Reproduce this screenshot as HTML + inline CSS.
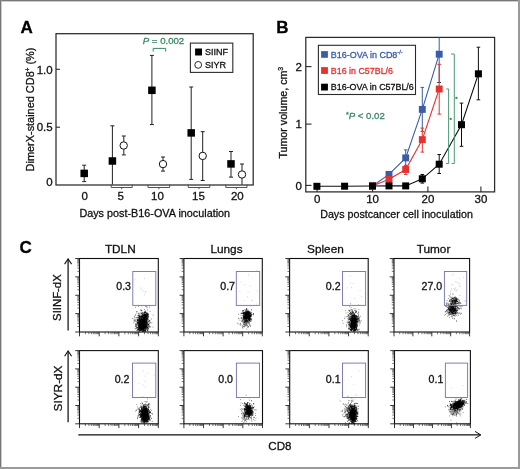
<!DOCTYPE html>
<html><head><meta charset="utf-8"><style>
html,body{margin:0;padding:0;background:#fff;}
svg{display:block;}
</style></head><body>
<svg width="520" height="469" viewBox="0 0 520 469" font-family='"Liberation Sans", sans-serif'>
<rect x="0" y="0" width="520" height="469" fill="#fff"/>
<defs><filter id="soft" x="0" y="0" width="520" height="469" filterUnits="userSpaceOnUse"><feGaussianBlur stdDeviation="0.25"/></filter></defs>
<g filter="url(#soft)">
<rect x="0" y="0" width="520" height="469" fill="#fff"/>
<text x="20.4" y="32.9" font-size="17" text-anchor="start" fill="#000" font-weight="bold"  stroke="#000" stroke-width="0.3">A</text>
<rect x="56" y="33.7" width="197.2" height="151.3" fill="none" stroke="#2a2a2a" stroke-width="1.25"/>
<line x1="56.00" y1="69.30" x2="60.00" y2="69.30" stroke="#2a2a2a" stroke-width="1.1" />
<line x1="56.00" y1="127.20" x2="60.00" y2="127.20" stroke="#2a2a2a" stroke-width="1.1" />
<text x="52.7" y="73.8" font-size="11.5" text-anchor="end" fill="#111" font-weight="normal"  stroke="#111" stroke-width="0.3">1.0</text>
<text x="52.7" y="130.9" font-size="11.5" text-anchor="end" fill="#111" font-weight="normal"  stroke="#111" stroke-width="0.3">0.5</text>
<text x="52.6" y="186.0" font-size="11.5" text-anchor="end" fill="#111" font-weight="normal"  stroke="#111" stroke-width="0.3">0</text>
<path d="M111.2 184.7 V187.5 H132.2 V184.7" fill="none" stroke="#444" stroke-width="0.9"/>
<line x1="121.70" y1="187.50" x2="121.70" y2="189.20" stroke="#444" stroke-width="0.9" />
<path d="M148.0 184.7 V187.5 H169.7 V184.7" fill="none" stroke="#444" stroke-width="0.9"/>
<line x1="158.85" y1="187.50" x2="158.85" y2="189.20" stroke="#444" stroke-width="0.9" />
<path d="M188.2 184.7 V187.5 H209.8 V184.7" fill="none" stroke="#444" stroke-width="0.9"/>
<line x1="199.00" y1="187.50" x2="199.00" y2="189.20" stroke="#444" stroke-width="0.9" />
<path d="M225.8 184.7 V187.5 H247.0 V184.7" fill="none" stroke="#444" stroke-width="0.9"/>
<line x1="236.40" y1="187.50" x2="236.40" y2="189.20" stroke="#444" stroke-width="0.9" />
<text x="84.8" y="199.6" font-size="11.5" text-anchor="middle" fill="#111" font-weight="normal"  stroke="#111" stroke-width="0.3">0</text>
<text x="120.7" y="199.6" font-size="11.5" text-anchor="middle" fill="#111" font-weight="normal"  stroke="#111" stroke-width="0.3">5</text>
<text x="157.5" y="199.6" font-size="11.5" text-anchor="middle" fill="#111" font-weight="normal"  stroke="#111" stroke-width="0.3">10</text>
<text x="198.5" y="199.6" font-size="11.5" text-anchor="middle" fill="#111" font-weight="normal"  stroke="#111" stroke-width="0.3">15</text>
<text x="237.3" y="199.6" font-size="11.5" text-anchor="middle" fill="#111" font-weight="normal"  stroke="#111" stroke-width="0.3">20</text>
<text x="79.4" y="217.3" font-size="11.5" text-anchor="start" fill="#111" font-weight="normal" textLength="150.7" lengthAdjust="spacingAndGlyphs" stroke="#111" stroke-width="0.3">Days post-B16-OVA inoculation</text>
<text transform="translate(33.9,171.4) rotate(-90)" font-size="11.5" fill="#111" textLength="123.8" lengthAdjust="spacingAndGlyphs" stroke="#111" stroke-width="0.3">DimerX-stained CD8<tspan font-size="6.6" dy="-4.3">+</tspan><tspan dy="4.3"> (%)</tspan></text>
<text x="142.8" y="44.3" font-size="9.6" fill="#3a8763" stroke="#3a8763" stroke-width="0.3"><tspan font-style="italic">P</tspan> = 0.002</text>
<path d="M153.2 51.6 V48.4 H165.7 V51.6" fill="none" stroke="#3a8763" stroke-width="1"/>
<rect x="190.4" y="43.1" width="42.4" height="29.3" fill="#fff" stroke="#2a2a2a" stroke-width="1.1"/>
<rect x="195.1" y="48.5" width="6.9" height="7" fill="#000"/>
<text x="204.9" y="54.9" font-size="9.0" text-anchor="start" fill="#111" font-weight="normal"  stroke="#111" stroke-width="0.3">SIINF</text>
<circle cx="198.2" cy="64.9" r="3.4" fill="#fff" stroke="#111" stroke-width="0.9"/>
<text x="205.1" y="68.2" font-size="9.0" text-anchor="start" fill="#111" font-weight="normal"  stroke="#111" stroke-width="0.3">SIYR</text>
<line x1="84.20" y1="165.20" x2="84.20" y2="181.60" stroke="#222" stroke-width="1.0" />
<line x1="82.20" y1="165.20" x2="86.20" y2="165.20" stroke="#222" stroke-width="1.0" />
<line x1="82.20" y1="181.60" x2="86.20" y2="181.60" stroke="#222" stroke-width="1.0" />
<rect x="80.45" y="169.65" width="7.5" height="7.5" fill="#000"/>
<line x1="112.40" y1="125.80" x2="112.40" y2="184.50" stroke="#222" stroke-width="1.0" />
<line x1="110.40" y1="125.80" x2="114.40" y2="125.80" stroke="#222" stroke-width="1.0" />
<rect x="108.65" y="157.25" width="7.5" height="7.5" fill="#000"/>
<line x1="123.80" y1="136.00" x2="123.80" y2="154.90" stroke="#222" stroke-width="1.0" />
<line x1="121.80" y1="136.00" x2="125.80" y2="136.00" stroke="#222" stroke-width="1.0" />
<line x1="121.80" y1="154.90" x2="125.80" y2="154.90" stroke="#222" stroke-width="1.0" />
<circle cx="123.7" cy="145.5" r="3.7" fill="#fff" stroke="#111" stroke-width="1"/>
<line x1="151.90" y1="55.40" x2="151.90" y2="124.60" stroke="#222" stroke-width="1.0" />
<line x1="149.90" y1="55.40" x2="153.90" y2="55.40" stroke="#222" stroke-width="1.0" />
<line x1="149.90" y1="124.60" x2="153.90" y2="124.60" stroke="#222" stroke-width="1.0" />
<rect x="148.15" y="86.55" width="7.5" height="7.5" fill="#000"/>
<line x1="163.00" y1="157.00" x2="163.00" y2="171.10" stroke="#222" stroke-width="1.0" />
<line x1="161.00" y1="157.00" x2="165.00" y2="157.00" stroke="#222" stroke-width="1.0" />
<line x1="161.00" y1="171.10" x2="165.00" y2="171.10" stroke="#222" stroke-width="1.0" />
<circle cx="163.0" cy="164.1" r="3.7" fill="#fff" stroke="#111" stroke-width="1"/>
<line x1="191.20" y1="87.00" x2="191.20" y2="179.40" stroke="#222" stroke-width="1.0" />
<line x1="189.20" y1="87.00" x2="193.20" y2="87.00" stroke="#222" stroke-width="1.0" />
<line x1="189.20" y1="179.40" x2="193.20" y2="179.40" stroke="#222" stroke-width="1.0" />
<rect x="187.45" y="129.15" width="7.5" height="7.5" fill="#000"/>
<line x1="202.70" y1="131.70" x2="202.70" y2="180.50" stroke="#222" stroke-width="1.0" />
<line x1="200.70" y1="131.70" x2="204.70" y2="131.70" stroke="#222" stroke-width="1.0" />
<line x1="200.70" y1="180.50" x2="204.70" y2="180.50" stroke="#222" stroke-width="1.0" />
<circle cx="202.7" cy="155.9" r="3.7" fill="#fff" stroke="#111" stroke-width="1"/>
<line x1="231.00" y1="151.50" x2="231.00" y2="177.10" stroke="#222" stroke-width="1.0" />
<line x1="229.00" y1="151.50" x2="233.00" y2="151.50" stroke="#222" stroke-width="1.0" />
<line x1="229.00" y1="177.10" x2="233.00" y2="177.10" stroke="#222" stroke-width="1.0" />
<rect x="227.25" y="160.15" width="7.5" height="7.5" fill="#000"/>
<line x1="242.00" y1="164.00" x2="242.00" y2="184.50" stroke="#222" stroke-width="1.0" />
<line x1="240.00" y1="164.00" x2="244.00" y2="164.00" stroke="#222" stroke-width="1.0" />
<circle cx="242.0" cy="174.5" r="3.7" fill="#fff" stroke="#111" stroke-width="1"/>
<text x="276.3" y="32.7" font-size="17" text-anchor="start" fill="#000" font-weight="bold"  stroke="#000" stroke-width="0.3">B</text>
<rect x="305.8" y="37.4" width="188.8" height="154.5" fill="none" stroke="#2a2a2a" stroke-width="1.25"/>
<line x1="305.80" y1="66.60" x2="311.50" y2="66.60" stroke="#2a2a2a" stroke-width="1.1" />
<line x1="305.80" y1="124.10" x2="311.50" y2="124.10" stroke="#2a2a2a" stroke-width="1.1" />
<line x1="305.80" y1="185.40" x2="311.50" y2="185.40" stroke="#2a2a2a" stroke-width="1.1" />
<text x="301.9" y="70.9" font-size="11.5" text-anchor="end" fill="#111" font-weight="normal"  stroke="#111" stroke-width="0.3">2</text>
<text x="301.9" y="128.0" font-size="11.5" text-anchor="end" fill="#111" font-weight="normal"  stroke="#111" stroke-width="0.3">1</text>
<text x="301.9" y="189.6" font-size="11.5" text-anchor="end" fill="#111" font-weight="normal"  stroke="#111" stroke-width="0.3">0</text>
<line x1="317.10" y1="191.90" x2="317.10" y2="186.60" stroke="#2a2a2a" stroke-width="1.1" />
<text x="317.1" y="202.6" font-size="11.5" text-anchor="middle" fill="#111" font-weight="normal"  stroke="#111" stroke-width="0.3">0</text>
<line x1="372.60" y1="191.90" x2="372.60" y2="186.60" stroke="#2a2a2a" stroke-width="1.1" />
<text x="372.6" y="202.6" font-size="11.5" text-anchor="middle" fill="#111" font-weight="normal"  stroke="#111" stroke-width="0.3">10</text>
<line x1="427.90" y1="191.90" x2="427.90" y2="186.60" stroke="#2a2a2a" stroke-width="1.1" />
<text x="427.9" y="202.6" font-size="11.5" text-anchor="middle" fill="#111" font-weight="normal"  stroke="#111" stroke-width="0.3">20</text>
<line x1="480.90" y1="191.90" x2="480.90" y2="186.60" stroke="#2a2a2a" stroke-width="1.1" />
<text x="480.9" y="202.6" font-size="11.5" text-anchor="middle" fill="#111" font-weight="normal"  stroke="#111" stroke-width="0.3">30</text>
<text x="320.2" y="217.8" font-size="11.5" text-anchor="start" fill="#111" font-weight="normal" textLength="152.7" lengthAdjust="spacingAndGlyphs" stroke="#111" stroke-width="0.3">Days postcancer cell inoculation</text>
<text transform="translate(287.3,158.6) rotate(-90)" font-size="11.8" fill="#111" textLength="91.8" lengthAdjust="spacingAndGlyphs" stroke="#111" stroke-width="0.3">Tumor volume, cm<tspan font-size="7.6" dy="-4.6">3</tspan></text>
<defs><clipPath id="cb"><rect x="305.8" y="37.4" width="188.8" height="154.5"/></clipPath></defs>
<g clip-path="url(#cb)">
<line x1="405.70" y1="149.90" x2="405.70" y2="165.90" stroke="#3a5cab" stroke-width="1.0" />
<line x1="403.90" y1="149.90" x2="407.50" y2="149.90" stroke="#3a5cab" stroke-width="1.0" />
<line x1="403.90" y1="165.90" x2="407.50" y2="165.90" stroke="#3a5cab" stroke-width="1.0" />
<line x1="422.30" y1="87.40" x2="422.30" y2="131.40" stroke="#3a5cab" stroke-width="1.0" />
<line x1="420.50" y1="87.40" x2="424.10" y2="87.40" stroke="#3a5cab" stroke-width="1.0" />
<line x1="420.50" y1="131.40" x2="424.10" y2="131.40" stroke="#3a5cab" stroke-width="1.0" />
<line x1="439.20" y1="20.00" x2="439.20" y2="82.50" stroke="#3a5cab" stroke-width="1.0" />
<line x1="437.40" y1="82.50" x2="441.00" y2="82.50" stroke="#3a5cab" stroke-width="1.0" />
<line x1="437.40" y1="82.50" x2="441.00" y2="82.50" stroke="#334" stroke-width="1.0" />
<line x1="389.00" y1="171.50" x2="389.00" y2="177.30" stroke="#3a5cab" stroke-width="1.0" />
<line x1="387.20" y1="171.50" x2="390.80" y2="171.50" stroke="#3a5cab" stroke-width="1.0" />
<line x1="387.20" y1="177.30" x2="390.80" y2="177.30" stroke="#3a5cab" stroke-width="1.0" />
<line x1="405.70" y1="165.30" x2="405.70" y2="174.40" stroke="#e5312e" stroke-width="1.0" />
<line x1="403.90" y1="165.30" x2="407.50" y2="165.30" stroke="#e5312e" stroke-width="1.0" />
<line x1="403.90" y1="174.40" x2="407.50" y2="174.40" stroke="#e5312e" stroke-width="1.0" />
<line x1="422.30" y1="128.10" x2="422.30" y2="152.10" stroke="#e5312e" stroke-width="1.0" />
<line x1="420.50" y1="128.10" x2="424.10" y2="128.10" stroke="#e5312e" stroke-width="1.0" />
<line x1="420.50" y1="152.10" x2="424.10" y2="152.10" stroke="#e5312e" stroke-width="1.0" />
<line x1="439.20" y1="64.30" x2="439.20" y2="114.10" stroke="#e5312e" stroke-width="1.0" />
<line x1="437.40" y1="64.30" x2="441.00" y2="64.30" stroke="#e5312e" stroke-width="1.0" />
<line x1="437.40" y1="114.10" x2="441.00" y2="114.10" stroke="#e5312e" stroke-width="1.0" />
<line x1="389.00" y1="176.80" x2="389.00" y2="181.80" stroke="#e5312e" stroke-width="1.0" />
<line x1="387.20" y1="176.80" x2="390.80" y2="176.80" stroke="#e5312e" stroke-width="1.0" />
<line x1="387.20" y1="181.80" x2="390.80" y2="181.80" stroke="#e5312e" stroke-width="1.0" />
<polyline points="372.5,186.0 389.0,174.4 405.7,157.9 422.3,109.4 439.2,54.2" fill="none" stroke="#3a5cab" stroke-width="1.1"/>
<polyline points="372.5,186.0 389.0,179.3 405.7,169.5 422.3,139.6 439.2,89.0" fill="none" stroke="#e5312e" stroke-width="1.1"/>
<rect x="369.05" y="182.55" width="6.9" height="6.9" fill="#3a5cab"/>
<rect x="385.55" y="170.95" width="6.9" height="6.9" fill="#3a5cab"/>
<rect x="402.25" y="154.45" width="6.9" height="6.9" fill="#3a5cab"/>
<rect x="418.85" y="105.95" width="6.9" height="6.9" fill="#3a5cab"/>
<rect x="435.75" y="50.75" width="6.9" height="6.9" fill="#3a5cab"/>
<rect x="369.05" y="182.55" width="6.9" height="6.9" fill="#e5312e"/>
<rect x="385.55" y="175.85" width="6.9" height="6.9" fill="#e5312e"/>
<rect x="402.25" y="166.05" width="6.9" height="6.9" fill="#e5312e"/>
<rect x="418.85" y="136.15" width="6.9" height="6.9" fill="#e5312e"/>
<rect x="435.75" y="85.55" width="6.9" height="6.9" fill="#e5312e"/>
<line x1="422.30" y1="174.50" x2="422.30" y2="183.10" stroke="#111" stroke-width="1.0" />
<line x1="420.50" y1="174.50" x2="424.10" y2="174.50" stroke="#111" stroke-width="1.0" />
<line x1="420.50" y1="183.10" x2="424.10" y2="183.10" stroke="#111" stroke-width="1.0" />
<line x1="439.20" y1="154.50" x2="439.20" y2="173.50" stroke="#111" stroke-width="1.0" />
<line x1="437.40" y1="154.50" x2="441.00" y2="154.50" stroke="#111" stroke-width="1.0" />
<line x1="437.40" y1="173.50" x2="441.00" y2="173.50" stroke="#111" stroke-width="1.0" />
<line x1="461.50" y1="103.10" x2="461.50" y2="146.30" stroke="#111" stroke-width="1.0" />
<line x1="459.70" y1="103.10" x2="463.30" y2="103.10" stroke="#111" stroke-width="1.0" />
<line x1="459.70" y1="146.30" x2="463.30" y2="146.30" stroke="#111" stroke-width="1.0" />
<line x1="478.40" y1="47.20" x2="478.40" y2="99.80" stroke="#111" stroke-width="1.0" />
<line x1="476.60" y1="47.20" x2="480.20" y2="47.20" stroke="#111" stroke-width="1.0" />
<line x1="476.60" y1="99.80" x2="480.20" y2="99.80" stroke="#111" stroke-width="1.0" />
<polyline points="316.9,186.3 344.6,186.2 372.5,186.0 389.0,185.9 405.7,185.9 422.3,178.8 439.2,164.2 461.5,124.7 478.4,73.8" fill="none" stroke="#111" stroke-width="1.1"/>
<rect x="313.40" y="182.80" width="7.0" height="7.0" fill="#000"/>
<rect x="341.10" y="182.70" width="7.0" height="7.0" fill="#000"/>
<rect x="369.00" y="182.50" width="7.0" height="7.0" fill="#000"/>
<rect x="385.50" y="182.40" width="7.0" height="7.0" fill="#000"/>
<rect x="402.20" y="182.40" width="7.0" height="7.0" fill="#000"/>
<rect x="418.80" y="175.30" width="7.0" height="7.0" fill="#000"/>
<rect x="435.70" y="160.70" width="7.0" height="7.0" fill="#000"/>
<rect x="458.00" y="121.20" width="7.0" height="7.0" fill="#000"/>
<rect x="474.90" y="70.30" width="7.0" height="7.0" fill="#000"/>
</g>
<path d="M451.0 54.0 H454.3 V163.5 H451.6" fill="none" stroke="#4a9a74" stroke-width="1"/>
<path d="M446.2 89.0 H448.6 V163.5 H446.0" fill="none" stroke="#4a9a74" stroke-width="1"/>
<text x="456.5" y="100.6" font-size="6.2" text-anchor="middle" fill="#3a8763" font-weight="normal"  stroke="#3a8763" stroke-width="0.3">*</text>
<text x="450.8" y="122.3" font-size="6.2" text-anchor="middle" fill="#3a8763" font-weight="normal"  stroke="#3a8763" stroke-width="0.3">*</text>
<rect x="318.4" y="45.3" width="97.1" height="49.2" fill="#fff" stroke="#2a2a2a" stroke-width="1.1"/>
<rect x="321.1" y="51.1" width="6.8" height="6.7" fill="#3a5cab"/>
<text x="330.8" y="57.8" font-size="9.0" fill="#3a5cab" textLength="72" lengthAdjust="spacingAndGlyphs" stroke="#3a5cab" stroke-width="0.3">B16-OVA in CD8<tspan font-size="5.8" dy="-3.4">-/-</tspan></text>
<rect x="321.1" y="67.1" width="6.8" height="6.8" fill="#e5312e"/>
<text x="330.8" y="74.1" font-size="9.0" text-anchor="start" fill="#e5312e" font-weight="normal" textLength="62.2" lengthAdjust="spacingAndGlyphs" stroke="#e5312e" stroke-width="0.3">B16 in C57BL/6</text>
<rect x="321.1" y="83.7" width="6.8" height="6.8" fill="#000"/>
<text x="330.8" y="90.4" font-size="9.0" text-anchor="start" fill="#111" font-weight="normal" textLength="83" lengthAdjust="spacingAndGlyphs" stroke="#111" stroke-width="0.3">B16-OVA in C57BL/6</text>
<text x="345.9" y="118.8" font-size="9.6" fill="#3a8763" stroke="#3a8763" stroke-width="0.3"><tspan font-size="7.2" dy="-1.6">*</tspan><tspan font-style="italic" dy="1.6">P</tspan> &lt; 0.02</text>
<text x="19.6" y="253.4" font-size="17" text-anchor="start" fill="#000" font-weight="bold"  stroke="#000" stroke-width="0.3">C</text>
<text x="120.3" y="252.6" font-size="11.8" text-anchor="middle" fill="#111" font-weight="normal"  stroke="#111" stroke-width="0.3">TDLN</text>
<text x="226.5" y="252.6" font-size="11.8" text-anchor="middle" fill="#111" font-weight="normal"  stroke="#111" stroke-width="0.3">Lungs</text>
<text x="325.4" y="252.6" font-size="11.8" text-anchor="middle" fill="#111" font-weight="normal"  stroke="#111" stroke-width="0.3">Spleen</text>
<text x="433.5" y="252.6" font-size="11.8" text-anchor="middle" fill="#111" font-weight="normal"  stroke="#111" stroke-width="0.3">Tumor</text>
<defs><filter id="bl" x="-20%" y="-20%" width="140%" height="140%"><feGaussianBlur stdDeviation="0.3"/></filter></defs>
<path d="M145.5 292.6h.7m.7 14.2h.7m-7.1-18.8h.7m.2 1.4h.7m2.7 2.1h.7m-2.7-.4h.7m.8 3.6h.7m-10.4-14.9h.7m8.8-1.3h.7" fill="none" stroke="#aaa" stroke-width="0.7"/>
<g filter="url(#bl)"><path d="M141.5 323.8h.7m-.6-4.5h.7m-3.4 .6h.7m7.1 3.5h.7m-1.0-1.0h.7m-3.1-.3h.7m-8.5 3.7h.7m7.6-2.0h.7m-9.1-12.3h.7m2.3 7.0h.7m3.8 2.3h.7m.1-3.3h.7m-1.5 5.7h.7m-4.4 7.3h.7m3.9-2.9h.7m-5.2-10.7h.7m.3 3.5h.7m3.0 2.0h.7m-4.8-6.6h.7m-1.0 12.0h.7m-1.8-5.4h.7m4.0-9.5h.7m-2.1 15.4h.7m-8.5-9.0h.7m6.6-2.7h.7m1.6 4.2h.7m-8.2 4.9h.7m7.4 .6h.7m2.2-3.2h.7m-5.7-9.1h.7m1.2 3.8h.7m-4.8-3.6h.7m-2.7 4.0h.7m7.9-8.3h.7m-11.1 12.5h.7m10.3 1.9h.7m-13.4-17.0h.7m7.9 9.8h.7m-6.3 9.4h.7m7.7-4.5h.7m-4.0 1.5h.7m4.4 1.0h.7m-4.8-.4h.7m-8.6 4.0h.7m8.9-4.1h.7m-11.8-6.4h.7m10.0-6.5h.7m-4.6 15.6h.7m-5.0 3.2h.7m6.4-9.7h.7m-1.6 4.4h.7m-1.5 2.7h.7m-3.7-8.6h.7m5.8 2.4h.7m-8.0 5.1h.7m8.2-7.7h.7m-11.5 1.7h.7m4.0-.9h.7m5.2-4.0h.7m-1.2-1.3h.7m-8.5 10.4h.7m6.6 1.3h.7m-3.7-3.9h.7m-1.4 2.4h.7m-1.9-1.6h.7m2.1-1.5h.7m.0 3.1h.7m4.0-1.3h.7m-10.0-3.8h.7m.9 7.1h.7m-1.9-3.0h.7m7.6-16.2h.7m-12.0 15.4h.7m5.1-.0h.7m-3.9 2.3h.7m2.0-6.5h.7m7.5 4.8h.7m-12.0-2.5h.7m.5 .2h.7m-10.2-2.3h.7m13.5-3.7h.7m-4.8 11.7h.7m2.8 3.0h.7m-10.4-10.1h.7m4.5 5.4h.7m4.7-18.2h.7m-.7 6.8h.7m-2.2-.2h.7m-2.6 14.8h.7m-1.9-5.5h.7m2.9-.3h.7m-4.1 7.7h.7m3.6-10.0h.7m5.7-4.7h.7m-7.7 4.8h.7m-3.7 5.3h.7m-.4-.4h.7m-7.3-11.8h.7m7.4 3.0h.7m-6.9-2.8h.7m8.0 12.2h.7m.1-9.3h.7m-6.3-1.1h.7m2.2 15.0h.7m-7.0-.2h.7m6.4-9.6h.7m-11.9 8.7h.7m6.4-11.1h.7m1.2 5.6h.7m3.5-7.9h.7m-2.1 13.8h.7m.5-9.2h.7m-9.0 6.6h.7m2.6-4.9h.7m4.3-2.1h.7m-14.8-.7h.7m1.0 6.6h.7m7.5-7.9h.7m-1.9 7.9h.7m-.4 2.7h.7m-1.2-1.6h.7m5.2 3.1h.7m-8.9-4.0h.7m-5.3-10.8h.7m-1.0 11.8h.7m2.1-5.9h.7m3.3-.1h.7m-2.2 1.4h.7m8.4-1.0h.7m-5.5 5.3h.7m-3.5-12.4h.7m-2.1 12.8h.7m-4.8-9.2h.7m9.4 7.6h.7m-4.5 .1h.7m-.1-10.9h.7m-7.3 3.0h.7m8.7 .4h.7m-7.6-1.1h.7m-3.1 3.6h.7m.6 2.6h.7m-5.2-.2h.7m5.8-12.5h.7m4.5 9.2h.7m-11.9-3.3h.7m8.9 2.3h.7m1.2 6.6h.7m-1.1-2.3h.7m1.8 1.8h.7m-4.1-15.1h.7m1.0 18.7h.7m-5.2-9.8h.7m7.8-7.1h.7m-11.6 13.5h.7m10.0-4.5h.7m-5.7 5.6h.7m-6.3-5.5h.7m3.9 5.0h.7m-1.9-5.6h.7m-4.4-.9h.7m6.5 2.5h.7m-7.3-5.2h.7m12.7 10.9h.7m-8.4-20.5h.7m-.8 16.9h.7m3.3-.3h.7m-7.4 .5h.7m-7.8 2.8h.7m7.9-9.5h.7m3.1 13.8h.7m-11.1-13.6h.7m5.7 4.7h.7m-3.3-6.4h.7m8.9 11.1h.7m-13.3-13.1h.7m10.3 12.8h.7m-.3-1.0h.7m-10.9-3.0h.7m-5.6-5.5h.7m7.3 7.0h.7m-3.2-3.6h.7m3.8 2.8h.7m-.0-.9h.7m-4.4 3.2h.7m.7-8.9h.7m-3.3 4.5h.7m1.3 .9h.7m-.3 .1h.7m-1.2-7.9h.7m1.4 12.7h.7m-.6-6.8h.7m-.7-4.3h.7m-9.6 5.6h.7m3.0 3.7h.7m-1.3-18.5h.7m-.5 23.1h.7m1.8-16.2h.7m-2.1 10.4h.7m4.1-1.9h.7m3.1 2.9h.7m-6.4-.6h.7m5.7 2.1h.7m-3.1-11.3h.7m-5.2 10.0h.7m-1.3 1.9h.7m2.7-.9h.7m1.7-6.2h.7m-6.7 6.0h.7m4.3-4.8h.7m-8.9 1.0h.7m5.1 5.2h.7m.9-6.1h.7m-.4 2.8h.7m-3.2-2.7h.7m-2.4 3.5h.7m-3.8-7.2h.7m3.3-4.6h.7m-2.4-3.0h.7m-1.6 14.2h.7m4.0-3.4h.7m-3.7-7.5h.7m7.1 10.6h.7m-3.5-7.7h.7m-5.6-5.2h.7m3.0 15.2h.7m-10.9-5.4h.7m8.9-9.4h.7m-10.0 3.8h.7m3.8-1.9h.7m1.8 9.1h.7m1.6 2.5h.7m2.6 2.5h.7m-11.4-9.2h.7m.3-3.1h.7m3.0 6.0h.7m1.5-8.8h.7m-7.3 8.6h.7m3.2-1.6h.7m-.2-2.5h.7m2.2 6.1h.7m-3.7-5.6h.7m-1.0-11.3h.7m-3.8 15.2h.7m-2.7 .9h.7m5.6-8.7h.7m-2.2 5.9h.7m2.0 5.1h.7m-2.6-8.0h.7m-1.1 4.3h.7m2.6 2.0h.7m-6.2-9.1h.7m.6 3.4h.7m-3.5 3.4h.7m1.7 1.2h.7m3.2-2.9h.7m6.1 .5h.7m-5.3 2.4h.7m-.6-13.7h.7m-7.8 14.4h.7m3.4 5.7h.7m1.0-1.8h.7m-1.7-6.1h.7m-.7-5.1h.7m1.9 .3h.7m-6.0 5.7h.7m4.6 .0h.7m-8.2 1.3h.7m4.6 2.5h.7m-5.8 5.7h.7m8.6-9.5h.7m-6.0-2.5h.7m3.7-1.5h.7m-3.5 1.2h.7m-5.9 6.6h.7m7.0-4.0h.7m-8.3 4.5h.7m1.7-2.8h.7m5.3 4.5h.7m-6.5-1.9h.7m-3.2-4.6h.7m-4.9 10.1h.7m11.1-16.5h.7m-11.6-2.2h.7m9.5 6.4h.7m-5.4 .8h.7m-.9-4.3h.7m-.1-1.9h.7m-1.1 9.6h.7m1.3-3.0h.7m-5.9 2.2h.7m.9 7.7h.7m4.1-9.2h.7m-5.4-3.2h.7m-2.5 1.9h.7" fill="none" stroke="#333" stroke-width="0.7"/>
<path d="M139.4 327.0h.8m.2 .0h.8m2.7-1.3h.8m-1.4-1.6h.8m-5.6 .3h.8m3.9-2.0h.8m-2.2 5.1h.8m-2.7-.4h.8m6.1-4.8h.8m-5.1 1.6h.8m2.7 1.9h.8m-2.4-4.0h.8m-3.1 2.7h.8m-5.2 5.8h.8m5.9-12.8h.8m-1.2 6.5h.8m-1.5 2.0h.8m-5.7-2.3h.8m6.7-1.5h.8m-7.1-3.1h.8m-1.3 6.8h.8m6.5 .4h.8m-6.3-4.4h.8m1.8 4.9h.8m-4.7-6.9h.8m2.5 5.7h.8m-4.8-1.8h.8m1.1 2.6h.8m.3-2.2h.8m-1.4 4.6h.8m3.6-5.7h.8m-2.2-1.6h.8m-2.7 6.0h.8m2.8-4.5h.8m-4.8 2.3h.8m-4.4-.7h.8m1.3 1.4h.8m-1.9-9.4h.8m2.1 8.9h.8m-2.3 2.5h.8m-.1-6.0h.8m1.1-3.8h.8m-3.7 6.2h.8m3.0-.6h.8m-2.2-2.0h.8m-.8 9.3h.8m-3.2-6.6h.8m1.2 4.0h.8m-4.3-12.5h.8m3.8 11.6h.8m-1.8-2.2h.8m1.0 .5h.8m1.0-6.4h.8m-5.9-8.8h.8m2.2 12.3h.8m-2.8 .5h.8m-2.0-2.3h.8m-1.1 5.9h.8m.9-2.3h.8m-1.3 3.4h.8m.9-4.2h.8m-.4-.0h.8m-5.3 6.4h.8m3.2-9.7h.8m.7 5.2h.8m-7.4 5.1h.8m3.9-2.9h.8m-1.1-4.2h.8m-5.2 4.5h.8m3.1-5.0h.8m.0 1.5h.8m.0-1.8h.8m-2.6-7.1h.8m-1.8 11.3h.8m3.6-4.2h.8m-4.4 7.8h.8m-1.3-3.4h.8m4.2-2.8h.8m-1.9-3.0h.8m-3.3 2.5h.8m-1.0 4.8h.8m4.9-7.2h.8m-8.2 4.7h.8m-2.0-.0h.8m3.3-3.1h.8m-.9-5.1h.8m-.2 .0h.8m-4.4 4.0h.8m-.1 5.7h.8m.4-5.0h.8m.4 7.9h.8m-2.1-4.9h.8m2.3-.4h.8m1.6-9.0h.8m-6.4 9.6h.8m1.7 1.0h.8m-3.9-6.9h.8m.1 8.3h.8m-3.8-8.2h.8m1.9-3.6h.8m-1.4 6.0h.8m1.0-1.1h.8m-4.1 1.2h.8m1.3-1.1h.8m-.6 5.7h.8m2.1 3.8h.8m-5.7-8.5h.8m-.7 1.5h.8m2.3-5.3h.8m-.9 5.3h.8m-6.5 1.3h.8m6.8-8.6h.8m-1.8 8.3h.8m-1.6 .9h.8m1.3-2.7h.8m-1.9-.7h.8m-1.2-1.6h.8m-1.5 2.6h.8m-4.8-2.5h.8m2.5 6.9h.8m-.2-1.7h.8m-2.0 3.3h.8m-1.7-7.6h.8m2.4 2.5h.8m-3.7-2.6h.8m-.7 4.8h.8m.7-7.3h.8m-.6 5.6h.8m-4.4 2.4h.8m1.0-4.4h.8m1.9 6.6h.8m-4.5-3.5h.8m-.3 3.0h.8m-1.2-1.5h.8m6.4-13.4h.8m-7.4 12.2h.8m.1-4.7h.8m4.8 3.0h.8m-10.3 3.1h.8m-1.0 1.2h.8m2.1-4.0h.8m3.8-.1h.8m-7.4-7.3h.8m5.6 9.7h.8m-5.8 .5h.8m2.5-.8h.8m-7.7-3.8h.8m7.1 4.1h.8m-.8-12.8h.8m-2.6 11.8h.8m5.2-5.8h.8m-8.0 4.0h.8m2.2-1.9h.8m-.1-1.4h.8m-3.0 1.0h.8m-1.1-.7h.8m-5.2 7.1h.8m4.0-6.6h.8m-1.1 6.2h.8m-3.7-4.4h.8m3.0 2.5h.8m-3.0-10.5h.8m3.1 9.7h.8m-3.9-2.4h.8m-.2-.6h.8m-4.0-1.3h.8m.3 .5h.8m-2.2 5.0h.8m-1.2 .1h.8m-.1-1.2h.8m5.2-.6h.8m-6.1-.6h.8m1.4-7.1h.8m-2.7 7.6h.8m-.5-.3h.8m2.2 2.7h.8m-.4-.7h.8m-3.8-2.4h.8m-.8-1.2h.8m-.6-5.6h.8m-1.2 6.8h.8m-2.4 .0h.8m2.9-.6h.8m3.1-9.8h.8m-6.5 3.1h.8m-6.5 7.8h.8m6.8-1.7h.8m-.7-7.8h.8m-.0 10.5h.8m-2.9-3.8h.8m.7 .4h.8m-1.8-.1h.8m-7.0 1.9h.8m5.3 3.1h.8m-3.5-3.1h.8m2.9 .7h.8m-4.6-8.3h.8m3.6 13.8h.8m-.6-2.9h.8m-4.7-6.1h.8m3.0-.8h.8m-7.6-.3h.8m2.0 1.1h.8m1.5-.1h.8m1.9 2.7h.8m-6.8 5.5h.8m.5-4.4h.8m.6-2.1h.8m.0-1.5h.8m-6.2-6.1h.8m.6 5.8h.8m2.3 3.3h.8m.6 .3h.8m-4.2-3.3h.8m-4.1 2.2h.8m5.7 2.8h.8m-2.3-2.8h.8m1.8 .8h.8m-1.3 2.3h.8m-2.1 2.9h.8m-2.8-6.7h.8m-1.4-1.8h.8m1.3 5.5h.8m2.1 1.0h.8m-.7-8.3h.8m-5.4 6.9h.8m4.4-1.4h.8m-6.5-1.8h.8m-.3-2.0h.8m4.6 .9h.8m-1.6 3.8h.8m-5.3 .3h.8m4.8 .9h.8m-1.7-2.1h.8m-2.7-1.2h.8m-1.0 6.0h.8m-5.4-5.5h.8m3.4-2.0h.8m-2.2 5.4h.8m5.0-.6h.8m-5.0-8.7h.8m3.2 6.5h.8m-5.7-4.8h.8m-.9 .1h.8m-.5 6.2h.8m-.9-.7h.8m-3.0 4.6h.8m-.3-13.0h.8m.4 4.2h.8m-2.9 1.6h.8m2.5-3.3h.8m-1.9 10.4h.8m1.3-6.3h.8m-2.2 .1h.8m-1.2 3.4h.8m-.9-12.5h.8m-.6 6.1h.8m.9 1.1h.8m-5.0-2.1h.8m-1.7-5.1h.8m-2.0 11.0h.8m2.3-8.9h.8m-2.9 9.9h.8m1.0-3.9h.8m2.0 6.9h.8m3.2-1.3h.8m-5.3-3.4h.8m3.3 5.0h.8m-6.1-3.9h.8m.7-1.6h.8m-2.8-5.5h.8m-.9-.9h.8m3.6 8.3h.8m-6.9 3.4h.8m4.4-13.2h.8m1.6 10.9h.8m-.2-8.2h.8m-4.6 6.6h.8m-1.6-1.0h.8m1.3-6.7h.8m-6.5 .4h.8m.9 3.2h.8m1.5 3.5h.8m-1.6-3.8h.8m-2.0 6.5h.8m2.2-3.4h.8m-3.5 5.8h.8m-1.5-3.6h.8m3.6-3.7h.8m-1.6-3.4h.8m-.3 5.3h.8m-7.3 1.9h.8m.9 2.4h.8m-.3-5.8h.8m1.6-.7h.8m-.9-.9h.8m.2 2.2h.8m-2.0-11.0h.8m1.6 11.1h.8m-8.2 .3h.8m4.8 3.9h.8m-4.7 1.9h.8m1.5-3.5h.8m-1.4-7.2h.8m2.9 8.1h.8m.3-.2h.8m-6.1-10.1h.8m-1.0 3.9h.8m-1.2 5.0h.8m2.1-3.4h.8m-1.2 .5h.8m-.7 3.6h.8m1.1-5.8h.8m-7.0 8.5h.8m3.3-1.3h.8m-5.2-5.7h.8m3.4-4.4h.8m-2.2 8.7h.8m3.2 3.5h.8m-5.7-12.0h.8m2.7 9.4h.8m-1.6-9.0h.8m.7 8.4h.8m-1.4-5.1h.8m-1.4 5.1h.8m-3.0-10.5h.8m1.4 9.3h.8m-1.6 1.6h.8m-2.3-3.9h.8m-.1 2.6h.8m4.0-3.3h.8m.3 7.1h.8m-4.0-3.8h.8m1.7-3.1h.8m-5.5-3.5h.8m.7 9.6h.8m-.7-3.7h.8m-2.6-1.0h.8m-3.9 3.5h.8m1.7-8.6h.8m-1.7 1.1h.8m3.2 7.5h.8m-6.3-.5h.8m4.8-6.0h.8m-6.7-.7h.8m1.3 4.4h.8m-.1-9.5h.8m.7 2.0h.8m.9 1.3h.8m-4.8 1.4h.8m-.4 8.6h.8m2.7-2.8h.8m-2.1-8.6h.8m-2.9 4.0h.8m-1.9 4.2h.8m-.2-4.9h.8m-1.6-5.4h.8m3.3 13.6h.8m-1.9-9.2h.8m-8.0 4.6h.8m9.0 .5h.8m-1.5 4.7h.8m-.3-7.7h.8m-1.0 4.9h.8m-7.3-4.7h.8m-.5 1.2h.8m4.2-3.8h.8m-7.4 9.5h.8m5.3 .7h.8m-5.1-1.6h.8m2.0-3.2h.8m-.7 2.9h.8m2.2-3.6h.8m-6.8 2.6h.8m1.4-.4h.8m1.0 4.0h.8m1.4-8.3h.8m-5.0 3.5h.8m3.5 3.3h.8m-2.5-10.3h.8m-5.2 6.3h.8m.2 3.6h.8m3.3-11.2h.8m-4.8 7.4h.8m.0-1.3h.8m1.6-2.6h.8m-.8 .7h.8m-3.3 4.7h.8m-.9-1.0h.8m4.6-1.0h.8m-5.2 2.8h.8m-1.3 1.4h.8m-3.1-1.9h.8m1.1-5.7h.8m4.9-.2h.8m-.8 6.0h.8m-1.6-6.5h.8m-1.4 9.7h.8m-4.1-6.3h.8m5.6 1.2h.8m-8.0-3.2h.8m1.4 3.8h.8m-1.5 5.6h.8m-2.1-5.0h.8m3.7-5.9h.8m-7.8-.4h.8m-.0-3.0h.8m2.9-.0h.8m-.7 13.2h.8m-6.1-7.1h.8m-1.6 4.4h.8m2.2-4.2h.8m1.2 3.2h.8m-1.8-2.1h.8m-1.3 .4h.8m-2.4-.2h.8m-2.7-2.2h.8m8.8 2.3h.8m-8.7 .7h.8m-.1-7.6h.8m-.2 9.6h.8m2.0-3.3h.8m-4.1-3.9h.8m4.9 5.3h.8m-6.6-9.4h.8m-1.3 8.1h.8m2.6-.3h.8m-2.0-4.9h.8m-2.7 12.2h.8m-.1-3.4h.8m-3.1-4.5h.8m4.1 5.2h.8m-4.3-1.8h.8m3.0-5.3h.8m-.6-.6h.8m-4.0 3.5h.8m-5.6-.4h.8m3.5-5.4h.8m.6 8.9h.8m-.7 2.0h.8m-2.7-10.3h.8m6.0 6.8h.8m-2.3-4.9h.8m-1.2 4.3h.8m-1.2-.9h.8m.6-2.7h.8m-6.2-3.3h.8m4.5 3.0h.8m-6.3-.8h.8m.7-1.3h.8m-.4 2.6h.8m-1.5-1.3h.8m.7 2.0h.8m-.6 2.8h.8m-.2-9.8h.8m-3.0 5.6h.8m2.5-3.1h.8m-4.5 5.1h.8m.1 5.1h.8m-1.1-.1h.8m-3.4-11.1h.8m5.9 9.0h.8m-2.6-1.2h.8m-.8-5.4h.8m.4 2.7h.8m-.7 2.5h.8m-8.2-5.5h.8m7.0 4.6h.8m-4.6 1.5h.8m-.9-3.1h.8m.5 2.8h.8m2.7-.4h.8m-.3 4.1h.8m-4.8-3.7h.8m-1.5-3.5h.8m-.6 .4h.8m3.5 4.7h.8m-6.0-9.8h.8m.2 6.0h.8m-3.4-2.9h.8m-3.7 6.8h.8m4.7-2.9h.8m2.9 1.1h.8m-4.0-2.0h.8m-2.7 7.5h.8m3.2 .9h.8m-4.2-6.7h.8m-2.1 3.7h.8m-2.1-1.6h.8m5.4 3.4h.8m-5.9-1.3h.8m-.2-7.4h.8m-2.3 7.7h.8m6.6-7.0h.8m-6.8 1.0h.8m7.4 5.4h.8m-8.4-11.2h.8m-1.1 11.9h.8m5.6-5.8h.8m-7.2-1.0h.8m-3.8 5.7h.8m1.2 .6h.8m-2.4-9.3h.8m4.2 2.0h.8m.4 3.1h.8m-5.7 2.5h.8m4.2-10.1h.8m1.7 9.6h.8m-3.5-9.4h.8m-4.5 6.0h.8m3.7-4.4h.8m-5.7-2.3h.8m.8 9.5h.8m-4.4-3.7h.8m4.7 8.7h.8m-.4-7.6h.8m-5.4-2.5h.8m.5 4.3h.8m.7 6.1h.8m.0-11.0h.8m2.3 8.1h.8m-4.4-6.7h.8m-5.7-1.2h.8m6.2 .9h.8m-6.4 4.0h.8m3.1 1.6h.8m.2 3.2h.8m-4.5-1.7h.8m-1.2-1.1h.8m2.1-1.8h.8m1.2-1.0h.8m-.4 3.6h.8m-3.2-5.8h.8m-3.0 .2h.8m.6 2.0h.8m7.2 2.7h.8m-6.3-6.0h.8m-4.5 2.2h.8m1.5-2.9h.8m2.7 1.9h.8m-2.1-7.1h.8m-3.5 10.5h.8m-.3 1.3h.8m-.6-1.8h.8m-6.2-3.5h.8m-1.9 5.4h.8m5.8-3.3h.8m-3.6-1.5h.8m1.1 7.5h.8m-4.6-12.9h.8m2.0 4.2h.8m-1.0 4.3h.8m8.2-3.4h.8m-8.2 3.7h.8m-1.0 2.6h.8m3.7-8.7h.8m-4.8 3.9h.8m-.3-5.1h.8m-6.1-3.1h.8m4.9 10.0h.8m-1.9-10.2h.8m-1.9 6.4h.8m-3.4-.6h.8m4.5 5.8h.8m-2.6-.1h.8m-2.3-1.8h.8m.8 1.9h.8m-1.1-2.8h.8m-1.0-2.0h.8m5.1 4.6h.8m-2.9-8.3h.8m-2.6 9.6h.8m2.2 1.9h.8m-3.6-10.0h.8m-4.9 5.8h.8m2.6-5.2h.8m-3.0 2.5h.8m.3 2.9h.8m-1.7-6.3h.8m3.0 11.3h.8m-4.2-2.3h.8m.6-1.5h.8m-.7-5.7h.8m-.6 7.1h.8m2.7-1.1h.8m-6.6-5.4h.8m-2.0 2.9h.8m1.2 2.2h.8m5.0-2.8h.8m-4.8 2.0h.8m-1.8-2.7h.8m-1.8-2.5h.8m-.0 3.2h.8m-.4-3.3h.8m-1.5 3.6h.8m.6-4.4h.8m-1.3 8.2h.8m-.4-5.4h.8m-3.5 .5h.8m2.3 7.2h.8m-3.0-8.8h.8m.5 3.4h.8m-4.0-3.8h.8m1.2 5.6h.8m-3.5-6.8h.8m3.4-.8h.8m-1.8 6.3h.8m-1.3-5.5h.8m-.7 2.7h.8m.2-2.0h.8m1.1-3.3h.8m-4.0 6.7h.8m2.0-2.5h.8m-1.8 .2h.8m-3.2 4.0h.8m-2.1 2.1h.8m4.5-3.8h.8m-6.7 1.5h.8m4.9 2.7h.8m-1.6-11.7h.8m-4.5 13.0h.8m-2.2-1.2h.8m7.0-1.5h.8m-2.7-4.4h.8m-6.7 .9h.8m1.8 .2h.8m1.4-.4h.8m-2.1 2.3h.8m-.2-1.4h.8m-2.4-2.8h.8m3.1 3.1h.8m-6.9-2.8h.8m1.6 .5h.8m2.3-2.9h.8m-2.3 5.2h.8m-5.0-.4h.8m1.9 1.8h.8m-1.7-.8h.8m-3.8-5.5h.8m5.3 8.5h.8m-2.8-6.6h.8m1.9-6.0h.8m-5.5 11.1h.8m2.8-6.8h.8m-7.1 9.9h.8m4.3-9.4h.8m-1.0 7.2h.8m-7.4 .8h.8m7.5-12.8h.8m-.7 1.2h.8m.1 8.7h.8m2.0-4.0h.8m-6.4 6.6h.8m-2.4-7.0h.8m-.1 2.5h.8m-2.6 2.2h.8m3.3-1.7h.8m2.1-1.6h.8m-1.8-.9h.8m-2.2-5.6h.8m-2.2 7.0h.8m-2.5-1.7h.8m-.4-.4h.8m-5.4 .5h.8m3.3 .3h.8m-2.1 1.6h.8m3.8-.5h.8m-4.0 6.4h.8m2.9-1.7h.8m-.4-5.0h.8m-4.0 5.8h.8m-1.9-4.9h.8m1.5 2.0h.8m-2.4 2.4h.8m-.6-1.0h.8m2.3-.3h.8m-1.6-7.3h.8m-5.9 2.2h.8m3.7 8.5h.8m-5.0-4.8h.8m.1-4.2h.8m.6 5.7h.8m.4 2.0h.8m-3.8-1.2h.8m4.0-3.3h.8m-1.9-2.5h.8m-4.7 .6h.8m.7 8.2h.8m.9-5.4h.8m.6-4.4h.8m-.4 4.6h.8m-6.9 .9h.8m4.4-.6h.8m1.8-3.5h.8m-3.5 4.7h.8m-4.3 1.8h.8m-2.2-10.0h.8m4.1 .8h.8m-2.4-2.2h.8m-.3 2.0h.8m-.1-1.6h.8m-.5 5.1h.8m-1.8 .8h.8m-.6-5.0h.8m-7.5 5.4h.8m3.3-2.0h.8m2.6-6.1h.8m-3.8 5.5h.8m-1.5 3.7h.8m1.5-4.6h.8m-2.9 6.5h.8m.0-.9h.8m2.0-9.9h.8m-4.6 7.6h.8m2.8 3.1h.8m.4 1.0h.8m-3.7-5.0h.8m2.1-.9h.8m-.1-4.7h.8m-1.8 5.7h.8m-7.4 4.6h.8m4.9-3.8h.8m-4.3-1.9h.8m5.7-1.4h.8m-13.3-.1h.8m4.9 2.9h.8m1.2-3.1h.8m-1.9 7.8h.8m-.1-8.6h.8m2.5 6.6h.8m-5.4 .7h.8m-2.8-6.7h.8m6.6 2.7h.8m-6.9 3.1h.8m4.7-2.1h.8m-7.6-1.3h.8m4.8 4.5h.8m2.8-4.1h.8m-6.6 .9h.8m3.4-3.6h.8m-.6-7.2h.8m-2.1 8.3h.8m-1.6 5.5h.8m-4.9-3.1h.8m2.8 2.7h.8m-3.7-6.3h.8m1.0 3.1h.8m-4.1 4.6h.8m1.6 2.0h.8m2.7-5.7h.8m-1.1-4.5h.8m-3.4 2.1h.8m-3.2 2.4h.8m2.0 5.7h.8m-8.8-8.4h.8m5.3 .8h.8m2.6 3.5h.8m-1.8-3.5h.8m.4 3.3h.8m-6.6-2.5h.8m.4-3.7h.8m3.0 5.0h.8m-.9-3.7h.8m-1.6-.1h.8m.7 6.4h.8m2.6 2.3h.8m-7.2-6.9h.8m-1.1 3.1h.8m6.8-7.8h.8m-7.1-3.9h.8m.6 3.5h.8m1.1-.4h.8m1.9-2.3h.8m-4.7 5.6h.8m1.0-5.5h.8m-4.4-1.5h.8m-1.4 3.2h.8m2.9 1.8h.8m-1.1-3.4h.8m-1.7 5.2h.8m-2.3-3.5h.8m1.9 .9h.8m-1.4-.2h.8m1.0-1.3h.8m-2.7-.1h.8m-1.6-.0h.8m.2 .8h.8m1.7 2.2h.8m-3.5-1.4h.8m.3 .3h.8m-1.2-1.0h.8m-1.5-2.1h.8m1.2 4.2h.8m-1.1-1.7h.8m-1.4-1.8h.8m-3.9 2.2h.8m2.2-2.4h.8m-2.5 3.7h.8m-2.1 1.0h.8m2.9 1.2h.8m-2.8-4.8h.8m-.5 .4h.8m-.4-1.8h.8m1.1-.1h.8m-3.2 2.7h.8m-.8-2.0h.8m.5 .1h.8m-3.2 .5h.8m.7 3.6h.8m-2.1-1.5h.8m-.3-2.7h.8m-.1 1.3h.8m1.0 3.0h.8m-3.0-.8h.8m1.6-1.0h.8m-3.4 .2h.8m.2-1.1h.8m-1.0 .6h.8m1.3 .9h.8m-2.8-.3h.8m1.7-3.9h.8m-.8-.8h.8m-2.2 3.9h.8m.6-.6h.8m-3.7-2.2h.8m-2.0 3.1h.8m.7-3.0h.8m.4-.1h.8m-2.3 .6h.8m2.3 3.8h.8m-3.5-6.1h.8m-.1 3.3h.8m-.7 1.0h.8m-1.8 .7h.8m.9-1.4h.8m-2.7-1.4h.8m.8-1.2h.8m-2.1 .7h.8m-2.7 2.7h.8m1.3-1.1h.8m.6-3.1h.8m-2.2 3.6h.8m.5-2.7h.8m-1.0 2.6h.8m.2 1.8h.8m-2.0 2.0h.8m-1.6-5.1h.8m-1.3-1.0h.8m-.3-1.9h.8m-.9 4.6h.8m.8-1.5h.8m-.2-.6h.8m-3.1-2.5h.8m-1.7 2.2h.8m2.5 2.6h.8m-4.6 .0h.8m1.5-1.5h.8m-1.5-.1h.8m-1.6-2.9h.8m-.1 6.0h.8m1.4-3.1h.8m-4.0 .1h.8m1.6 1.1h.8m-3.0 .0h.8m-.2 .3h.8m-1.1-3.9h.8m-.1 4.4h.8m-2.5-1.7h.8m2.1-.5h.8m-3.0 4.7h.8m1.4-2.0h.8m-3.4 1.2h.8m-1.8-4.2h.8m2.7 3.6h.8m-3.2-3.9h.8m.8-2.5h.8m-.2 4.8h.8m-2.4-.0h.8m1.0-.4h.8m-1.2 2.3h.8m-2.3-2.6h.8m-.9 1.7h.8m-.6-1.1h.8m-.0-.8h.8m1.5-.3h.8m-1.2 1.8h.8m-.9-1.9h.8m-1.4 1.8h.8" fill="none" stroke="#000" stroke-width="0.8"/></g>
<rect x="79.5" y="258.5" width="78.8" height="73.5" fill="none" stroke="#111" stroke-width="1.1"/>
<line x1="75.20" y1="332.00" x2="79.50" y2="332.00" stroke="#222" stroke-width="0.9" />
<line x1="77.30" y1="326.47" x2="79.50" y2="326.47" stroke="#333" stroke-width="0.7" />
<line x1="77.30" y1="323.23" x2="79.50" y2="323.23" stroke="#333" stroke-width="0.7" />
<line x1="77.30" y1="320.94" x2="79.50" y2="320.94" stroke="#333" stroke-width="0.7" />
<line x1="77.30" y1="319.16" x2="79.50" y2="319.16" stroke="#333" stroke-width="0.7" />
<line x1="77.30" y1="317.70" x2="79.50" y2="317.70" stroke="#333" stroke-width="0.7" />
<line x1="77.30" y1="316.47" x2="79.50" y2="316.47" stroke="#333" stroke-width="0.7" />
<line x1="77.30" y1="315.41" x2="79.50" y2="315.41" stroke="#333" stroke-width="0.7" />
<line x1="77.30" y1="314.47" x2="79.50" y2="314.47" stroke="#333" stroke-width="0.7" />
<line x1="75.20" y1="313.62" x2="79.50" y2="313.62" stroke="#222" stroke-width="0.9" />
<line x1="77.30" y1="308.09" x2="79.50" y2="308.09" stroke="#333" stroke-width="0.7" />
<line x1="77.30" y1="304.86" x2="79.50" y2="304.86" stroke="#333" stroke-width="0.7" />
<line x1="77.30" y1="302.56" x2="79.50" y2="302.56" stroke="#333" stroke-width="0.7" />
<line x1="77.30" y1="300.78" x2="79.50" y2="300.78" stroke="#333" stroke-width="0.7" />
<line x1="77.30" y1="299.33" x2="79.50" y2="299.33" stroke="#333" stroke-width="0.7" />
<line x1="77.30" y1="298.10" x2="79.50" y2="298.10" stroke="#333" stroke-width="0.7" />
<line x1="77.30" y1="297.03" x2="79.50" y2="297.03" stroke="#333" stroke-width="0.7" />
<line x1="77.30" y1="296.09" x2="79.50" y2="296.09" stroke="#333" stroke-width="0.7" />
<line x1="75.20" y1="295.25" x2="79.50" y2="295.25" stroke="#222" stroke-width="0.9" />
<line x1="77.30" y1="289.72" x2="79.50" y2="289.72" stroke="#333" stroke-width="0.7" />
<line x1="77.30" y1="286.48" x2="79.50" y2="286.48" stroke="#333" stroke-width="0.7" />
<line x1="77.30" y1="284.19" x2="79.50" y2="284.19" stroke="#333" stroke-width="0.7" />
<line x1="77.30" y1="282.41" x2="79.50" y2="282.41" stroke="#333" stroke-width="0.7" />
<line x1="77.30" y1="280.95" x2="79.50" y2="280.95" stroke="#333" stroke-width="0.7" />
<line x1="77.30" y1="279.72" x2="79.50" y2="279.72" stroke="#333" stroke-width="0.7" />
<line x1="77.30" y1="278.66" x2="79.50" y2="278.66" stroke="#333" stroke-width="0.7" />
<line x1="77.30" y1="277.72" x2="79.50" y2="277.72" stroke="#333" stroke-width="0.7" />
<line x1="75.20" y1="276.88" x2="79.50" y2="276.88" stroke="#222" stroke-width="0.9" />
<line x1="77.30" y1="271.34" x2="79.50" y2="271.34" stroke="#333" stroke-width="0.7" />
<line x1="77.30" y1="268.11" x2="79.50" y2="268.11" stroke="#333" stroke-width="0.7" />
<line x1="77.30" y1="265.81" x2="79.50" y2="265.81" stroke="#333" stroke-width="0.7" />
<line x1="77.30" y1="264.03" x2="79.50" y2="264.03" stroke="#333" stroke-width="0.7" />
<line x1="77.30" y1="262.58" x2="79.50" y2="262.58" stroke="#333" stroke-width="0.7" />
<line x1="77.30" y1="261.35" x2="79.50" y2="261.35" stroke="#333" stroke-width="0.7" />
<line x1="77.30" y1="260.28" x2="79.50" y2="260.28" stroke="#333" stroke-width="0.7" />
<line x1="77.30" y1="259.34" x2="79.50" y2="259.34" stroke="#333" stroke-width="0.7" />
<line x1="75.20" y1="258.50" x2="79.50" y2="258.50" stroke="#222" stroke-width="0.9" />
<line x1="79.50" y1="332.00" x2="79.50" y2="336.30" stroke="#222" stroke-width="0.9" />
<line x1="85.43" y1="332.00" x2="85.43" y2="334.20" stroke="#333" stroke-width="0.7" />
<line x1="88.90" y1="332.00" x2="88.90" y2="334.20" stroke="#333" stroke-width="0.7" />
<line x1="91.36" y1="332.00" x2="91.36" y2="334.20" stroke="#333" stroke-width="0.7" />
<line x1="93.27" y1="332.00" x2="93.27" y2="334.20" stroke="#333" stroke-width="0.7" />
<line x1="94.83" y1="332.00" x2="94.83" y2="334.20" stroke="#333" stroke-width="0.7" />
<line x1="96.15" y1="332.00" x2="96.15" y2="334.20" stroke="#333" stroke-width="0.7" />
<line x1="97.29" y1="332.00" x2="97.29" y2="334.20" stroke="#333" stroke-width="0.7" />
<line x1="98.30" y1="332.00" x2="98.30" y2="334.20" stroke="#333" stroke-width="0.7" />
<line x1="99.20" y1="332.00" x2="99.20" y2="336.30" stroke="#222" stroke-width="0.9" />
<line x1="105.13" y1="332.00" x2="105.13" y2="334.20" stroke="#333" stroke-width="0.7" />
<line x1="108.60" y1="332.00" x2="108.60" y2="334.20" stroke="#333" stroke-width="0.7" />
<line x1="111.06" y1="332.00" x2="111.06" y2="334.20" stroke="#333" stroke-width="0.7" />
<line x1="112.97" y1="332.00" x2="112.97" y2="334.20" stroke="#333" stroke-width="0.7" />
<line x1="114.53" y1="332.00" x2="114.53" y2="334.20" stroke="#333" stroke-width="0.7" />
<line x1="115.85" y1="332.00" x2="115.85" y2="334.20" stroke="#333" stroke-width="0.7" />
<line x1="116.99" y1="332.00" x2="116.99" y2="334.20" stroke="#333" stroke-width="0.7" />
<line x1="118.00" y1="332.00" x2="118.00" y2="334.20" stroke="#333" stroke-width="0.7" />
<line x1="118.90" y1="332.00" x2="118.90" y2="336.30" stroke="#222" stroke-width="0.9" />
<line x1="124.83" y1="332.00" x2="124.83" y2="334.20" stroke="#333" stroke-width="0.7" />
<line x1="128.30" y1="332.00" x2="128.30" y2="334.20" stroke="#333" stroke-width="0.7" />
<line x1="130.76" y1="332.00" x2="130.76" y2="334.20" stroke="#333" stroke-width="0.7" />
<line x1="132.67" y1="332.00" x2="132.67" y2="334.20" stroke="#333" stroke-width="0.7" />
<line x1="134.23" y1="332.00" x2="134.23" y2="334.20" stroke="#333" stroke-width="0.7" />
<line x1="135.55" y1="332.00" x2="135.55" y2="334.20" stroke="#333" stroke-width="0.7" />
<line x1="136.69" y1="332.00" x2="136.69" y2="334.20" stroke="#333" stroke-width="0.7" />
<line x1="137.70" y1="332.00" x2="137.70" y2="334.20" stroke="#333" stroke-width="0.7" />
<line x1="138.60" y1="332.00" x2="138.60" y2="336.30" stroke="#222" stroke-width="0.9" />
<line x1="144.53" y1="332.00" x2="144.53" y2="334.20" stroke="#333" stroke-width="0.7" />
<line x1="148.00" y1="332.00" x2="148.00" y2="334.20" stroke="#333" stroke-width="0.7" />
<line x1="150.46" y1="332.00" x2="150.46" y2="334.20" stroke="#333" stroke-width="0.7" />
<line x1="152.37" y1="332.00" x2="152.37" y2="334.20" stroke="#333" stroke-width="0.7" />
<line x1="153.93" y1="332.00" x2="153.93" y2="334.20" stroke="#333" stroke-width="0.7" />
<line x1="155.25" y1="332.00" x2="155.25" y2="334.20" stroke="#333" stroke-width="0.7" />
<line x1="156.39" y1="332.00" x2="156.39" y2="334.20" stroke="#333" stroke-width="0.7" />
<line x1="157.40" y1="332.00" x2="157.40" y2="334.20" stroke="#333" stroke-width="0.7" />
<line x1="158.30" y1="332.00" x2="158.30" y2="336.30" stroke="#222" stroke-width="0.9" />
<rect x="132.8" y="271.5" width="23.0" height="33.9" fill="none" stroke="#7878b4" stroke-width="0.95"/>
<text x="131.0" y="289.8" font-size="10.6" text-anchor="end" fill="#111" font-weight="normal"  stroke="#111" stroke-width="0.3">0.3</text>
<path d="M248.1 275.1h.7m-1.5 21.9h.7m-8.4-5.5h.7m10.9 8.8h.7m-7.5-15.4h.7m-4.4-2.9h.7m8.7 24.0h.7m-7.2-5.4h.7m5.4-14.5h.7m6.2-15.7h.7m-9.5 21.3h.7m7.8 12.3h.7m-.2-12.9h.7m-5.7 9.6h.7" fill="none" stroke="#aaa" stroke-width="0.7"/>
<g filter="url(#bl)"><path d="M243.8 321.1h.7m.6-1.2h.7m3.2-2.8h.7m-8.8-4.1h.7m2.6 4.5h.7m.6 4.9h.7m4.0-1.0h.7m-4.2-4.2h.7m-.4 8.5h.7m1.4-13.4h.7m-1.9 14.3h.7m-.9-12.5h.7m-3.8 8.4h.7m1.2-5.7h.7m-4.2 7.2h.7m-1.9 1.9h.7m3.0-4.6h.7m-4.4-3.6h.7m4.8-3.5h.7m3.0 .3h.7m-9.6 5.8h.7m3.9 2.8h.7m-3.0-3.8h.7m-.3-1.5h.7m-7.0 6.2h.7m6.9-3.2h.7m-3.1 .4h.7m1.0-1.3h.7m2.3-6.6h.7m-3.0 2.6h.7m-2.2 10.4h.7m-2.8-6.5h.7m.6 4.2h.7m-1.7-10.6h.7m3.3 5.4h.7m-2.9 5.8h.7m-2.2-5.9h.7m2.1 3.2h.7m-2.5 2.5h.7m6.7-5.8h.7m-1.7-6.9h.7m-1.9 7.1h.7m-4.1 .0h.7m-2.8-3.8h.7m-.0 10.4h.7m3.4-6.6h.7m-5.2-1.4h.7m-2.5 10.1h.7m4.3-6.8h.7m-3.8-4.6h.7m4.2 7.3h.7m-6.8 .8h.7m-1.1-1.4h.7m-.3-4.3h.7m3.2 3.4h.7m.7-5.1h.7m.8 8.8h.7m-5.0-3.5h.7m-2.8-2.5h.7m-2.2 1.0h.7m3.4 5.1h.7m1.3-2.1h.7m-4.2-4.2h.7m-.6 1.8h.7m-5.0 2.2h.7m.3-5.2h.7m3.6 .0h.7m3.7 1.7h.7m-.9 5.1h.7m-6.3-3.1h.7m4.1-3.0h.7m-4.0-.9h.7m-.8 .8h.7m-.6 5.5h.7m2.8-3.5h.7m-3.9 2.9h.7m-2.0-7.7h.7m3.1 .5h.7m-1.2-.1h.7m1.7-.3h.7m-3.3 10.3h.7m-5.6-.1h.7m-.3-13.1h.7m3.5 9.9h.7m-3.2-13.0h.7m-.3 8.9h.7m-1.6 .1h.7m-4.5-1.1h.7m8.9 8.5h.7m-6.5-9.1h.7m1.3 7.2h.7m.2-9.0h.7m-2.2 5.3h.7m2.7 4.3h.7m-3.2 .1h.7m-3.2 1.3h.7m-.8-4.6h.7m2.9-5.3h.7m-5.1-3.4h.7m1.6 6.9h.7m-2.0 2.2h.7m-5.5-2.1h.7m5.2-1.0h.7m1.2 8.1h.7m-4.0-10.9h.7m-1.1 4.2h.7m2.5-3.8h.7m.4-.7h.7m-1.2 5.9h.7m-1.7 7.0h.7m-2.7-9.4h.7m1.3 4.1h.7m-5.6-2.4h.7m.9 1.4h.7m5.0-2.3h.7m-4.7 .5h.7m-8.4 2.4h.7m8.8-2.4h.7m-3.3-3.6h.7m-.1 7.8h.7m-.5 .5h.7m-7.3-7.3h.7m7.0 1.8h.7m-5.9-2.6h.7m7.1-2.5h.7m-6.7 .8h.7m.5 7.0h.7m2.4-10.8h.7m1.6 5.8h.7m-6.2 9.1h.7m.7-11.7h.7m-2.2 2.1h.7m-1.7 1.6h.7m4.4 2.8h.7m-6.8 9.8h.7m.4-10.8h.7m2.0 2.6h.7m-1.7-1.2h.7m5.8-1.5h.7m-9.3 .9h.7m.1-2.8h.7m2.0 2.9h.7m-2.0 2.1h.7m-.5-8.7h.7m2.2 3.8h.7m.2-1.2h.7m-2.4 3.9h.7m-9.5-7.3h.7m3.5 11.7h.7m-2.8-2.0h.7m7.3-1.7h.7m-1.8-4.0h.7m-2.5 2.9h.7m.5 1.9h.7m-2.4-5.7h.7m-1.7 4.5h.7m-3.7-6.7h.7m2.7 2.8h.7m-.3-8.5h.7m-.9 9.7h.7m2.3-7.0h.7m-3.6 9.9h.7m1.4 2.9h.7m.8-9.1h.7m-1.8 2.9h.7m-4.6 7.5h.7m-.2-9.6h.7m-.1 .0h.7m3.1 5.0h.7m.4 .1h.7m-6.1 2.6h.7m-.8-6.1h.7m.6 2.0h.7m3.0-2.6h.7m-3.0 2.3h.7m-5.0-4.3h.7m2.1 6.1h.7m.8 .3h.7m-1.4-3.7h.7m.3-2.2h.7m-5.5 2.7h.7m-.9-.7h.7m1.1-.2h.7m1.2-1.0h.7m-1.7-3.7h.7m.8 3.4h.7m-.0-7.9h.7m-4.0 12.4h.7m-5.1-2.4h.7m6.1 1.9h.7m-5.0 .5h.7m3.7-4.9h.7m.9 3.7h.7m-2.7-1.6h.7m.7 2.2h.7m.9 1.4h.7m-5.4-2.7h.7m3.5-.6h.7m-2.1 3.6h.7m-2.2-11.6h.7m.1 10.3h.7m-.7-4.0h.7m2.2 2.5h.7m-5.7-2.4h.7m2.0-1.5h.7m-4.4 12.6h.7m5.6-3.8h.7m-.6-1.9h.7m-9.0 2.4h.7m7.2-2.9h.7m-9.4 3.1h.7m8.3-7.1h.7m-4.1 5.2h.7m-1.3 1.3h.7m-.2-1.7h.7m-.7-8.8h.7m-.2 11.3h.7m1.6 1.6h.7m-2.3-9.4h.7" fill="none" stroke="#333" stroke-width="0.7"/>
<path d="M248.5 316.4h.8m-2.7-1.2h.8m-.8 5.9h.8m-2.6-9.4h.8m2.1 4.0h.8m.5 4.1h.8m-3.0-4.4h.8m-1.8 1.0h.8m-.1 .3h.8m5.9-2.0h.8m-6.8 6.0h.8m1.5-3.6h.8m-1.1 .1h.8m-.4 1.3h.8m-.2-.4h.8m-4.6-2.0h.8m-.4 2.3h.8m.9-4.2h.8m1.2 6.9h.8m-2.6-8.6h.8m-1.8 4.7h.8m-.9-.6h.8m1.4-.9h.8m-4.7 2.4h.8m.5-2.0h.8m-2.9-3.0h.8m-1.2 2.7h.8m-2.4-5.3h.8m4.5 1.9h.8m-2.9 5.0h.8m-3.2 2.9h.8m1.7-2.6h.8m-.6-1.0h.8m.0-1.1h.8m-5.5-1.9h.8m4.8 5.1h.8m-2.4-1.6h.8m.5-.6h.8m-.9-4.9h.8m-1.1 3.4h.8m-2.4-1.1h.8m-1.8-.1h.8m1.5 8.0h.8m2.3-7.4h.8m-3.3-1.5h.8m-7.9 .5h.8m7.2 5.2h.8m-3.1-5.2h.8m-1.2 .1h.8m-2.3 2.5h.8m.6-1.9h.8m-1.8 .1h.8m3.1 4.4h.8m-.9 2.1h.8m-4.9-3.4h.8m-.3-1.3h.8m2.1 .7h.8m.2-3.1h.8m-4.9 2.4h.8m1.6-2.1h.8m2.2 4.8h.8m-6.1-1.4h.8m1.8-6.6h.8m-.9 4.3h.8m-2.6 4.5h.8m.8-5.0h.8m.5 2.3h.8m-.3-.4h.8m-2.9-3.6h.8m-1.3 3.4h.8m-3.5 6.0h.8m1.0-8.6h.8m-2.4 3.8h.8m1.9-3.1h.8m-1.9-.4h.8m-.8 2.0h.8m.0 1.6h.8m-.3-1.5h.8m1.1 2.1h.8m-1.3-2.4h.8m-3.0-1.8h.8m.1 3.4h.8m-.6-2.7h.8m-4.6-1.5h.8m4.3 4.5h.8m-2.6-5.3h.8m-.6 3.9h.8m-2.0 .7h.8m-.4-3.1h.8m-1.4 4.3h.8m.8-4.8h.8m-1.9 4.8h.8m1.2-3.7h.8m1.0-.6h.8m-4.5 4.8h.8m.2-2.2h.8m-1.5-3.1h.8m-2.4 2.6h.8m3.3-3.5h.8m.1 2.7h.8m-5.3 1.7h.8m1.3-3.7h.8m-4.7 4.6h.8m1.1-.5h.8m-2.7-.7h.8m.1-3.7h.8m1.6 3.2h.8m-2.5-2.8h.8m.2-1.8h.8m1.6 4.7h.8m1.6 .1h.8m-3.7-.5h.8m-2.7-3.3h.8m3.3 3.1h.8m-5.3-2.5h.8m3.8 2.5h.8m-5.6 2.1h.8m4.3-3.6h.8m-3.8 .1h.8m-1.5 3.9h.8m5.2-4.6h.8m-6.1 3.6h.8m-1.2-.0h.8m-.1-4.6h.8m-3.5 3.3h.8m3.0-.5h.8m-1.4-3.9h.8m-1.6 2.1h.8m-.8 2.3h.8m-3.2-.5h.8m-.8 1.2h.8m-.8-1.9h.8m1.0-1.1h.8m.9-.6h.8m-.6 2.2h.8m-4.6 .2h.8m-.6-.4h.8m2.0 4.4h.8m-1.3-.4h.8m-1.5-6.9h.8m-4.3 6.2h.8m-.2-.1h.8m4.4-2.7h.8m-3.6-.6h.8m.0-.4h.8m-2.3 .4h.8m2.1-1.7h.8m-2.7-.6h.8m-3.0 .2h.8m1.8 4.2h.8m-.8-2.9h.8m-.1 .1h.8m-.7 1.5h.8m-2.7-6.1h.8m-1.6 8.3h.8m2.5 2.4h.8m-3.3-6.0h.8m3.2 1.3h.8m-.1-.4h.8m-4.5 1.9h.8m-2.8-2.2h.8m-.2 .3h.8m1.4-1.4h.8m-1.6 .3h.8m-1.6-5.3h.8m-.5 7.1h.8m-1.7 2.4h.8m1.8-.3h.8m.0-1.9h.8m-4.2-3.0h.8m-.4 1.4h.8m.1-.3h.8m3.4-4.3h.8m-3.3 3.7h.8m-2.3 4.0h.8m-2.1-4.8h.8m.8 1.9h.8m-5.0 2.5h.8m.3-2.7h.8m2.8 1.3h.8m-.7 4.6h.8m-1.7-6.5h.8m-.7 1.2h.8m-6.4-1.6h.8m3.6 7.4h.8m-.5-5.9h.8m-.5 3.0h.8m.8 1.2h.8m.5-.6h.8m-3.4-2.2h.8m-1.8-1.0h.8m-3.5-.0h.8m.6-.7h.8m3.9 .6h.8m-.3 1.3h.8m-1.2 .5h.8m-3.7 .6h.8m-1.3-3.1h.8m4.1 4.9h.8m-5.1 .5h.8m.4-6.8h.8m-.8 3.0h.8m-1.2-1.6h.8m-3.5 1.9h.8m3.7 .2h.8m-.9 .8h.8m-4.7-1.4h.8m2.4 1.4h.8m-1.5-.9h.8m.4 3.4h.8m-6.7-3.1h.8m7.8-2.5h.8m-8.7 2.6h.8m-.7-2.0h.8m4.1 4.1h.8m-1.2-2.4h.8m-.2-1.4h.8m-4.4 .6h.8m1.2-1.2h.8m-2.7 .5h.8m-2.8-.9h.8m2.3 .5h.8m.8 3.7h.8m-1.5-3.3h.8m-4.3-1.3h.8m2.2-.6h.8m-.9-.5h.8m-.5 2.4h.8m.5-1.3h.8m-2.8 2.3h.8m1.1 2.9h.8m-3.1-4.6h.8m-.1 2.2h.8m.4 .1h.8m-2.3 4.9h.8m3.0-7.6h.8m-6.2 2.4h.8m.3-6.2h.8m-.9 1.9h.8m2.3 5.9h.8m-2.0-6.6h.8m1.7 5.0h.8m-4.3 .3h.8m1.9-3.0h.8m-3.8 .5h.8m.1-4.2h.8m.6 2.4h.8m-2.2-1.1h.8m-3.4 3.5h.8m1.6-3.4h.8m-.4 2.3h.8m.6 .3h.8m-2.1 .8h.8m1.4-1.3h.8m-2.2 6.3h.8m-1.6-2.9h.8m-2.7-.5h.8m-3.6 .8h.8m.9-4.6h.8m-.1 6.2h.8m.4-7.0h.8m2.4 .9h.8m-4.0 3.5h.8m-3.7-3.5h.8m2.1 5.8h.8m.1-7.1h.8m.9 3.3h.8m-2.1 .5h.8m-1.8-2.2h.8m-3.0 1.5h.8m1.2 2.5h.8m-1.6 2.7h.8m-1.5-5.1h.8m2.4 1.3h.8m-3.9-2.6h.8m-2.4-.7h.8m5.2 4.4h.8m.0-1.7h.8m-3.4 1.6h.8m-.5-2.6h.8m.0 5.6h.8m-7.3-6.4h.8m2.2 4.2h.8m2.2-3.8h.8m-1.5 1.0h.8m-1.9-.8h.8m-1.0 1.4h.8m3.1 4.1h.8m-7.5-1.7h.8m2.8-.2h.8m1.0-1.1h.8m-2.6-3.6h.8m-3.3 7.3h.8m2.4-7.6h.8m.6 3.5h.8m-7.4 3.0h.8m2.1-.4h.8m-1.8-4.3h.8m-1.9 1.7h.8m3.5-2.7h.8m-3.8 8.0h.8m4.8-5.6h.8m-6.6-2.6h.8m-1.4 4.6h.8m3.2-5.5h.8m-2.5 2.6h.8m-.6 1.9h.8m2.6-4.0h.8m-1.7 4.6h.8m-3.8-1.9h.8m-1.7 3.4h.8m-.7-4.3h.8m.1-.8h.8m-2.4 1.9h.8m3.9-1.5h.8m-3.5-2.1h.8m-2.7 8.8h.8m-.6-8.3h.8m1.4 4.5h.8m-4.9-2.2h.8m2.8-1.4h.8m1.7 3.7h.8m-2.5-2.8h.8m-1.8-.1h.8m-.2 2.1h.8m-.6 1.5h.8m3.2-5.2h.8m-3.8 4.5h.8m-1.1-2.5h.8m-1.9 3.4h.8m.8-1.8h.8m-3.3 1.2h.8m1.5-2.8h.8m.8 5.2h.8m-6.6-1.7h.8m-1.1-4.8h.8m2.4 3.5h.8m-1.6-3.9h.8m-3.0 2.3h.8m1.6-1.6h.8m-1.5 6.6h.8m-1.1-4.6h.8m-.6-1.1h.8m.5 .2h.8m-.5-2.3h.8m-2.1 8.2h.8m.8-3.5h.8m1.3-1.3h.8m-4.6-3.8h.8m-1.8 6.6h.8m3.0-2.4h.8m-7.2-4.4h.8m1.1 1.7h.8m1.5-.5h.8m2.1-.1h.8m-3.5 4.7h.8m-.6-4.4h.8m2.3 5.8h.8m-6.3-3.4h.8m-1.9-3.8h.8m4.4 4.6h.8m-.4-.8h.8m-6.6 1.0h.8m.7-3.4h.8m-.1 4.5h.8m1.6 2.1h.8m-2.5-9.0h.8m2.5 6.6h.8m-4.3-4.8h.8m2.3-1.4h.8m-4.7-.1h.8m-2.8 1.2h.8m5.8 4.8h.8m-5.6-4.6h.8m1.2 3.6h.8m-4.7-2.4h.8m3.3 3.1h.8m-.7-.7h.8m-5.6-5.6h.8m3.3 2.4h.8" fill="none" stroke="#000" stroke-width="0.8"/></g>
<rect x="183.9" y="258.5" width="78.4" height="73.5" fill="none" stroke="#111" stroke-width="1.1"/>
<line x1="179.60" y1="332.00" x2="183.90" y2="332.00" stroke="#222" stroke-width="0.9" />
<line x1="181.70" y1="326.47" x2="183.90" y2="326.47" stroke="#333" stroke-width="0.7" />
<line x1="181.70" y1="323.23" x2="183.90" y2="323.23" stroke="#333" stroke-width="0.7" />
<line x1="181.70" y1="320.94" x2="183.90" y2="320.94" stroke="#333" stroke-width="0.7" />
<line x1="181.70" y1="319.16" x2="183.90" y2="319.16" stroke="#333" stroke-width="0.7" />
<line x1="181.70" y1="317.70" x2="183.90" y2="317.70" stroke="#333" stroke-width="0.7" />
<line x1="181.70" y1="316.47" x2="183.90" y2="316.47" stroke="#333" stroke-width="0.7" />
<line x1="181.70" y1="315.41" x2="183.90" y2="315.41" stroke="#333" stroke-width="0.7" />
<line x1="181.70" y1="314.47" x2="183.90" y2="314.47" stroke="#333" stroke-width="0.7" />
<line x1="179.60" y1="313.62" x2="183.90" y2="313.62" stroke="#222" stroke-width="0.9" />
<line x1="181.70" y1="308.09" x2="183.90" y2="308.09" stroke="#333" stroke-width="0.7" />
<line x1="181.70" y1="304.86" x2="183.90" y2="304.86" stroke="#333" stroke-width="0.7" />
<line x1="181.70" y1="302.56" x2="183.90" y2="302.56" stroke="#333" stroke-width="0.7" />
<line x1="181.70" y1="300.78" x2="183.90" y2="300.78" stroke="#333" stroke-width="0.7" />
<line x1="181.70" y1="299.33" x2="183.90" y2="299.33" stroke="#333" stroke-width="0.7" />
<line x1="181.70" y1="298.10" x2="183.90" y2="298.10" stroke="#333" stroke-width="0.7" />
<line x1="181.70" y1="297.03" x2="183.90" y2="297.03" stroke="#333" stroke-width="0.7" />
<line x1="181.70" y1="296.09" x2="183.90" y2="296.09" stroke="#333" stroke-width="0.7" />
<line x1="179.60" y1="295.25" x2="183.90" y2="295.25" stroke="#222" stroke-width="0.9" />
<line x1="181.70" y1="289.72" x2="183.90" y2="289.72" stroke="#333" stroke-width="0.7" />
<line x1="181.70" y1="286.48" x2="183.90" y2="286.48" stroke="#333" stroke-width="0.7" />
<line x1="181.70" y1="284.19" x2="183.90" y2="284.19" stroke="#333" stroke-width="0.7" />
<line x1="181.70" y1="282.41" x2="183.90" y2="282.41" stroke="#333" stroke-width="0.7" />
<line x1="181.70" y1="280.95" x2="183.90" y2="280.95" stroke="#333" stroke-width="0.7" />
<line x1="181.70" y1="279.72" x2="183.90" y2="279.72" stroke="#333" stroke-width="0.7" />
<line x1="181.70" y1="278.66" x2="183.90" y2="278.66" stroke="#333" stroke-width="0.7" />
<line x1="181.70" y1="277.72" x2="183.90" y2="277.72" stroke="#333" stroke-width="0.7" />
<line x1="179.60" y1="276.88" x2="183.90" y2="276.88" stroke="#222" stroke-width="0.9" />
<line x1="181.70" y1="271.34" x2="183.90" y2="271.34" stroke="#333" stroke-width="0.7" />
<line x1="181.70" y1="268.11" x2="183.90" y2="268.11" stroke="#333" stroke-width="0.7" />
<line x1="181.70" y1="265.81" x2="183.90" y2="265.81" stroke="#333" stroke-width="0.7" />
<line x1="181.70" y1="264.03" x2="183.90" y2="264.03" stroke="#333" stroke-width="0.7" />
<line x1="181.70" y1="262.58" x2="183.90" y2="262.58" stroke="#333" stroke-width="0.7" />
<line x1="181.70" y1="261.35" x2="183.90" y2="261.35" stroke="#333" stroke-width="0.7" />
<line x1="181.70" y1="260.28" x2="183.90" y2="260.28" stroke="#333" stroke-width="0.7" />
<line x1="181.70" y1="259.34" x2="183.90" y2="259.34" stroke="#333" stroke-width="0.7" />
<line x1="179.60" y1="258.50" x2="183.90" y2="258.50" stroke="#222" stroke-width="0.9" />
<line x1="183.90" y1="332.00" x2="183.90" y2="336.30" stroke="#222" stroke-width="0.9" />
<line x1="189.80" y1="332.00" x2="189.80" y2="334.20" stroke="#333" stroke-width="0.7" />
<line x1="193.25" y1="332.00" x2="193.25" y2="334.20" stroke="#333" stroke-width="0.7" />
<line x1="195.70" y1="332.00" x2="195.70" y2="334.20" stroke="#333" stroke-width="0.7" />
<line x1="197.60" y1="332.00" x2="197.60" y2="334.20" stroke="#333" stroke-width="0.7" />
<line x1="199.15" y1="332.00" x2="199.15" y2="334.20" stroke="#333" stroke-width="0.7" />
<line x1="200.46" y1="332.00" x2="200.46" y2="334.20" stroke="#333" stroke-width="0.7" />
<line x1="201.60" y1="332.00" x2="201.60" y2="334.20" stroke="#333" stroke-width="0.7" />
<line x1="202.60" y1="332.00" x2="202.60" y2="334.20" stroke="#333" stroke-width="0.7" />
<line x1="203.50" y1="332.00" x2="203.50" y2="336.30" stroke="#222" stroke-width="0.9" />
<line x1="209.40" y1="332.00" x2="209.40" y2="334.20" stroke="#333" stroke-width="0.7" />
<line x1="212.85" y1="332.00" x2="212.85" y2="334.20" stroke="#333" stroke-width="0.7" />
<line x1="215.30" y1="332.00" x2="215.30" y2="334.20" stroke="#333" stroke-width="0.7" />
<line x1="217.20" y1="332.00" x2="217.20" y2="334.20" stroke="#333" stroke-width="0.7" />
<line x1="218.75" y1="332.00" x2="218.75" y2="334.20" stroke="#333" stroke-width="0.7" />
<line x1="220.06" y1="332.00" x2="220.06" y2="334.20" stroke="#333" stroke-width="0.7" />
<line x1="221.20" y1="332.00" x2="221.20" y2="334.20" stroke="#333" stroke-width="0.7" />
<line x1="222.20" y1="332.00" x2="222.20" y2="334.20" stroke="#333" stroke-width="0.7" />
<line x1="223.10" y1="332.00" x2="223.10" y2="336.30" stroke="#222" stroke-width="0.9" />
<line x1="229.00" y1="332.00" x2="229.00" y2="334.20" stroke="#333" stroke-width="0.7" />
<line x1="232.45" y1="332.00" x2="232.45" y2="334.20" stroke="#333" stroke-width="0.7" />
<line x1="234.90" y1="332.00" x2="234.90" y2="334.20" stroke="#333" stroke-width="0.7" />
<line x1="236.80" y1="332.00" x2="236.80" y2="334.20" stroke="#333" stroke-width="0.7" />
<line x1="238.35" y1="332.00" x2="238.35" y2="334.20" stroke="#333" stroke-width="0.7" />
<line x1="239.66" y1="332.00" x2="239.66" y2="334.20" stroke="#333" stroke-width="0.7" />
<line x1="240.80" y1="332.00" x2="240.80" y2="334.20" stroke="#333" stroke-width="0.7" />
<line x1="241.80" y1="332.00" x2="241.80" y2="334.20" stroke="#333" stroke-width="0.7" />
<line x1="242.70" y1="332.00" x2="242.70" y2="336.30" stroke="#222" stroke-width="0.9" />
<line x1="248.60" y1="332.00" x2="248.60" y2="334.20" stroke="#333" stroke-width="0.7" />
<line x1="252.05" y1="332.00" x2="252.05" y2="334.20" stroke="#333" stroke-width="0.7" />
<line x1="254.50" y1="332.00" x2="254.50" y2="334.20" stroke="#333" stroke-width="0.7" />
<line x1="256.40" y1="332.00" x2="256.40" y2="334.20" stroke="#333" stroke-width="0.7" />
<line x1="257.95" y1="332.00" x2="257.95" y2="334.20" stroke="#333" stroke-width="0.7" />
<line x1="259.26" y1="332.00" x2="259.26" y2="334.20" stroke="#333" stroke-width="0.7" />
<line x1="260.40" y1="332.00" x2="260.40" y2="334.20" stroke="#333" stroke-width="0.7" />
<line x1="261.40" y1="332.00" x2="261.40" y2="334.20" stroke="#333" stroke-width="0.7" />
<line x1="262.30" y1="332.00" x2="262.30" y2="336.30" stroke="#222" stroke-width="0.9" />
<rect x="236.3" y="271.5" width="23.4" height="33.9" fill="none" stroke="#7878b4" stroke-width="0.95"/>
<text x="235.0" y="289.8" font-size="10.6" text-anchor="end" fill="#111" font-weight="normal"  stroke="#111" stroke-width="0.3">0.7</text>
<path d="M351.1 287.6h.7m.8-4.0h.7m1.1 15.0h.7m-8.5-10.6h.7m14.1 8.6h.7m-12.1-13.7h.7m-.9-7.1h.7m9.2 14.9h.7" fill="none" stroke="#aaa" stroke-width="0.7"/>
<g filter="url(#bl)"><path d="M352.1 318.0h.7m1.3-2.1h.7m2.5 4.3h.7m-3.7 3.2h.7m1.0-1.2h.7m-9.9-5.5h.7m11.3 5.9h.7m-5.0-.0h.7m-4.7-6.2h.7m-.7 9.9h.7m2.7 3.3h.7m-.3 .6h.7m-.8-16.5h.7m3.6 8.2h.7m-2.5-.7h.7m-5.8-.2h.7m-3.3-7.4h.7m.1 3.6h.7m-2.3 2.3h.7m4.8 11.5h.7m4.4-11.2h.7m-3.9-.9h.7m-2.3 1.0h.7m-3.8 .6h.7m-3.8 2.0h.7m3.3-8.2h.7m-.9 8.8h.7m-1.8-.4h.7m3.5 5.9h.7m-6.2-9.0h.7m4.6 8.7h.7m-1.5-4.0h.7m-6.5-7.2h.7m9.8 1.6h.7m1.0-2.4h.7m-8.9-4.7h.7m2.4 10.1h.7m3.9-.5h.7m-8.3-8.5h.7m-.1 12.8h.7m2.1 1.5h.7m-.3-6.9h.7m-1.6 1.2h.7m-7.2 8.4h.7m5.0-15.0h.7m-.7 7.3h.7m1.4 6.3h.7m-14.3-4.8h.7m14.7-8.2h.7m-12.1 6.7h.7m6.7 .4h.7m-5.6-4.4h.7m3.7 6.6h.7m6.0-2.5h.7m-10.1-14.4h.7m4.9 12.1h.7m-4.7-4.7h.7m2.1-4.4h.7m-2.8 10.4h.7m-.1 6.5h.7m-2.0-6.6h.7m2.5-9.0h.7m-4.6 8.8h.7m3.5-4.7h.7m-1.2 6.5h.7m-8.4-10.2h.7m-.5 8.8h.7m4.8 3.2h.7m1.4-7.0h.7m.1 7.5h.7m-2.7-1.9h.7m-6.6-.6h.7m.2-8.5h.7m1.6 7.3h.7m.3-2.6h.7m-3.9 2.8h.7m.2-8.7h.7m2.1 15.6h.7m-2.4-13.8h.7m5.3 15.2h.7m-6.4-10.5h.7m.7 6.6h.7m.3-15.4h.7m-5.9 3.2h.7m4.5 7.3h.7m3.9-2.1h.7m-5.7 1.9h.7m-.8 7.6h.7m2.7-11.4h.7m-2.8 1.2h.7m-2.6 3.0h.7m-1.0-3.4h.7m4.5 1.1h.7m-3.6 10.7h.7m-1.0-3.6h.7m1.9 .3h.7m.4-13.8h.7m.1 8.0h.7m-13.3-3.7h.7m.5 3.4h.7m-1.0-5.4h.7m5.4 6.4h.7m-4.4-2.1h.7m1.7 1.7h.7m-.4-1.6h.7m2.3-7.6h.7m-5.4 9.5h.7m-.4-3.8h.7m-.8 4.2h.7m5.0-2.2h.7m-5.8 3.0h.7m-.6-12.6h.7m1.0 8.6h.7m-3.6 5.5h.7m1.4-6.6h.7m-8.2-6.4h.7m6.7 8.8h.7m.7 1.9h.7m-3.8-8.2h.7m-2.8 6.2h.7m-.9 4.9h.7m-1.3-14.0h.7m3.1 .1h.7m5.5 4.3h.7m-6.4 4.1h.7m-3.3-8.4h.7m-4.2 14.5h.7m.7-1.7h.7m4.2 1.6h.7m-2.4-.7h.7m4.1-.6h.7m1.2-4.3h.7m-.4-2.9h.7m-.3-11.3h.7m-6.3 10.7h.7m-.7 10.1h.7m1.7-5.1h.7m2.6-8.6h.7m-9.3 16.4h.7m3.2-19.7h.7m-.7 4.9h.7m3.2 12.8h.7m-7.6 .8h.7m-1.7-2.1h.7m4.1-5.8h.7m-7.5-.8h.7m-3.7-1.6h.7m.8 9.8h.7m2.3-20.1h.7m4.6 15.4h.7m-.1-1.7h.7m-5.5-16.6h.7m3.1 21.5h.7m-4.3-13.1h.7m1.2-1.4h.7m-.5 13.4h.7m4.4-2.8h.7m-5.2 2.7h.7m3.4-5.9h.7m-9.6-2.6h.7m-.8-.5h.7m3.2 6.8h.7m.2-1.5h.7m-2.4 1.9h.7m3.5 1.8h.7m1.4-5.8h.7m-6.6 10.9h.7m.8-7.0h.7m-2.5 3.1h.7m-.9-10.9h.7m.5 3.1h.7m2.3 .4h.7m-3.1 .9h.7m.0-2.3h.7m1.9-4.4h.7m-5.8 3.9h.7m2.8 4.1h.7m-1.3-2.0h.7m-4.8-4.3h.7m.6 3.2h.7m1.4 4.9h.7m1.7-2.5h.7m-6.6-5.2h.7m2.1 7.8h.7m5.7-1.0h.7m-1.3 9.3h.7m-10.2-3.6h.7m6.7 .7h.7m-4.6-2.1h.7m-2.3-5.6h.7m1.0 10.2h.7m-1.5-4.6h.7m.3-9.2h.7m-.1 7.5h.7m-3.9-.1h.7m-.7-8.3h.7m2.5 3.5h.7m-4.8-7.7h.7m2.7 10.3h.7m-2.3-.3h.7m-4.3 1.1h.7m5.9-.6h.7m-4.2-1.1h.7m1.8 5.4h.7m-.2-4.5h.7m-4.1 3.3h.7m5.7-7.5h.7m-2.5 4.4h.7m-3.0-8.8h.7m5.4-3.2h.7m-5.6 8.2h.7m2.2-.3h.7m-4.5 5.7h.7m.7-6.2h.7m.1 5.0h.7m.3-5.0h.7m-4.2 .7h.7m-3.4 3.5h.7m3.5 6.4h.7m-3.2-5.7h.7m4.3-2.8h.7m-4.4 1.4h.7m-3.3-6.2h.7m5.4 6.4h.7m-4.7-7.8h.7m-.0 13.2h.7m-5.0-11.3h.7m7.0 12.7h.7m.8-10.9h.7m-3.9-1.1h.7m-1.0 2.1h.7m-1.8 9.3h.7m-.2-8.7h.7m-1.7 2.8h.7m-2.6-.3h.7m3.1 7.4h.7m-9.7-15.0h.7m2.1 11.3h.7m11.7-3.7h.7m-8.5 5.2h.7m-9.4-7.2h.7m-3.0 1.8h.7m8.1-3.5h.7m2.2-.5h.7m1.9 3.2h.7m-6.0 5.1h.7m-2.0 1.8h.7m5.3-6.0h.7m-.6 8.0h.7m.6-8.8h.7m-5.5 6.0h.7m-5.5-9.3h.7m5.9 6.4h.7m3.9 6.5h.7m-5.9-7.2h.7m-6.2-3.4h.7m4.6-.2h.7m-1.4 4.5h.7m-4.1-6.4h.7m-3.5 9.3h.7m1.7-15.5h.7m5.4 8.1h.7m-.0-.8h.7m3.2 5.9h.7m-7.3-3.3h.7m-1.9 3.8h.7m6.7-6.7h.7m-11.1 5.5h.7m6.5-11.4h.7m-6.6 2.7h.7m3.5 8.2h.7m-5.1-8.9h.7m4.1-5.0h.7m-.8 10.3h.7m3.6 6.2h.7" fill="none" stroke="#333" stroke-width="0.7"/>
<path d="M352.8 317.3h.8m-.2 4.0h.8m2.9 .2h.8m-3.6 6.6h.8m.2-5.4h.8m-5.9 6.9h.8m4.1-8.0h.8m-2.0-2.3h.8m-2.2-2.3h.8m1.7 8.7h.8m-1.4 1.1h.8m-.2-2.8h.8m-3.3 2.0h.8m2.9 .2h.8m-.7-4.8h.8m-4.7 7.5h.8m-.1-4.4h.8m-.1-1.0h.8m-.9-2.4h.8m.0-6.0h.8m-2.8 3.5h.8m-.5-6.1h.8m1.5 18.1h.8m-2.3-3.9h.8m.7-8.6h.8m.3-1.9h.8m-4.0 5.7h.8m2.4 2.1h.8m-3.2-4.0h.8m-.4 3.7h.8m.3 5.8h.8m-.8-5.9h.8m-2.4 6.8h.8m-.2-7.0h.8m2.0 6.8h.8m-3.0-7.2h.8m-2.9 5.1h.8m-.5-.5h.8m-1.4-3.7h.8m1.3 .2h.8m-1.1 1.0h.8m-3.2-6.4h.8m.9 12.5h.8m-.8-11.8h.8m-1.7 4.1h.8m2.4-2.6h.8m-1.9 3.2h.8m-2.4-4.9h.8m-.4 1.0h.8m.4-4.5h.8m.2 10.8h.8m-1.8 3.2h.8m-.8-13.8h.8m-1.8 9.3h.8m-2.1-6.8h.8m1.2 7.1h.8m-2.3-3.2h.8m-.9-1.4h.8m-.0 7.0h.8m-3.5-6.1h.8m4.9 2.8h.8m-3.4 2.2h.8m-2.8-8.8h.8m-2.0-1.1h.8m2.6 9.9h.8m-2.0-6.6h.8m.6 5.5h.8m-1.1-10.8h.8m-2.2-2.7h.8m.6 7.2h.8m-2.4 10.1h.8m2.7-4.4h.8m-2.6-1.3h.8m-2.3-1.0h.8m3.6-3.5h.8m-5.3 4.4h.8m1.9 2.9h.8m-4.1-4.1h.8m.4-4.7h.8m-.2 3.2h.8m.7 3.9h.8m-3.8-1.5h.8m-.1-3.1h.8m-1.0 7.3h.8m-.7-11.9h.8m-1.4 10.8h.8m4.3-8.0h.8m-5.2 3.1h.8m-2.6 3.1h.8m1.6-.5h.8m3.2-2.3h.8m-3.3 4.7h.8m-3.3-6.1h.8m3.0 5.6h.8m-3.3-7.7h.8m.5 6.9h.8m1.5 4.0h.8m-3.2-5.2h.8m-2.1-3.5h.8m-.4 3.4h.8m-.2 3.6h.8m-1.4-7.0h.8m.1 9.0h.8m-3.7-4.8h.8m1.6 .5h.8m-.9-2.7h.8m-1.9 7.6h.8m2.4-13.2h.8m-8.3 7.9h.8m2.5-4.1h.8m-2.4 3.7h.8m1.9-3.8h.8m1.9 7.3h.8m-4.1-2.2h.8m-.1 2.1h.8m.3-5.1h.8m-.9-2.9h.8m-.4 9.5h.8m-2.8-4.1h.8m-3.1 1.6h.8m3.6-8.4h.8m.7 4.9h.8m-6.9-6.3h.8m3.8 4.7h.8m-.4-5.5h.8m-2.9 10.8h.8m-1.8-1.3h.8m-.2-1.4h.8m-2.3 1.9h.8m3.7-8.1h.8m-1.3-7.9h.8m-3.1 5.4h.8m.1 4.2h.8m-2.3-.5h.8m.7 1.6h.8m-2.9 1.0h.8m1.5-2.7h.8m.4-3.4h.8m-2.0 5.4h.8m1.2-1.1h.8m-4.7-3.0h.8m3.8 8.4h.8m-6.2-4.1h.8m-.6 7.9h.8m1.6-15.2h.8m-1.2 12.6h.8m-1.2-1.9h.8m-1.0-1.1h.8m-.2-3.9h.8m-.6 3.7h.8m-1.5-3.6h.8m-2.5 4.0h.8m2.4-11.4h.8m-3.2 16.1h.8m1.7-8.8h.8m-.0-1.2h.8m-3.9 3.3h.8m-2.9-3.4h.8m.0 3.7h.8m-2.0 5.1h.8m1.8-7.1h.8m-1.3 5.8h.8m3.0-4.9h.8m-.7 8.6h.8m-1.3-5.6h.8m-5.8 1.6h.8m1.1-2.1h.8m-3.4-2.0h.8m2.9-2.8h.8m-.7 11.2h.8m-.9-10.1h.8m3.0-6.3h.8m-6.6 11.0h.8m-.2-11.6h.8m.7 13.4h.8m-2.6 2.7h.8m1.5-1.2h.8m-4.4-5.1h.8m4.2 .0h.8m-2.8-2.7h.8m.8-.3h.8m-2.5-5.9h.8m-3.7 16.5h.8m1.9-6.7h.8m-4.8-1.1h.8m6.7-6.3h.8m-8.6 5.7h.8m2.4-.2h.8m-2.1-4.9h.8m-.8 8.6h.8m1.3 .8h.8m-2.6-1.0h.8m.3-2.2h.8m1.6-.2h.8m-3.1-7.3h.8m-.1 10.5h.8m-2.0-3.7h.8m-2.8-5.5h.8m3.0 11.3h.8m-2.1-12.8h.8m-.9 .5h.8m.4 6.1h.8m.5-1.0h.8m-2.0 2.5h.8m-.6-7.2h.8m-.3 10.1h.8m-6.1-15.5h.8m1.6 18.1h.8m.8-3.5h.8m.1 .9h.8m-2.9-6.4h.8m1.0 5.2h.8m-.4-1.2h.8m-2.7 3.3h.8m.9-.2h.8m-6.1-.2h.8m-.6-3.5h.8m2.3-.4h.8m-.5-1.9h.8m.4 2.8h.8m-2.6-12.5h.8m-.8 13.3h.8m-.9-.5h.8m.0-5.9h.8m1.9 11.3h.8m-3.1-7.4h.8m1.1-5.5h.8m-4.0 10.7h.8m2.3-7.1h.8m-3.8 3.7h.8m-1.9-3.7h.8m1.3-8.5h.8m.7 14.0h.8m.0-9.6h.8m-5.0 2.7h.8m-.3 2.2h.8m1.3 3.3h.8m1.4-6.7h.8m-1.8 5.4h.8m-4.5 .0h.8m-1.2 6.4h.8m.4-2.7h.8m2.8-7.1h.8m-4.7 3.3h.8m-1.1 3.4h.8m1.4-7.3h.8m-2.3 6.5h.8m-2.2 4.2h.8m.4-8.2h.8m-1.1 8.0h.8m2.3-1.4h.8m-1.1-5.3h.8m1.1 2.5h.8m-3.1-.4h.8m-.3-1.3h.8m-2.4-8.2h.8m3.2 1.3h.8m-8.3 2.6h.8m6.5 8.5h.8m-5.3-4.2h.8m.2-9.9h.8m-1.4 10.0h.8m1.9-6.6h.8m-7.0-1.6h.8m3.8 7.3h.8m-1.1 .3h.8m-1.7-6.6h.8m.7 7.7h.8m-.6 3.8h.8m-4.1-15.7h.8m-.2 12.0h.8m.8 1.4h.8m5.0-5.5h.8m-6.9-.4h.8m-.1 4.9h.8m-3.0 3.5h.8m3.0-3.8h.8m-3.1-3.0h.8m-3.6 3.9h.8m.4-5.1h.8m2.7-1.8h.8m-3.5 7.8h.8m3.5-6.8h.8m-2.2 .2h.8m-2.1 5.0h.8m-3.5 2.4h.8m4.5-4.3h.8m-3.6-5.4h.8m1.9 5.4h.8m-6.3 3.1h.8m-1.1-6.4h.8m-2.0 9.1h.8m7.0-8.8h.8m-6.0 .3h.8m-.6 5.0h.8m2.8-6.9h.8m-2.6-3.5h.8m1.2 7.5h.8m-4.8 7.1h.8m.3-.7h.8m1.3 1.3h.8m-4.2-7.0h.8m1.3-1.1h.8m1.3-2.3h.8m-1.7 9.1h.8m-6.1-10.3h.8m1.1 1.9h.8m1.5 1.6h.8m-1.4-1.3h.8m-1.1 4.2h.8m.7-5.6h.8m-2.3 .1h.8m-.9-3.0h.8m1.2 9.3h.8m-2.7-6.0h.8m-1.4 .1h.8m-2.8 10.1h.8m7.9-12.6h.8m-8.8 8.0h.8m2.4-9.5h.8m-5.3 9.3h.8m-.9 3.9h.8m1.9-5.9h.8m.1-2.8h.8m-1.1 1.1h.8m1.7 .9h.8m-3.1-1.9h.8m-1.9-.9h.8m2.3 4.3h.8m.2 3.4h.8m-3.4-5.2h.8m-3.1 1.8h.8m.6-8.1h.8m.2 9.2h.8m-.8-4.2h.8m-.3 6.8h.8m-2.2-2.5h.8m1.6-4.4h.8m-2.3-1.1h.8m-.0 1.6h.8m.2-1.7h.8m.2 2.0h.8m-5.4-2.6h.8m1.9 .2h.8m1.3 9.4h.8m-3.1-11.9h.8m-1.8 3.1h.8m-4.0 5.1h.8m6.4-4.2h.8m-3.3 8.0h.8m-4.0-7.1h.8m1.4 3.6h.8m-3.3-1.1h.8m1.1 3.2h.8m-3.5-6.7h.8m1.2 1.1h.8m1.4-1.4h.8m2.8-.3h.8m-4.2 7.6h.8m-.6-5.4h.8m-4.0-.2h.8m1.9 1.7h.8m-1.0 2.0h.8m-3.4-6.6h.8m3.4 2.0h.8m-4.9-2.0h.8m2.4-.9h.8m-4.1 9.6h.8m1.0-4.4h.8m-2.2-1.2h.8m-.5 .9h.8m1.5-5.5h.8m-3.8-3.6h.8m3.6 8.9h.8m-3.5 .1h.8m1.0 1.7h.8m-1.1-2.1h.8m-2.5 .5h.8m-3.9 5.0h.8m-.3-9.2h.8m3.2 4.6h.8m-.5 7.3h.8m1.1-1.4h.8m-5.7-6.5h.8m2.6-.6h.8m-2.8-.6h.8m1.9-9.3h.8m-1.0 15.5h.8m-3.2-2.2h.8m-2.4 2.4h.8m6.5-8.9h.8m-3.8 3.8h.8m-3.9-1.9h.8m-.5-3.4h.8m-2.9 12.8h.8m1.6-4.9h.8m-.2-.3h.8m-4.1-6.3h.8m3.1 8.6h.8m-4.0-6.9h.8m-.7 5.4h.8m1.7-2.7h.8m-2.6 1.4h.8m.4-4.8h.8m-.3 .3h.8m.3 5.7h.8m-3.8-.2h.8m.6-5.7h.8m-2.6-4.2h.8m-1.2 8.8h.8m3.4-4.3h.8m-2.7 4.3h.8m.3 .4h.8m.0 1.4h.8m-4.4-1.6h.8m-3.6-2.5h.8m3.5 3.3h.8m-1.4 1.1h.8m2.1-7.4h.8m-4.2 4.8h.8m1.1-.5h.8m-.2-5.8h.8m-.9 10.3h.8m-.2-3.3h.8m-3.2-.1h.8m-.5-8.7h.8m-1.8 6.8h.8m-.6-3.9h.8m-.3 2.5h.8m-.3 1.4h.8m-.6 4.6h.8m-.9-2.6h.8m-3.2-14.8h.8m.7 16.0h.8m-.7-5.7h.8m-2.4 6.7h.8m.5-2.8h.8m2.2 1.3h.8m1.2-2.9h.8m-3.1 3.6h.8m-3.7-2.8h.8m-.6-4.7h.8m.8 1.1h.8m1.7 .2h.8m-4.8 3.7h.8m-.8-.2h.8m-1.0-6.5h.8m-4.0 .6h.8m6.3 7.6h.8m-3.3-4.0h.8m-1.3 3.4h.8m-3.0-4.8h.8m.1 9.1h.8m-1.1-.4h.8m1.0-5.0h.8m1.8 3.7h.8m-1.5-8.6h.8m-.4 12.1h.8m-3.0-9.5h.8m-2.6 6.6h.8m1.7-4.4h.8m-3.6 7.1h.8m3.0-7.2h.8m.3-4.1h.8m-1.9-.2h.8m.2 3.2h.8m-1.1-.6h.8m-2.3 6.9h.8m-3.1-4.6h.8m-.7 3.3h.8m-.4-5.4h.8m-.1 6.8h.8m-2.3-5.2h.8m.5-2.3h.8m-1.6 1.7h.8m1.0-6.1h.8m-.7 1.6h.8m-3.0 4.9h.8m.5 4.6h.8m-1.2-12.2h.8m-2.8 8.6h.8m2.6 3.9h.8m-2.2-1.8h.8m-1.7 2.8h.8m1.0-8.7h.8m-.4 10.7h.8m-2.6-13.1h.8m-1.1 .4h.8m.9 6.6h.8m-1.0-.7h.8m1.6-2.1h.8m-5.2-8.8h.8m1.9 7.1h.8m-1.7 4.8h.8m.5-8.7h.8m-3.4 7.2h.8m.7 4.7h.8m-1.4-14.1h.8m2.2 1.9h.8m-4.7 8.9h.8m1.4 .6h.8m-.3-5.5h.8m.5-4.3h.8m-4.1 8.7h.8m.5-5.5h.8m1.8 10.7h.8m-5.3-4.8h.8m-.3-3.5h.8m2.1 2.5h.8m-2.8-.1h.8m-2.7 4.9h.8m-.0 .4h.8m-.3-7.8h.8m2.7 2.8h.8m-4.6-3.2h.8m1.5 .6h.8m-3.9-1.2h.8m1.0 4.0h.8m-1.8 4.6h.8m-1.3-8.8h.8m1.8 5.3h.8m-2.4 2.1h.8m-2.6 3.0h.8m1.8-1.3h.8m-1.3-5.0h.8m.5-8.5h.8m-2.1 15.2h.8m-5.7-5.9h.8m6.1-.3h.8m-2.1 4.7h.8m-.5-14.4h.8m-3.1 7.0h.8m1.2-.7h.8m-1.2 9.3h.8m-5.9-2.3h.8m6.2-2.4h.8m-2.5-2.4h.8m-.2 .8h.8m-2.8 2.4h.8m-1.0-3.6h.8m.0-4.9h.8m.9 4.8h.8m-4.0-.0h.8m-1.2 6.6h.8m.7-3.2h.8m-1.5-6.8h.8m.8 5.5h.8m1.0-3.0h.8m-.5 5.4h.8m-4.4-5.0h.8m-.9 8.3h.8m-.1-3.6h.8m1.8-5.0h.8m-3.3 2.6h.8m-1.3-7.1h.8m-1.1 7.0h.8m1.3 6.2h.8m-4.4-5.5h.8m.4 2.9h.8m2.5-4.5h.8m.6-2.2h.8m-4.4-3.0h.8m-1.0 5.1h.8m1.6 5.1h.8m-2.5-8.8h.8m-.9 1.3h.8m-1.0 .1h.8m-1.5 1.5h.8m-.2-.5h.8m-2.4 1.4h.8m2.7 2.2h.8m-2.8-7.8h.8m-2.1-.1h.8m.4 3.8h.8m-2.8 4.3h.8m-.4-5.9h.8m.7 6.6h.8m3.8-5.2h.8m-4.6-.2h.8m-.7 1.0h.8m4.0-4.0h.8m-5.4 1.3h.8m.0 1.2h.8m-.4-2.4h.8m1.9 5.6h.8m-7.7 2.1h.8m1.5-8.1h.8m.8 2.8h.8m-.3-.1h.8m-.5 3.0h.8m-1.8 .0h.8m-2.1-2.3h.8m.7 4.7h.8m1.4-8.1h.8m-1.9 4.7h.8m-2.3-3.1h.8" fill="none" stroke="#000" stroke-width="0.8"/></g>
<rect x="289.6" y="258.5" width="78.6" height="73.5" fill="none" stroke="#111" stroke-width="1.1"/>
<line x1="285.30" y1="332.00" x2="289.60" y2="332.00" stroke="#222" stroke-width="0.9" />
<line x1="287.40" y1="326.47" x2="289.60" y2="326.47" stroke="#333" stroke-width="0.7" />
<line x1="287.40" y1="323.23" x2="289.60" y2="323.23" stroke="#333" stroke-width="0.7" />
<line x1="287.40" y1="320.94" x2="289.60" y2="320.94" stroke="#333" stroke-width="0.7" />
<line x1="287.40" y1="319.16" x2="289.60" y2="319.16" stroke="#333" stroke-width="0.7" />
<line x1="287.40" y1="317.70" x2="289.60" y2="317.70" stroke="#333" stroke-width="0.7" />
<line x1="287.40" y1="316.47" x2="289.60" y2="316.47" stroke="#333" stroke-width="0.7" />
<line x1="287.40" y1="315.41" x2="289.60" y2="315.41" stroke="#333" stroke-width="0.7" />
<line x1="287.40" y1="314.47" x2="289.60" y2="314.47" stroke="#333" stroke-width="0.7" />
<line x1="285.30" y1="313.62" x2="289.60" y2="313.62" stroke="#222" stroke-width="0.9" />
<line x1="287.40" y1="308.09" x2="289.60" y2="308.09" stroke="#333" stroke-width="0.7" />
<line x1="287.40" y1="304.86" x2="289.60" y2="304.86" stroke="#333" stroke-width="0.7" />
<line x1="287.40" y1="302.56" x2="289.60" y2="302.56" stroke="#333" stroke-width="0.7" />
<line x1="287.40" y1="300.78" x2="289.60" y2="300.78" stroke="#333" stroke-width="0.7" />
<line x1="287.40" y1="299.33" x2="289.60" y2="299.33" stroke="#333" stroke-width="0.7" />
<line x1="287.40" y1="298.10" x2="289.60" y2="298.10" stroke="#333" stroke-width="0.7" />
<line x1="287.40" y1="297.03" x2="289.60" y2="297.03" stroke="#333" stroke-width="0.7" />
<line x1="287.40" y1="296.09" x2="289.60" y2="296.09" stroke="#333" stroke-width="0.7" />
<line x1="285.30" y1="295.25" x2="289.60" y2="295.25" stroke="#222" stroke-width="0.9" />
<line x1="287.40" y1="289.72" x2="289.60" y2="289.72" stroke="#333" stroke-width="0.7" />
<line x1="287.40" y1="286.48" x2="289.60" y2="286.48" stroke="#333" stroke-width="0.7" />
<line x1="287.40" y1="284.19" x2="289.60" y2="284.19" stroke="#333" stroke-width="0.7" />
<line x1="287.40" y1="282.41" x2="289.60" y2="282.41" stroke="#333" stroke-width="0.7" />
<line x1="287.40" y1="280.95" x2="289.60" y2="280.95" stroke="#333" stroke-width="0.7" />
<line x1="287.40" y1="279.72" x2="289.60" y2="279.72" stroke="#333" stroke-width="0.7" />
<line x1="287.40" y1="278.66" x2="289.60" y2="278.66" stroke="#333" stroke-width="0.7" />
<line x1="287.40" y1="277.72" x2="289.60" y2="277.72" stroke="#333" stroke-width="0.7" />
<line x1="285.30" y1="276.88" x2="289.60" y2="276.88" stroke="#222" stroke-width="0.9" />
<line x1="287.40" y1="271.34" x2="289.60" y2="271.34" stroke="#333" stroke-width="0.7" />
<line x1="287.40" y1="268.11" x2="289.60" y2="268.11" stroke="#333" stroke-width="0.7" />
<line x1="287.40" y1="265.81" x2="289.60" y2="265.81" stroke="#333" stroke-width="0.7" />
<line x1="287.40" y1="264.03" x2="289.60" y2="264.03" stroke="#333" stroke-width="0.7" />
<line x1="287.40" y1="262.58" x2="289.60" y2="262.58" stroke="#333" stroke-width="0.7" />
<line x1="287.40" y1="261.35" x2="289.60" y2="261.35" stroke="#333" stroke-width="0.7" />
<line x1="287.40" y1="260.28" x2="289.60" y2="260.28" stroke="#333" stroke-width="0.7" />
<line x1="287.40" y1="259.34" x2="289.60" y2="259.34" stroke="#333" stroke-width="0.7" />
<line x1="285.30" y1="258.50" x2="289.60" y2="258.50" stroke="#222" stroke-width="0.9" />
<line x1="289.60" y1="332.00" x2="289.60" y2="336.30" stroke="#222" stroke-width="0.9" />
<line x1="295.52" y1="332.00" x2="295.52" y2="334.20" stroke="#333" stroke-width="0.7" />
<line x1="298.98" y1="332.00" x2="298.98" y2="334.20" stroke="#333" stroke-width="0.7" />
<line x1="301.43" y1="332.00" x2="301.43" y2="334.20" stroke="#333" stroke-width="0.7" />
<line x1="303.33" y1="332.00" x2="303.33" y2="334.20" stroke="#333" stroke-width="0.7" />
<line x1="304.89" y1="332.00" x2="304.89" y2="334.20" stroke="#333" stroke-width="0.7" />
<line x1="306.21" y1="332.00" x2="306.21" y2="334.20" stroke="#333" stroke-width="0.7" />
<line x1="307.35" y1="332.00" x2="307.35" y2="334.20" stroke="#333" stroke-width="0.7" />
<line x1="308.35" y1="332.00" x2="308.35" y2="334.20" stroke="#333" stroke-width="0.7" />
<line x1="309.25" y1="332.00" x2="309.25" y2="336.30" stroke="#222" stroke-width="0.9" />
<line x1="315.17" y1="332.00" x2="315.17" y2="334.20" stroke="#333" stroke-width="0.7" />
<line x1="318.63" y1="332.00" x2="318.63" y2="334.20" stroke="#333" stroke-width="0.7" />
<line x1="321.08" y1="332.00" x2="321.08" y2="334.20" stroke="#333" stroke-width="0.7" />
<line x1="322.98" y1="332.00" x2="322.98" y2="334.20" stroke="#333" stroke-width="0.7" />
<line x1="324.54" y1="332.00" x2="324.54" y2="334.20" stroke="#333" stroke-width="0.7" />
<line x1="325.86" y1="332.00" x2="325.86" y2="334.20" stroke="#333" stroke-width="0.7" />
<line x1="327.00" y1="332.00" x2="327.00" y2="334.20" stroke="#333" stroke-width="0.7" />
<line x1="328.00" y1="332.00" x2="328.00" y2="334.20" stroke="#333" stroke-width="0.7" />
<line x1="328.90" y1="332.00" x2="328.90" y2="336.30" stroke="#222" stroke-width="0.9" />
<line x1="334.82" y1="332.00" x2="334.82" y2="334.20" stroke="#333" stroke-width="0.7" />
<line x1="338.28" y1="332.00" x2="338.28" y2="334.20" stroke="#333" stroke-width="0.7" />
<line x1="340.73" y1="332.00" x2="340.73" y2="334.20" stroke="#333" stroke-width="0.7" />
<line x1="342.63" y1="332.00" x2="342.63" y2="334.20" stroke="#333" stroke-width="0.7" />
<line x1="344.19" y1="332.00" x2="344.19" y2="334.20" stroke="#333" stroke-width="0.7" />
<line x1="345.51" y1="332.00" x2="345.51" y2="334.20" stroke="#333" stroke-width="0.7" />
<line x1="346.65" y1="332.00" x2="346.65" y2="334.20" stroke="#333" stroke-width="0.7" />
<line x1="347.65" y1="332.00" x2="347.65" y2="334.20" stroke="#333" stroke-width="0.7" />
<line x1="348.55" y1="332.00" x2="348.55" y2="336.30" stroke="#222" stroke-width="0.9" />
<line x1="354.47" y1="332.00" x2="354.47" y2="334.20" stroke="#333" stroke-width="0.7" />
<line x1="357.93" y1="332.00" x2="357.93" y2="334.20" stroke="#333" stroke-width="0.7" />
<line x1="360.38" y1="332.00" x2="360.38" y2="334.20" stroke="#333" stroke-width="0.7" />
<line x1="362.28" y1="332.00" x2="362.28" y2="334.20" stroke="#333" stroke-width="0.7" />
<line x1="363.84" y1="332.00" x2="363.84" y2="334.20" stroke="#333" stroke-width="0.7" />
<line x1="365.16" y1="332.00" x2="365.16" y2="334.20" stroke="#333" stroke-width="0.7" />
<line x1="366.30" y1="332.00" x2="366.30" y2="334.20" stroke="#333" stroke-width="0.7" />
<line x1="367.30" y1="332.00" x2="367.30" y2="334.20" stroke="#333" stroke-width="0.7" />
<line x1="368.20" y1="332.00" x2="368.20" y2="336.30" stroke="#222" stroke-width="0.9" />
<rect x="342.5" y="271.5" width="23.1" height="33.9" fill="none" stroke="#7878b4" stroke-width="0.95"/>
<text x="340.6" y="289.8" font-size="10.6" text-anchor="end" fill="#111" font-weight="normal"  stroke="#111" stroke-width="0.3">0.2</text>
<path d="M457.7 289.9h.7m-3.7 .9h.7m.7 .3h.7m-8.6 4.2h.7m2.7-20.1h.7m5.4 8.0h.7m-4.0 6.3h.7m-2.5 3.6h.7m.5-4.6h.7m-3.4-.0h.7m-1.0 1.8h.7m8.6 5.5h.7m-4.2-13.5h.7m1.7 13.1h.7m3.4-18.2h.7m-8.7 10.9h.7m3.5-4.3h.7m-6.5 19.4h.7m4.7-24.6h.7m-4.5 19.2h.7m-3.2-4.4h.7m2.1-11.8h.7m-3.6 14.8h.7m6.4-9.9h.7m-.9-.6h.7m-4.2 3.9h.7m-6.6 2.0h.7m2.7-17.5h.7m-2.4 10.8h.7m-.7-.7h.7" fill="none" stroke="#aaa" stroke-width="0.7"/>
<g filter="url(#bl)"><path d="M459.0 302.1h.7m-7.2 .6h.7m6.9 11.7h.7m-12.9-10.1h.7m5.6 .1h.7m-3.4-3.8h.7m1.6-.1h.7m1.5 20.6h.7m-5.0-4.5h.7m1.9-13.7h.7m-3.4-1.7h.7m1.0 9.8h.7m2.4-5.8h.7m-8.7 1.2h.7m10.0 2.1h.7m-7.2-13.9h.7m-2.1 15.5h.7m-2.6 4.7h.7m.7-13.1h.7m-.8 4.6h.7m5.2-2.8h.7m-11.1 2.9h.7m7.9 9.5h.7m-6.9-.4h.7m6.0-6.1h.7m-6.1-7.9h.7m-1.4 10.7h.7m3.7 .8h.7m5.3-6.2h.7m-7.7 11.2h.7m-5.4-13.9h.7m2.8 .4h.7m1.2-2.7h.7m3.1-3.1h.7m-8.1-1.9h.7m-2.9 13.4h.7m6.9-4.6h.7m.1 4.8h.7m-6.0-3.9h.7m2.8 12.1h.7m-3.7-9.6h.7m3.0 5.0h.7m-1.2-.9h.7m-6.3-7.8h.7m-4.0 1.3h.7m15.2 1.7h.7m-9.1 .1h.7m-.5-9.3h.7m-3.8 6.8h.7m2.5-4.0h.7m-1.7 .8h.7m-5.2 .4h.7m1.2 8.8h.7m7.3-1.5h.7m-6.5-6.7h.7m-5.8 .2h.7m11.0 9.9h.7m-5.7-8.2h.7m-1.5 3.9h.7m-.7 .0h.7m-3.6-2.2h.7m.9 6.0h.7m-4.0 1.3h.7m3.6-10.5h.7m-.3 3.7h.7m-1.6 1.8h.7m-2.0-12.4h.7m4.1 9.8h.7m2.9 2.4h.7m-14.4 5.0h.7m4.2-4.1h.7m10.2 3.2h.7m-13.1-6.9h.7m-2.6 4.4h.7m7.4-9.9h.7m-1.1 11.5h.7m.6-9.4h.7m-6.3-2.6h.7m-2.9 8.4h.7m4.3 5.8h.7m.2-9.5h.7m-7.0 10.9h.7m5.2-9.2h.7m-5.1-5.9h.7m5.4 .4h.7m-.9 9.4h.7m-4.3-13.1h.7m2.3 17.7h.7m-5.3-15.6h.7m6.4 8.2h.7m-7.1 6.3h.7m.6-4.5h.7m-1.2-7.0h.7m1.6-.6h.7m-8.1 1.9h.7m10.5 9.6h.7m2.8-.6h.7m-2.8-4.3h.7m-8.3 1.3h.7m-2.6 1.6h.7m1.2-2.8h.7m-2.2-2.3h.7m6.1-.5h.7m-6.9 2.9h.7m5.1-2.7h.7m-8.3-8.0h.7m-1.3 15.3h.7m4.0-3.4h.7m3.6-1.1h.7m-2.9-4.6h.7m-8.5 6.6h.7m4.9-.3h.7m-4.3-4.2h.7m10.8-4.1h.7m-7.8 12.5h.7m-1.9-6.9h.7m-7.8 3.8h.7m5.6 3.0h.7m.6-9.6h.7m1.3 .8h.7m-4.2 10.3h.7m4.9-8.3h.7m-1.3 4.1h.7m-1.5-4.5h.7m-2.6 2.1h.7m1.1-.3h.7m-4.9-2.5h.7m3.1-5.3h.7m-2.4 10.1h.7m-.0-6.0h.7m-1.4-1.1h.7m3.0 .6h.7m-10.6-4.8h.7m6.6 8.2h.7m-3.6-8.8h.7m.5 2.7h.7m-2.6 4.8h.7m-1.1 1.8h.7m-.6-4.5h.7m1.2 11.1h.7m6.0-3.0h.7m-9.3-5.4h.7m5.4 4.6h.7m-10.2-5.0h.7m2.6 4.6h.7m4.4-7.4h.7m4.9 1.5h.7m.4 .6h.7m-10.1 11.9h.7m-2.3-13.6h.7m6.7 2.5h.7m-4.4-7.0h.7m4.2 12.9h.7m-6.0-1.6h.7m-3.9-6.8h.7m-4.7 4.8h.7m9.7 2.8h.7m-1.9-.8h.7m-7.5-11.5h.7m5.1 8.4h.7m.6-2.5h.7m-7.6 4.1h.7m.5-11.9h.7m-.9 4.4h.7m-2.6 1.9h.7m7.0 16.6h.7m2.2-15.8h.7m-2.9 2.0h.7m-3.5-3.5h.7m-2.5-5.7h.7m6.2 5.2h.7m-5.2 1.0h.7m-1.9-3.4h.7m-3.1 11.9h.7m2.9-16.3h.7m.3 3.6h.7m-2.8 10.5h.7m-4.1-4.8h.7m.8 4.1h.7m3.6 5.5h.7m-2.9 3.6h.7m-5.4-1.2h.7m1.8-5.8h.7m-.2-3.9h.7m-3.6 1.7h.7m10.2-1.4h.7m-8.3-.8h.7m2.0-1.2h.7m-3.4 2.4h.7m4.2 4.2h.7m-9.5-9.0h.7m3.3 8.4h.7m2.8-6.0h.7m3.6 .3h.7m-3.4 9.0h.7m.0-7.0h.7m-4.5-9.9h.7m-9.5 5.2h.7m8.6 9.5h.7m-3.8-.1h.7m1.8 2.8h.7m-8.8-13.4h.7m1.7-1.2h.7m9.0 .7h.7m-9.9 3.0h.7m5.7-.4h.7m-1.2 5.8h.7m-5.8-16.6h.7m-1.7 6.4h.7m8.8 3.0h.7m-10.8 6.2h.7m3.5-7.5h.7m3.2 10.5h.7m-3.7-9.5h.7m-5.0-7.4h.7m4.0 13.9h.7m-5.6-2.1h.7m14.9-6.6h.7m-19.3 9.9h.7m4.1-6.3h.7m3.2 2.1h.7m.7 3.7h.7m-.1-2.3h.7m-13.1 7.1h.7m1.0-1.8h.7m6.6-13.9h.7m-1.4 12.9h.7m-4.8-4.8h.7m.4-6.0h.7m-.2 13.0h.7" fill="none" stroke="#333" stroke-width="0.7"/>
<path d="M450.6 304.6h.8m3.1 5.5h.8m-2.4-.7h.8m-1.3 .0h.8m-3.6-2.8h.8m2.1 5.6h.8m-.4 1.3h.8m-4.7-4.1h.8m1.0 3.3h.8m4.9-3.8h.8m-3.2 .6h.8m-5.1 .3h.8m-.9 3.6h.8m3.2-.8h.8m-1.4-7.9h.8m.3 5.5h.8m-8.6 .0h.8m7.5 3.5h.8m-5.8-2.0h.8m2.5-2.1h.8m-2.3 1.5h.8m1.3 .3h.8m-3.2-4.3h.8m3.4 5.8h.8m-5.4-2.9h.8m2.6-3.8h.8m-1.6 9.2h.8m-1.4-6.9h.8m3.6 1.6h.8m-5.3-1.0h.8m-.9-3.0h.8m-4.4 .7h.8m4.6 3.0h.8m-.2-4.3h.8m-5.1 7.7h.8m-1.3-7.3h.8m-.7 3.3h.8m1.0 3.6h.8m2.5 .5h.8m-2.6-4.5h.8m-3.4-2.2h.8m3.5 6.0h.8m-3.7-4.7h.8m.6 3.0h.8m-2.1-3.6h.8m-.6 1.3h.8m.4 2.6h.8m-1.5-2.3h.8m1.9 2.6h.8m-1.4 .1h.8m-2.3-1.0h.8m-5.1-4.9h.8m-.5 5.4h.8m3.7-1.0h.8m-2.8 3.6h.8m-2.0-8.0h.8m-3.6 3.2h.8m4.7 2.3h.8m-3.1 .2h.8m-.4-3.4h.8m-1.6 3.3h.8m2.5-4.1h.8m-5.6 2.7h.8m6.8-2.8h.8m-9.1 3.5h.8m3.5-2.3h.8m-2.1 2.4h.8m-5.0-1.1h.8m5.0 2.1h.8m.6-2.2h.8m-7.2 3.1h.8m4.6-4.4h.8m-.2 3.7h.8m-3.7-7.5h.8m-1.6 3.5h.8m-1.7 1.5h.8m-1.4 1.0h.8m6.5-3.5h.8m-2.9 1.4h.8m-2.0 .9h.8m1.0-1.3h.8m-2.1-.1h.8m-2.0 1.7h.8m1.3-3.4h.8m-6.8 6.5h.8m3.5 .7h.8m-4.3-3.3h.8m3.2 3.4h.8m-2.4-4.9h.8m1.1 .8h.8m-4.4 1.9h.8m-3.6-3.9h.8m7.2 1.1h.8m-4.9 1.9h.8m2.7 .3h.8m-5.9-2.4h.8m4.1 1.0h.8m-4.9 2.2h.8m3.5 2.9h.8m-6.2-6.4h.8m.1 2.3h.8m-.3 1.7h.8m-6.2-.3h.8m4.2-2.7h.8m2.2 1.1h.8m-4.7 2.9h.8m3.1-4.4h.8m-1.7-1.4h.8m-4.3 1.8h.8m3.1 .9h.8m-3.6-3.3h.8m-3.0 6.6h.8m4.2-5.3h.8m1.2 3.0h.8m-4.7-2.5h.8m3.0 2.1h.8m.4 .1h.8m-6.2-2.1h.8m-1.1 1.9h.8m1.5 .8h.8m-.3-3.7h.8m-2.4 .2h.8m.9-.8h.8m-3.4 1.0h.8m-.9 1.3h.8m4.4 .0h.8m-8.0-.1h.8m4.5 1.9h.8m-2.0 3.2h.8m1.3-4.2h.8m-.5-3.2h.8m-4.2 1.0h.8m.0 5.5h.8m-2.4-.1h.8m-2.1-.4h.8m-2.4-5.0h.8m5.7 1.7h.8m-2.9 .2h.8m-.7-.4h.8m-3.6-.2h.8m1.8-1.3h.8m.1 5.9h.8m-5.9-5.1h.8m2.5 1.2h.8m.1-1.6h.8m-1.1 1.6h.8m-.9 3.4h.8m-.3-6.7h.8m-4.9 4.6h.8m2.2-2.7h.8m-3.3 .7h.8m2.3-.8h.8m-1.4 3.5h.8m2.0-.7h.8m-3.1-4.2h.8m1.5 6.3h.8m.4-.7h.8m-3.2-1.7h.8m-1.5 1.9h.8m-1.4 2.0h.8m1.7-5.4h.8m-2.7-2.8h.8m-2.6 2.9h.8m6.9-1.1h.8m-4.5 2.0h.8m-3.7 1.2h.8m-4.9 .7h.8m8.7-1.4h.8m-5.6-.3h.8m1.0-1.4h.8m-2.1 2.2h.8m-1.9-.3h.8m.9 .7h.8m-4.0-2.8h.8m.6 3.8h.8m.8-6.3h.8m-4.5 7.9h.8m3.1-7.1h.8m-3.8 3.2h.8m4.9 3.3h.8m-2.7-13.3h.8m3.2-1.2h.8m-1.4 2.4h.8m-3.4 1.7h.8m-.1-3.9h.8m-4.3 1.6h.8m2.8 2.5h.8m-6.3-.0h.8m4.8 .3h.8m-.5-2.4h.8m-1.4 .3h.8m-2.7-.9h.8m.5-.6h.8m-3.6-1.8h.8m2.6 3.6h.8m-1.5-3.1h.8m.5 1.4h.8m-5.9 3.6h.8m.2 1.3h.8m2.7-4.9h.8m-5.8-.5h.8m5.9 3.8h.8m-2.9-5.6h.8m-1.9 2.6h.8m.7 .3h.8m-1.0-2.7h.8m-2.5 5.6h.8m-2.2-.9h.8m5.8-.5h.8m-7.3 1.1h.8m-1.6-1.7h.8m1.7 1.6h.8m2.0-1.9h.8m.3 1.4h.8m-4.8-3.6h.8m4.3 1.1h.8m-4.4 .5h.8m-2.3-2.7h.8m-.2 2.7h.8m1.2-.7h.8m-5.3-1.0h.8m1.9 2.4h.8m.5-1.2h.8m-1.1 1.0h.8m1.2-.4h.8m-3.5 1.1h.8m1.1-2.7h.8m-3.8 1.2h.8m-3.7 2.9h.8m4.8-2.3h.8m3.2 2.3h.8m-3.1 .5h.8m-2.8-5.5h.8m.3 3.4h.8m-5.6-.7h.8m2.6 1.7h.8m-1.8-2.8h.8m.2-.4h.8m-2.3 2.8h.8m-3.2-.7h.8m-1.7-2.4h.8m.5 1.5h.8m2.6 .1h.8m-.5 .3h.8m-2.8 .7h.8m-.9-.7h.8m1.4-1.3h.8m-.6-1.0h.8m-3.2-1.2h.8m-1.3 6.1h.8m.8-.6h.8m-4.0-4.2h.8m2.6 3.4h.8m-.2-4.6h.8m-1.4 2.9h.8m-1.5 1.0h.8m-1.5-4.0h.8m-2.2 .5h.8m-1.2 2.4h.8m3.8-1.1h.8m-4.4-.8h.8m-2.5 2.2h.8m1.4-.6h.8m-1.6 1.3h.8m-1.2 .1h.8" fill="none" stroke="#000" stroke-width="0.8"/></g>
<rect x="394.0" y="258.5" width="75.6" height="73.5" fill="none" stroke="#111" stroke-width="1.1"/>
<line x1="389.70" y1="332.00" x2="394.00" y2="332.00" stroke="#222" stroke-width="0.9" />
<line x1="391.80" y1="326.47" x2="394.00" y2="326.47" stroke="#333" stroke-width="0.7" />
<line x1="391.80" y1="323.23" x2="394.00" y2="323.23" stroke="#333" stroke-width="0.7" />
<line x1="391.80" y1="320.94" x2="394.00" y2="320.94" stroke="#333" stroke-width="0.7" />
<line x1="391.80" y1="319.16" x2="394.00" y2="319.16" stroke="#333" stroke-width="0.7" />
<line x1="391.80" y1="317.70" x2="394.00" y2="317.70" stroke="#333" stroke-width="0.7" />
<line x1="391.80" y1="316.47" x2="394.00" y2="316.47" stroke="#333" stroke-width="0.7" />
<line x1="391.80" y1="315.41" x2="394.00" y2="315.41" stroke="#333" stroke-width="0.7" />
<line x1="391.80" y1="314.47" x2="394.00" y2="314.47" stroke="#333" stroke-width="0.7" />
<line x1="389.70" y1="313.62" x2="394.00" y2="313.62" stroke="#222" stroke-width="0.9" />
<line x1="391.80" y1="308.09" x2="394.00" y2="308.09" stroke="#333" stroke-width="0.7" />
<line x1="391.80" y1="304.86" x2="394.00" y2="304.86" stroke="#333" stroke-width="0.7" />
<line x1="391.80" y1="302.56" x2="394.00" y2="302.56" stroke="#333" stroke-width="0.7" />
<line x1="391.80" y1="300.78" x2="394.00" y2="300.78" stroke="#333" stroke-width="0.7" />
<line x1="391.80" y1="299.33" x2="394.00" y2="299.33" stroke="#333" stroke-width="0.7" />
<line x1="391.80" y1="298.10" x2="394.00" y2="298.10" stroke="#333" stroke-width="0.7" />
<line x1="391.80" y1="297.03" x2="394.00" y2="297.03" stroke="#333" stroke-width="0.7" />
<line x1="391.80" y1="296.09" x2="394.00" y2="296.09" stroke="#333" stroke-width="0.7" />
<line x1="389.70" y1="295.25" x2="394.00" y2="295.25" stroke="#222" stroke-width="0.9" />
<line x1="391.80" y1="289.72" x2="394.00" y2="289.72" stroke="#333" stroke-width="0.7" />
<line x1="391.80" y1="286.48" x2="394.00" y2="286.48" stroke="#333" stroke-width="0.7" />
<line x1="391.80" y1="284.19" x2="394.00" y2="284.19" stroke="#333" stroke-width="0.7" />
<line x1="391.80" y1="282.41" x2="394.00" y2="282.41" stroke="#333" stroke-width="0.7" />
<line x1="391.80" y1="280.95" x2="394.00" y2="280.95" stroke="#333" stroke-width="0.7" />
<line x1="391.80" y1="279.72" x2="394.00" y2="279.72" stroke="#333" stroke-width="0.7" />
<line x1="391.80" y1="278.66" x2="394.00" y2="278.66" stroke="#333" stroke-width="0.7" />
<line x1="391.80" y1="277.72" x2="394.00" y2="277.72" stroke="#333" stroke-width="0.7" />
<line x1="389.70" y1="276.88" x2="394.00" y2="276.88" stroke="#222" stroke-width="0.9" />
<line x1="391.80" y1="271.34" x2="394.00" y2="271.34" stroke="#333" stroke-width="0.7" />
<line x1="391.80" y1="268.11" x2="394.00" y2="268.11" stroke="#333" stroke-width="0.7" />
<line x1="391.80" y1="265.81" x2="394.00" y2="265.81" stroke="#333" stroke-width="0.7" />
<line x1="391.80" y1="264.03" x2="394.00" y2="264.03" stroke="#333" stroke-width="0.7" />
<line x1="391.80" y1="262.58" x2="394.00" y2="262.58" stroke="#333" stroke-width="0.7" />
<line x1="391.80" y1="261.35" x2="394.00" y2="261.35" stroke="#333" stroke-width="0.7" />
<line x1="391.80" y1="260.28" x2="394.00" y2="260.28" stroke="#333" stroke-width="0.7" />
<line x1="391.80" y1="259.34" x2="394.00" y2="259.34" stroke="#333" stroke-width="0.7" />
<line x1="389.70" y1="258.50" x2="394.00" y2="258.50" stroke="#222" stroke-width="0.9" />
<line x1="394.00" y1="332.00" x2="394.00" y2="336.30" stroke="#222" stroke-width="0.9" />
<line x1="399.69" y1="332.00" x2="399.69" y2="334.20" stroke="#333" stroke-width="0.7" />
<line x1="403.02" y1="332.00" x2="403.02" y2="334.20" stroke="#333" stroke-width="0.7" />
<line x1="405.38" y1="332.00" x2="405.38" y2="334.20" stroke="#333" stroke-width="0.7" />
<line x1="407.21" y1="332.00" x2="407.21" y2="334.20" stroke="#333" stroke-width="0.7" />
<line x1="408.71" y1="332.00" x2="408.71" y2="334.20" stroke="#333" stroke-width="0.7" />
<line x1="409.97" y1="332.00" x2="409.97" y2="334.20" stroke="#333" stroke-width="0.7" />
<line x1="411.07" y1="332.00" x2="411.07" y2="334.20" stroke="#333" stroke-width="0.7" />
<line x1="412.04" y1="332.00" x2="412.04" y2="334.20" stroke="#333" stroke-width="0.7" />
<line x1="412.90" y1="332.00" x2="412.90" y2="336.30" stroke="#222" stroke-width="0.9" />
<line x1="418.59" y1="332.00" x2="418.59" y2="334.20" stroke="#333" stroke-width="0.7" />
<line x1="421.92" y1="332.00" x2="421.92" y2="334.20" stroke="#333" stroke-width="0.7" />
<line x1="424.28" y1="332.00" x2="424.28" y2="334.20" stroke="#333" stroke-width="0.7" />
<line x1="426.11" y1="332.00" x2="426.11" y2="334.20" stroke="#333" stroke-width="0.7" />
<line x1="427.61" y1="332.00" x2="427.61" y2="334.20" stroke="#333" stroke-width="0.7" />
<line x1="428.87" y1="332.00" x2="428.87" y2="334.20" stroke="#333" stroke-width="0.7" />
<line x1="429.97" y1="332.00" x2="429.97" y2="334.20" stroke="#333" stroke-width="0.7" />
<line x1="430.94" y1="332.00" x2="430.94" y2="334.20" stroke="#333" stroke-width="0.7" />
<line x1="431.80" y1="332.00" x2="431.80" y2="336.30" stroke="#222" stroke-width="0.9" />
<line x1="437.49" y1="332.00" x2="437.49" y2="334.20" stroke="#333" stroke-width="0.7" />
<line x1="440.82" y1="332.00" x2="440.82" y2="334.20" stroke="#333" stroke-width="0.7" />
<line x1="443.18" y1="332.00" x2="443.18" y2="334.20" stroke="#333" stroke-width="0.7" />
<line x1="445.01" y1="332.00" x2="445.01" y2="334.20" stroke="#333" stroke-width="0.7" />
<line x1="446.51" y1="332.00" x2="446.51" y2="334.20" stroke="#333" stroke-width="0.7" />
<line x1="447.77" y1="332.00" x2="447.77" y2="334.20" stroke="#333" stroke-width="0.7" />
<line x1="448.87" y1="332.00" x2="448.87" y2="334.20" stroke="#333" stroke-width="0.7" />
<line x1="449.84" y1="332.00" x2="449.84" y2="334.20" stroke="#333" stroke-width="0.7" />
<line x1="450.70" y1="332.00" x2="450.70" y2="336.30" stroke="#222" stroke-width="0.9" />
<line x1="456.39" y1="332.00" x2="456.39" y2="334.20" stroke="#333" stroke-width="0.7" />
<line x1="459.72" y1="332.00" x2="459.72" y2="334.20" stroke="#333" stroke-width="0.7" />
<line x1="462.08" y1="332.00" x2="462.08" y2="334.20" stroke="#333" stroke-width="0.7" />
<line x1="463.91" y1="332.00" x2="463.91" y2="334.20" stroke="#333" stroke-width="0.7" />
<line x1="465.41" y1="332.00" x2="465.41" y2="334.20" stroke="#333" stroke-width="0.7" />
<line x1="466.67" y1="332.00" x2="466.67" y2="334.20" stroke="#333" stroke-width="0.7" />
<line x1="467.77" y1="332.00" x2="467.77" y2="334.20" stroke="#333" stroke-width="0.7" />
<line x1="468.74" y1="332.00" x2="468.74" y2="334.20" stroke="#333" stroke-width="0.7" />
<line x1="469.60" y1="332.00" x2="469.60" y2="336.30" stroke="#222" stroke-width="0.9" />
<rect x="444.4" y="271.5" width="22.3" height="33.9" fill="none" stroke="#7878b4" stroke-width="0.95"/>
<text x="442.2" y="289.8" font-size="10.6" text-anchor="end" fill="#111" font-weight="normal"  stroke="#111" stroke-width="0.3">27.0</text>
<path d="M142.6 385.0h.7m-1.4 11.8h.7m2.2-15.8h.7m-.7-4.8h.7m-6.8 7.4h.7m-9.7 11.8h.7m23.2-20.2h.7m-11.2-4.1h.7m.8 15.8h.7m2.1-13.6h.7" fill="none" stroke="#aaa" stroke-width="0.7"/>
<g filter="url(#bl)"><path d="M141.7 417.2h.7m-1.4-1.8h.7m3.4-2.8h.7m3.0 1.4h.7m-8.6 2.7h.7m-.5-6.5h.7m1.9 3.8h.7m4.6-10.2h.7m-6.8 15.3h.7m-.4-4.3h.7m4.6-8.2h.7m-5.3 10.7h.7m-2.7-13.5h.7m-2.0 10.3h.7m3.0 8.8h.7m2.8-18.0h.7m-1.6 13.1h.7m1.1-5.7h.7m-7.5 1.6h.7m5.9 2.5h.7m-.2 .9h.7m-7.8-9.6h.7m6.9-2.7h.7m-7.6 6.4h.7m-2.4-1.4h.7m1.9 .3h.7m-.1 7.8h.7m-3.6-7.1h.7m-3.6 5.9h.7m6.9 4.2h.7m-.1-9.4h.7m-4.6-.2h.7m-3.3 5.7h.7m1.2-7.9h.7m2.8 4.4h.7m-4.1-1.8h.7m-.4 8.4h.7m4.0-11.0h.7m-4.0 11.2h.7m-1.5 2.2h.7m1.6-5.9h.7m-8.6 1.0h.7m6.8-1.4h.7m-.3-.3h.7m-3.8 2.0h.7m1.1-10.4h.7m-4.1 6.4h.7m3.5-12.6h.7m-8.2 17.3h.7m1.0-6.9h.7m2.2 4.3h.7m5.6 5.6h.7m-8.2-2.0h.7m-1.3-4.9h.7m3.6 1.7h.7m-3.7 3.8h.7m1.6-7.2h.7m-1.3-5.6h.7m2.4 7.5h.7m-1.5 8.1h.7m-4.8-11.4h.7m2.0 6.1h.7m-1.3 .4h.7m1.3-14.4h.7m-4.3-1.5h.7m.5 8.6h.7m2.0 3.1h.7m-2.7 5.8h.7m1.4-13.3h.7m-4.7 8.3h.7m6.8-2.8h.7m-6.6 2.5h.7m2.3-1.9h.7m-2.2-1.8h.7m-3.3-2.0h.7m3.1 1.3h.7m-1.0 5.1h.7m.6-16.5h.7m-6.8 7.8h.7m1.8 10.8h.7m7.7 4.0h.7m-4.4-6.2h.7m-6.2 .8h.7m-6.3 2.1h.7m6.1-1.7h.7m-3.9-9.1h.7m.5 5.6h.7m2.4-1.7h.7m-.7 5.5h.7m-5.4-4.2h.7m-1.9-2.4h.7m7.0-.9h.7m2.3 6.5h.7m-3.7-2.1h.7m-.8 5.3h.7m-3.1-8.7h.7m-1.6 .4h.7m-2.3-6.6h.7m-.0 10.7h.7m-.7-5.8h.7m2.1 6.5h.7m-3.3-.8h.7m-2.4 3.0h.7m-.7-6.4h.7m2.8-.4h.7m3.6-7.1h.7m-5.1 2.5h.7m-.1-.2h.7m.1 9.8h.7m2.8 3.6h.7m-7.5-1.4h.7m-.7-5.7h.7m-.8-8.8h.7m2.7-1.5h.7m-3.3 13.7h.7m.4-11.2h.7m-3.1 12.1h.7m4.8 4.9h.7m-9.8-6.1h.7m3.5 1.6h.7m-4.5-4.8h.7m6.8-2.7h.7m-4.0-1.8h.7m3.9-1.9h.7m-7.0 5.3h.7m3.0-2.7h.7m.3 6.3h.7m-1.6-2.2h.7m-.1-5.9h.7m-5.9 4.0h.7m-.4 6.0h.7m8.8 2.9h.7m-5.4-4.8h.7m-4.2-8.8h.7m3.2-1.0h.7m-1.5 7.2h.7m.7 1.0h.7m-2.7-3.4h.7m-6.4 1.3h.7m6.9 7.4h.7m1.4-10.9h.7m-7.9 9.1h.7m3.2-11.9h.7m-3.4 16.5h.7m-4.7-7.6h.7m.7 7.8h.7m2.2-14.1h.7m-4.6 1.7h.7m-3.3 1.3h.7m14.1 3.1h.7m-8.3-6.7h.7m1.2 3.7h.7m-4.4 9.9h.7m3.3-12.2h.7m2.5 4.5h.7m-3.8 1.1h.7m1.4 2.5h.7m-5.5 .6h.7m-.8-3.1h.7m5.7-6.4h.7m-9.1 3.5h.7m1.0 9.1h.7m5.8-9.4h.7m-5.1 .5h.7m.8 5.5h.7m-.4 .6h.7m3.0-5.0h.7m-4.6-.1h.7m-2.8 2.2h.7m-1.0 .7h.7m-3.2-2.7h.7m.1-5.4h.7m-1.0 3.6h.7m1.0-5.7h.7m-1.0 2.3h.7m-2.5 7.1h.7m5.3 .5h.7m-5.7-3.9h.7m5.0-6.4h.7m-1.3 .7h.7m-6.3 8.3h.7m.6 8.7h.7m1.5-9.2h.7m.7 .5h.7m-6.2 5.8h.7m6.5 .8h.7m-6.7-2.7h.7m-4.5-9.6h.7m8.1 8.1h.7m-5.4-18.4h.7m1.7 14.7h.7m-9.9-2.0h.7m7.1 4.2h.7m1.7-2.7h.7m-5.9-.5h.7m-4.5-4.1h.7m12.1 2.3h.7m-7.1 13.9h.7m2.8-9.5h.7m-1.7-2.1h.7m-5.8 6.8h.7m2.6 3.2h.7m-1.9-10.6h.7m1.2 1.0h.7m-2.8-3.8h.7m1.1 6.5h.7m4.2-1.9h.7m-11.9 2.6h.7m12.0-4.9h.7m-10.4 1.5h.7m-7.2-.9h.7m7.7-6.3h.7m1.7 3.4h.7m-8.3 .8h.7m9.0 4.9h.7m-6.2-2.5h.7m3.9-1.4h.7m-2.4 8.0h.7m-4.9-8.4h.7m3.6 3.2h.7m-2.5-2.9h.7m-.5 12.8h.7m3.8-18.7h.7m-4.8 9.2h.7m-.7-7.9h.7m-1.2 8.2h.7m-2.4 .9h.7m-6.2-9.8h.7m7.3 10.2h.7m-1.5-4.6h.7m.4 8.3h.7m1.5-6.3h.7m-5.0 6.1h.7m2.5-1.0h.7m-3.3-9.4h.7m.8 1.3h.7m2.3 8.0h.7m-11.2-1.0h.7m10.3 2.0h.7m-6.4-10.2h.7m3.8 10.1h.7m-3.6-11.7h.7m-5.7 7.7h.7m1.5-5.1h.7m3.3 9.3h.7m-8.6-9.3h.7m9.9 3.4h.7m-5.9 3.7h.7m-3.2-10.0h.7m2.9 15.0h.7m2.4-8.4h.7m-.7-2.2h.7m-7.6-6.8h.7m3.9 13.9h.7m-.4-5.0h.7m-3.1 6.1h.7m.4-13.6h.7m3.8 4.3h.7m-3.8 3.5h.7m1.4 1.3h.7m-.2-.2h.7m-6.0-3.9h.7m2.8-1.7h.7m.2 3.2h.7m-6.5-3.4h.7m1.8 14.2h.7m2.2-9.4h.7" fill="none" stroke="#333" stroke-width="0.7"/>
<path d="M143.1 413.3h.8m.0 2.5h.8m-1.4 3.4h.8m5.5 1.5h.8m-2.9-9.2h.8m-1.8 4.5h.8m-.4 4.2h.8m-2.0-11.3h.8m-1.9 4.8h.8m-.2 2.2h.8m.4-6.8h.8m-4.5 6.3h.8m1.4-1.4h.8m-1.5 1.9h.8m1.4-.7h.8m-2.5-7.0h.8m-6.7 1.5h.8m5.3-3.5h.8m-.7 9.1h.8m-1.6-2.6h.8m-1.7 6.4h.8m.8-3.5h.8m-2.5 1.0h.8m2.7-1.0h.8m-4.0-4.8h.8m.2 1.1h.8m-4.0 7.4h.8m.9-12.0h.8m.3 2.9h.8m-2.9 8.4h.8m2.3-2.1h.8m-2.0 1.1h.8m2.8 .0h.8m-4.3-7.8h.8m.5 12.2h.8m-.4-11.7h.8m-1.8 10.5h.8m-2.5-3.3h.8m3.0 4.7h.8m-6.6-14.0h.8m3.3 10.1h.8m-2.3-3.0h.8m-.9 5.0h.8m-4.5-3.9h.8m1.1-3.8h.8m-1.3-1.0h.8m2.3 3.9h.8m2.9-1.0h.8m-3.8 2.4h.8m-1.0 4.6h.8m-1.0-5.4h.8m-1.3-.6h.8m-.7 4.1h.8m-.6-3.8h.8m-.9 2.8h.8m-1.7 .7h.8m-1.0-1.0h.8m4.4-1.9h.8m-5.0-5.8h.8m.9 4.9h.8m-.4-2.8h.8m-1.9 1.4h.8m-4.3 1.3h.8m3.3 2.5h.8m-4.5-6.7h.8m-.5 .0h.8m.6 5.3h.8m3.8-.3h.8m-1.8-7.7h.8m-.6 10.1h.8m-3.1 .1h.8m-.0-10.6h.8m-6.1 13.9h.8m2.6-1.2h.8m-1.3-8.2h.8m-.8 4.0h.8m.3-3.9h.8m-.1 5.1h.8m-3.8-7.2h.8m-3.0 3.3h.8m3.3-1.6h.8m-2.1 2.3h.8m.5 2.9h.8m.9-.6h.8m-.2-5.8h.8m-1.9 5.6h.8m-4.2-4.4h.8m2.3 3.1h.8m-4.3-2.6h.8m5.0 5.8h.8m-3.8 2.1h.8m-2.9-6.3h.8m3.1-.7h.8m-5.1 3.8h.8m4.8-13.0h.8m-3.8 5.3h.8m-1.7-.7h.8m5.2 3.0h.8m-6.1-.1h.8m-2.9 1.0h.8m1.8 8.4h.8m-3.6-6.2h.8m.5-6.8h.8m7.8 5.5h.8m-8.0-2.1h.8m-2.5-1.2h.8m2.5 2.6h.8m-3.2 2.4h.8m-3.0 .2h.8m1.4 .9h.8m-1.2-1.7h.8m1.1 3.8h.8m-3.3 .0h.8m-1.4-4.8h.8m1.5 1.4h.8m-6.3-4.7h.8m4.0 7.9h.8m-1.9 2.4h.8m-3.1-6.0h.8m4.1-.2h.8m-1.4 3.8h.8m-3.0-1.4h.8m3.1-3.4h.8m-7.8-4.0h.8m2.2 .5h.8m1.9 1.1h.8m3.5 5.7h.8m-8.7-3.6h.8m5.1 4.0h.8m-6.1 1.5h.8m.2-1.8h.8m1.5-4.3h.8m-2.3 6.7h.8m.6-5.1h.8m.1 2.2h.8m-2.1-8.5h.8m-1.2 4.5h.8m.4-.5h.8m-1.4-1.8h.8m.1 1.3h.8m-2.7 5.4h.8m-1.4-2.4h.8m-3.9-3.8h.8m4.3 7.6h.8m-3.2-3.5h.8m-.2-5.3h.8m-3.6-.4h.8m5.1 3.7h.8m.5 4.3h.8m-4.1 .0h.8m.0 1.1h.8m-4.5-6.1h.8m.1 2.7h.8m-.2-5.5h.8m4.1 1.6h.8m-4.4 3.4h.8m-3.3 3.1h.8m.8 4.0h.8m.3-8.2h.8m-7.2 .9h.8m6.5-2.5h.8m-.7 5.8h.8m-6.3-3.6h.8m3.5 3.9h.8m-1.1-3.2h.8m-1.8-1.1h.8m-.1-3.2h.8m.5 3.1h.8m-1.0-.8h.8m-1.0 2.6h.8m.2 1.4h.8m-.7-2.6h.8m-2.9-.4h.8m-3.3 .6h.8m4.1 3.7h.8m-4.8-2.0h.8m2.5-6.9h.8m-1.6 7.0h.8m.0-.3h.8m-6.0-9.4h.8m6.9 6.7h.8m-2.3 6.9h.8m-3.3-10.0h.8m1.9 4.6h.8m-2.6 2.1h.8m.1 2.2h.8m-5.7-10.0h.8m2.4 5.9h.8m.5-.6h.8m.4 5.4h.8m-1.5-8.1h.8m-3.1 3.0h.8m-2.9-3.3h.8m1.8-1.4h.8m-.0 7.0h.8m-2.4-3.4h.8m.9 3.4h.8m-1.3-7.0h.8m-2.9 3.5h.8m-3.2-1.8h.8m1.5 6.6h.8m-4.8-9.1h.8m3.8 3.8h.8m-1.6 .2h.8m-2.5 2.9h.8m5.0-.5h.8m-4.4 4.6h.8m1.3-9.5h.8m-3.0 1.7h.8m.3 7.5h.8m-2.2-5.6h.8m.9-4.3h.8m-2.0 7.5h.8m2.5-10.3h.8m-1.7 6.5h.8m.4 3.8h.8m.6-1.3h.8m-5.7-4.7h.8m-2.9 5.7h.8m3.2 1.1h.8m-1.1-9.6h.8m-2.4 5.2h.8m.4 4.2h.8m1.8-2.0h.8m-8.0-5.4h.8m-.9 1.1h.8m1.1 4.1h.8m1.2 3.6h.8m1.9-6.5h.8m-1.1 1.9h.8m-1.8 5.5h.8m-4.1-5.8h.8m4.8-2.9h.8m-3.5 3.7h.8m-2.1-5.9h.8m-1.4 1.3h.8m2.9 5.1h.8m-1.6-5.9h.8m-1.2 5.5h.8m.3-3.6h.8m-1.3 8.6h.8m1.3-9.5h.8m-6.9-2.2h.8m3.5 8.5h.8m-2.1-6.0h.8m1.1 10.2h.8m-3.5-7.1h.8m1.7 2.6h.8m-.5-3.7h.8m-2.9 .3h.8m-2.7 .2h.8m-.2 3.3h.8m-.8-1.8h.8m-1.8-5.3h.8m3.8 1.0h.8m-.0 7.9h.8m-9.3-6.5h.8m3.1 2.7h.8m-.3-2.6h.8m2.2 2.0h.8m-1.4-2.3h.8m-4.2 8.3h.8m.0-10.0h.8m-.6 8.8h.8m-.8-7.3h.8m.9 7.0h.8m-2.5-5.4h.8m-.8 8.5h.8m-.7-5.5h.8m-4.7-.9h.8m3.5-2.0h.8m-1.8-4.3h.8m-3.0 6.3h.8m1.0-1.1h.8m.2-1.7h.8m-2.7-.0h.8m.9-2.6h.8m-2.2 8.3h.8m3.1-3.0h.8m4.0 2.9h.8m-5.0-6.8h.8m-1.1 10.3h.8m-4.7-11.6h.8m.8 1.3h.8m.6-1.2h.8m-1.9-3.5h.8m-1.0 12.3h.8m-1.3-3.0h.8m2.0-5.8h.8m-5.7 4.8h.8m2.4-1.4h.8m-3.4 6.1h.8m-1.2-6.0h.8m1.5 4.0h.8m-1.6-6.3h.8m4.3-.1h.8m-3.3 2.8h.8m-3.4 .4h.8m-.3 1.5h.8m-5.5-1.4h.8m4.6-3.9h.8m2.9 6.6h.8m-4.1-3.9h.8m1.6-.6h.8m-5.4 4.7h.8m-1.1-6.1h.8m4.2-3.3h.8m-3.9 7.1h.8m-.1-6.5h.8m-1.8 4.6h.8m3.7 5.5h.8m-6.4-.5h.8m2.1-4.0h.8m-2.7-.7h.8m-3.5-1.5h.8m4.3 8.5h.8m1.1-7.5h.8m-3.4-8.3h.8m-2.6 4.7h.8m1.5-1.6h.8m-4.7 2.3h.8m2.2 8.0h.8m-1.3-6.9h.8m-.4 3.4h.8m.2 1.5h.8m2.0 3.4h.8m-6.7-1.6h.8m2.1-7.3h.8m-3.9 .8h.8m-4.4 5.9h.8m3.9 2.4h.8m-1.5-4.7h.8m1.9 3.7h.8m-1.6-8.2h.8m3.1 7.8h.8m-2.5 3.1h.8m-.7-4.9h.8m-2.7 .9h.8m-4.9 .7h.8m.3-1.6h.8m-.9 1.2h.8m1.7-.8h.8m-3.1-3.3h.8m1.0 .0h.8m-1.6-2.4h.8m1.7 2.0h.8m-4.1 3.1h.8m-.8-2.2h.8m-.2-3.1h.8m-.2 .4h.8m-2.9 4.8h.8m1.2-7.4h.8m-1.0 6.8h.8m.9 .8h.8m-1.2 .9h.8m-2.3-5.7h.8m1.5 1.6h.8m-2.0 4.3h.8m1.1 2.3h.8m-4.2-6.5h.8m1.8-4.3h.8m-4.6 8.3h.8m.5-6.3h.8m2.1 5.9h.8m-.6-3.5h.8m-3.3-.0h.8m.4-6.9h.8m-2.8 11.2h.8m-1.0-3.2h.8m1.1 2.4h.8m-2.0-6.8h.8m5.3 1.7h.8m-2.4-4.3h.8m-4.1 6.4h.8m1.0-3.3h.8m-4.5 1.1h.8m-.2 4.1h.8m-1.4-2.1h.8m3.9 6.9h.8m-7.7-9.8h.8m2.3 9.2h.8m.7 .6h.8m-3.3-7.1h.8m3.1 3.6h.8m-6.8-3.5h.8m3.4 3.7h.8m-2.5 4.5h.8m.8-1.2h.8m-.3-5.6h.8m-2.3-5.1h.8m1.6 7.8h.8m-.7-4.6h.8m-4.8-.0h.8m.6 1.5h.8m1.9-3.7h.8m-3.8 6.5h.8m1.3-6.3h.8m-4.0 .2h.8m1.5 4.3h.8m-1.1-3.5h.8m-1.0 2.2h.8m.8 .7h.8m-3.7-5.1h.8m3.9 4.4h.8m-4.2 .2h.8m1.9-1.2h.8m-2.8 .3h.8m.0-3.1h.8m-1.6 8.3h.8m1.2-1.7h.8m-2.6 3.9h.8m.1-.7h.8m-4.7-10.2h.8m3.3 3.4h.8m-3.3-2.8h.8m3.1-1.0h.8m-3.6-.8h.8m4.0 3.7h.8m-7.9 8.6h.8m-.5-13.9h.8m1.7 2.9h.8m-4.5 9.0h.8m.7-8.9h.8m1.1 3.6h.8m1.2 1.2h.8m.2 4.2h.8m-.4-.1h.8m-4.3-2.3h.8m-.9-8.5h.8m-3.3 9.3h.8m-3.2-6.4h.8m1.4 3.1h.8m-.3 1.3h.8m.9-2.9h.8m-2.1-7.1h.8m1.1 3.8h.8m-1.6 6.8h.8m2.0 1.4h.8m.1-8.6h.8m-2.5 12.1h.8m-1.4-10.9h.8m-.8 2.4h.8m-2.9 6.4h.8m.2-8.9h.8m-2.2 7.3h.8m1.3 2.0h.8m-1.7-8.6h.8m-1.5-.3h.8m5.8 5.0h.8m-6.8 4.3h.8m1.2-5.9h.8m-.9 1.8h.8m.2 5.6h.8m-3.8-6.9h.8m-.5 5.1h.8m.4-1.8h.8m.3-5.8h.8m-2.4 8.2h.8m.8-2.3h.8m-3.3-4.8h.8m-2.0 .4h.8m.8-4.7h.8m1.7 2.7h.8m-2.7 5.5h.8m-2.4-9.8h.8m2.3 9.0h.8m-3.3 2.9h.8m1.6-8.5h.8m-2.8-3.3h.8m-1.2 12.9h.8m-2.0-2.4h.8m-2.2-4.6h.8m4.2 8.2h.8m-1.8-3.9h.8m1.8-13.0h.8m.7 12.3h.8m-5.7-1.4h.8m-.9-3.6h.8m-.9 2.0h.8m.6 3.3h.8m-.2-.4h.8m-4.8 3.3h.8m-4.3-5.2h.8m5.4-2.6h.8m2.4-2.3h.8m-7.0 2.4h.8m2.4 5.3h.8m-1.4-.5h.8m-2.5-5.2h.8m.9-3.0h.8m-.7 3.9h.8m.2-2.5h.8m-3.3 1.8h.8m-.5-1.8h.8m-.6-1.4h.8m.8 8.2h.8m-1.9-3.5h.8m-2.6-3.1h.8m.6 .2h.8m-2.8 4.3h.8m1.6-2.3h.8m-2.4 1.4h.8m-.6-1.5h.8m1.0 4.7h.8m.4-5.4h.8m.1-2.2h.8m-3.6 10.0h.8m4.4-4.8h.8m-6.4-2.0h.8m-2.5 .9h.8m.8-2.5h.8m2.5-.1h.8m.2 6.6h.8m-2.9-5.8h.8m-3.1-5.7h.8m.8 7.0h.8m-.6-1.6h.8m-.6-3.3h.8m-6.2 8.0h.8m5.8-14.7h.8m-.4 11.4h.8m-3.7-4.8h.8m-2.5 9.1h.8m-.3-3.0h.8m2.5-5.2h.8m-3.6 .7h.8m-2.6 1.9h.8m4.3 3.0h.8m-1.7-.7h.8m-3.0 .9h.8m3.7 1.2h.8m-3.2-9.6h.8m-3.6 11.4h.8m3.3-4.9h.8m-3.7-.2h.8m1.3 1.9h.8m.6 4.7h.8m-4.5-7.3h.8m-.7-1.1h.8m-1.2 3.3h.8m1.9-6.1h.8m-5.4 3.3h.8m1.4 5.0h.8m-1.8 4.3h.8m-.3-7.0h.8m.4 5.6h.8m-.3-4.6h.8m-2.5 .6h.8m1.1-2.1h.8m-1.7-6.1h.8m-1.8 12.3h.8m3.2-5.1h.8m-4.5 4.4h.8m-1.2 1.5h.8m2.8-9.9h.8m-3.6-.6h.8m.2 3.3h.8m-4.4-2.6h.8m2.7-1.9h.8m.9 8.0h.8m-3.4 3.9h.8m-2.3-2.9h.8m-1.7-4.1h.8m3.2-.9h.8m-2.3 4.8h.8m2.5 2.7h.8m-3.0-6.4h.8m-4.7 8.1h.8m5.9-15.8h.8m-2.8 8.6h.8m-1.1 1.5h.8m-2.6-1.3h.8m-.5 4.8h.8m-1.3-7.0h.8m1.1 4.8h.8m-1.2-1.5h.8m1.3 3.4h.8m-3.4-5.4h.8m.1-6.8h.8m-3.2 4.7h.8m.6 1.3h.8m3.8 4.6h.8m-5.8-4.3h.8m1.7 4.7h.8m-1.4 1.6h.8m-3.4-7.6h.8m-1.5 3.1h.8m2.7-4.7h.8m-3.9-1.2h.8m4.3 8.7h.8m-4.4-8.2h.8m-3.3 2.3h.8m1.3-2.5h.8m-1.3 10.2h.8m-.3-4.6h.8m-5.1-1.5h.8m3.1-1.7h.8m-3.3 2.5h.8m-.1-1.9h.8m-2.0 1.9h.8m4.3-3.1h.8m-2.0-2.8h.8m-.3 8.4h.8m-2.8 1.4h.8m-1.8-3.4h.8m4.4-.3h.8m-6.5 4.8h.8m2.6-5.8h.8m-5.6-6.6h.8m-.2 13.8h.8m2.9-9.6h.8m.9 9.5h.8m-4.8-4.0h.8m-2.4-.4h.8m6.2-7.3h.8m-4.3 3.2h.8m-1.1 3.0h.8m-.0 3.3h.8m-.3 .6h.8m.2 .2h.8m-4.2-2.8h.8m-.2-5.1h.8m3.9 4.6h.8m-4.7-9.8h.8m-1.4 11.8h.8m-.7-5.4h.8m2.6 1.0h.8m-4.4 .9h.8m-.6 4.7h.8m.8-4.6h.8m-2.7-.6h.8m3.3-.3h.8m-2.9-5.2h.8m-1.5 9.3h.8m1.1-1.5h.8m-2.2 .0h.8m-1.6-4.7h.8m-.0 2.9h.8m-.7 3.6h.8m-1.8-5.0h.8m-.5-3.3h.8m-.9 1.5h.8m-.4 4.1h.8m-2.1-5.4h.8m-.3 2.1h.8m-1.2 5.6h.8m1.4-8.1h.8m-.8 10.9h.8m-.4-4.4h.8m-3.2 6.0h.8m-1.3-13.4h.8m.0 7.4h.8m-3.1-6.2h.8m5.3 5.5h.8m-3.2-2.9h.8m-5.4 1.7h.8m4.9-2.0h.8m-7.1 2.0h.8m2.2 .8h.8m-2.3-1.3h.8m.2 4.9h.8m.6-.0h.8m-1.2-12.3h.8m-4.6 10.9h.8m4.9 1.4h.8m-2.7-10.9h.8m-1.6 9.0h.8m3.0-3.1h.8m-4.7-1.8h.8m2.4 6.7h.8m-6.5 1.4h.8m1.0-11.0h.8m-2.2 3.0h.8m-.1 .2h.8m2.0 4.5h.8m-2.1-8.2h.8m-.7 3.7h.8m-3.6 3.4h.8m-.1-7.7h.8m5.2 11.0h.8m-.9-3.4h.8m-4.5-.8h.8m-2.7 3.4h.8m2.5-4.3h.8m-5.1 .8h.8m6.2 6.4h.8m-2.3-7.4h.8m-2.3 3.7h.8m-.7 2.0h.8m-2.5-13.8h.8m-4.3 5.8h.8m1.3 6.5h.8m4.1-2.7h.8m-1.9 .3h.8m-1.5-2.3h.8m-2.0 6.8h.8m-.5-5.0h.8m2.1 4.2h.8m-4.0-3.0h.8m-2.0-.5h.8m1.9-.5h.8m-1.1 1.5h.8m-6.2-4.9h.8m4.4 1.4h.8m-2.9 1.0h.8m4.4 .0h.8m-5.3-1.0h.8m-1.9 4.0h.8m-.4 1.7h.8m3.0-1.4h.8m-.5-2.7h.8m-6.4 .1h.8m4.0-6.1h.8m-4.5 10.8h.8m2.5 1.0h.8m-.3-5.3h.8m-1.3 3.2h.8m-1.7-4.3h.8m-.1-.4h.8m3.4-1.9h.8m-8.7-2.2h.8m4.4 3.6h.8m-2.6 .8h.8m-.6-5.1h.8m-1.2 3.6h.8m1.2 4.9h.8m-5.5-6.5h.8m2.9 8.9h.8m-.4-5.5h.8m-.1-9.1h.8m-4.1 5.7h.8m-1.8 6.3h.8m1.8-1.1h.8m-1.6 1.4h.8m1.0-4.9h.8m-.5-1.5h.8m.9-1.5h.8m-4.9 .9h.8m-.1 9.9h.8m2.0-3.8h.8m-4.8 2.1h.8m-5.4-6.9h.8m6.9 3.0h.8m2.3-2.6h.8m-8.5 1.9h.8m3.1 7.9h.8m-5.5-6.4h.8m5.3-3.4h.8m-4.3-2.2h.8m1.7 8.4h.8m-1.2-2.4h.8m.0-1.5h.8m-1.4 3.9h.8m.4-1.3h.8m-3.3 .8h.8m-4.1-10.2h.8m5.6 7.8h.8m-6.2-3.0h.8m1.0 2.7h.8m-2.0 3.8h.8m-1.5 2.7h.8m2.8-13.8h.8m-4.7 7.2h.8m2.2-2.0h.8" fill="none" stroke="#000" stroke-width="0.8"/></g>
<rect x="79.5" y="350.6" width="78.8" height="73.2" fill="none" stroke="#111" stroke-width="1.1"/>
<line x1="75.20" y1="423.80" x2="79.50" y2="423.80" stroke="#222" stroke-width="0.9" />
<line x1="77.30" y1="418.29" x2="79.50" y2="418.29" stroke="#333" stroke-width="0.7" />
<line x1="77.30" y1="415.07" x2="79.50" y2="415.07" stroke="#333" stroke-width="0.7" />
<line x1="77.30" y1="412.78" x2="79.50" y2="412.78" stroke="#333" stroke-width="0.7" />
<line x1="77.30" y1="411.01" x2="79.50" y2="411.01" stroke="#333" stroke-width="0.7" />
<line x1="77.30" y1="409.56" x2="79.50" y2="409.56" stroke="#333" stroke-width="0.7" />
<line x1="77.30" y1="408.33" x2="79.50" y2="408.33" stroke="#333" stroke-width="0.7" />
<line x1="77.30" y1="407.27" x2="79.50" y2="407.27" stroke="#333" stroke-width="0.7" />
<line x1="77.30" y1="406.34" x2="79.50" y2="406.34" stroke="#333" stroke-width="0.7" />
<line x1="75.20" y1="405.50" x2="79.50" y2="405.50" stroke="#222" stroke-width="0.9" />
<line x1="77.30" y1="399.99" x2="79.50" y2="399.99" stroke="#333" stroke-width="0.7" />
<line x1="77.30" y1="396.77" x2="79.50" y2="396.77" stroke="#333" stroke-width="0.7" />
<line x1="77.30" y1="394.48" x2="79.50" y2="394.48" stroke="#333" stroke-width="0.7" />
<line x1="77.30" y1="392.71" x2="79.50" y2="392.71" stroke="#333" stroke-width="0.7" />
<line x1="77.30" y1="391.26" x2="79.50" y2="391.26" stroke="#333" stroke-width="0.7" />
<line x1="77.30" y1="390.03" x2="79.50" y2="390.03" stroke="#333" stroke-width="0.7" />
<line x1="77.30" y1="388.97" x2="79.50" y2="388.97" stroke="#333" stroke-width="0.7" />
<line x1="77.30" y1="388.04" x2="79.50" y2="388.04" stroke="#333" stroke-width="0.7" />
<line x1="75.20" y1="387.20" x2="79.50" y2="387.20" stroke="#222" stroke-width="0.9" />
<line x1="77.30" y1="381.69" x2="79.50" y2="381.69" stroke="#333" stroke-width="0.7" />
<line x1="77.30" y1="378.47" x2="79.50" y2="378.47" stroke="#333" stroke-width="0.7" />
<line x1="77.30" y1="376.18" x2="79.50" y2="376.18" stroke="#333" stroke-width="0.7" />
<line x1="77.30" y1="374.41" x2="79.50" y2="374.41" stroke="#333" stroke-width="0.7" />
<line x1="77.30" y1="372.96" x2="79.50" y2="372.96" stroke="#333" stroke-width="0.7" />
<line x1="77.30" y1="371.73" x2="79.50" y2="371.73" stroke="#333" stroke-width="0.7" />
<line x1="77.30" y1="370.67" x2="79.50" y2="370.67" stroke="#333" stroke-width="0.7" />
<line x1="77.30" y1="369.74" x2="79.50" y2="369.74" stroke="#333" stroke-width="0.7" />
<line x1="75.20" y1="368.90" x2="79.50" y2="368.90" stroke="#222" stroke-width="0.9" />
<line x1="77.30" y1="363.39" x2="79.50" y2="363.39" stroke="#333" stroke-width="0.7" />
<line x1="77.30" y1="360.17" x2="79.50" y2="360.17" stroke="#333" stroke-width="0.7" />
<line x1="77.30" y1="357.88" x2="79.50" y2="357.88" stroke="#333" stroke-width="0.7" />
<line x1="77.30" y1="356.11" x2="79.50" y2="356.11" stroke="#333" stroke-width="0.7" />
<line x1="77.30" y1="354.66" x2="79.50" y2="354.66" stroke="#333" stroke-width="0.7" />
<line x1="77.30" y1="353.43" x2="79.50" y2="353.43" stroke="#333" stroke-width="0.7" />
<line x1="77.30" y1="352.37" x2="79.50" y2="352.37" stroke="#333" stroke-width="0.7" />
<line x1="77.30" y1="351.44" x2="79.50" y2="351.44" stroke="#333" stroke-width="0.7" />
<line x1="75.20" y1="350.60" x2="79.50" y2="350.60" stroke="#222" stroke-width="0.9" />
<line x1="79.50" y1="423.80" x2="79.50" y2="428.10" stroke="#222" stroke-width="0.9" />
<line x1="85.43" y1="423.80" x2="85.43" y2="426.00" stroke="#333" stroke-width="0.7" />
<line x1="88.90" y1="423.80" x2="88.90" y2="426.00" stroke="#333" stroke-width="0.7" />
<line x1="91.36" y1="423.80" x2="91.36" y2="426.00" stroke="#333" stroke-width="0.7" />
<line x1="93.27" y1="423.80" x2="93.27" y2="426.00" stroke="#333" stroke-width="0.7" />
<line x1="94.83" y1="423.80" x2="94.83" y2="426.00" stroke="#333" stroke-width="0.7" />
<line x1="96.15" y1="423.80" x2="96.15" y2="426.00" stroke="#333" stroke-width="0.7" />
<line x1="97.29" y1="423.80" x2="97.29" y2="426.00" stroke="#333" stroke-width="0.7" />
<line x1="98.30" y1="423.80" x2="98.30" y2="426.00" stroke="#333" stroke-width="0.7" />
<line x1="99.20" y1="423.80" x2="99.20" y2="428.10" stroke="#222" stroke-width="0.9" />
<line x1="105.13" y1="423.80" x2="105.13" y2="426.00" stroke="#333" stroke-width="0.7" />
<line x1="108.60" y1="423.80" x2="108.60" y2="426.00" stroke="#333" stroke-width="0.7" />
<line x1="111.06" y1="423.80" x2="111.06" y2="426.00" stroke="#333" stroke-width="0.7" />
<line x1="112.97" y1="423.80" x2="112.97" y2="426.00" stroke="#333" stroke-width="0.7" />
<line x1="114.53" y1="423.80" x2="114.53" y2="426.00" stroke="#333" stroke-width="0.7" />
<line x1="115.85" y1="423.80" x2="115.85" y2="426.00" stroke="#333" stroke-width="0.7" />
<line x1="116.99" y1="423.80" x2="116.99" y2="426.00" stroke="#333" stroke-width="0.7" />
<line x1="118.00" y1="423.80" x2="118.00" y2="426.00" stroke="#333" stroke-width="0.7" />
<line x1="118.90" y1="423.80" x2="118.90" y2="428.10" stroke="#222" stroke-width="0.9" />
<line x1="124.83" y1="423.80" x2="124.83" y2="426.00" stroke="#333" stroke-width="0.7" />
<line x1="128.30" y1="423.80" x2="128.30" y2="426.00" stroke="#333" stroke-width="0.7" />
<line x1="130.76" y1="423.80" x2="130.76" y2="426.00" stroke="#333" stroke-width="0.7" />
<line x1="132.67" y1="423.80" x2="132.67" y2="426.00" stroke="#333" stroke-width="0.7" />
<line x1="134.23" y1="423.80" x2="134.23" y2="426.00" stroke="#333" stroke-width="0.7" />
<line x1="135.55" y1="423.80" x2="135.55" y2="426.00" stroke="#333" stroke-width="0.7" />
<line x1="136.69" y1="423.80" x2="136.69" y2="426.00" stroke="#333" stroke-width="0.7" />
<line x1="137.70" y1="423.80" x2="137.70" y2="426.00" stroke="#333" stroke-width="0.7" />
<line x1="138.60" y1="423.80" x2="138.60" y2="428.10" stroke="#222" stroke-width="0.9" />
<line x1="144.53" y1="423.80" x2="144.53" y2="426.00" stroke="#333" stroke-width="0.7" />
<line x1="148.00" y1="423.80" x2="148.00" y2="426.00" stroke="#333" stroke-width="0.7" />
<line x1="150.46" y1="423.80" x2="150.46" y2="426.00" stroke="#333" stroke-width="0.7" />
<line x1="152.37" y1="423.80" x2="152.37" y2="426.00" stroke="#333" stroke-width="0.7" />
<line x1="153.93" y1="423.80" x2="153.93" y2="426.00" stroke="#333" stroke-width="0.7" />
<line x1="155.25" y1="423.80" x2="155.25" y2="426.00" stroke="#333" stroke-width="0.7" />
<line x1="156.39" y1="423.80" x2="156.39" y2="426.00" stroke="#333" stroke-width="0.7" />
<line x1="157.40" y1="423.80" x2="157.40" y2="426.00" stroke="#333" stroke-width="0.7" />
<line x1="158.30" y1="423.80" x2="158.30" y2="428.10" stroke="#222" stroke-width="0.9" />
<rect x="132.5" y="363.1" width="23.3" height="34.4" fill="none" stroke="#7878b4" stroke-width="0.95"/>
<text x="129.4" y="382.9" font-size="10.6" text-anchor="end" fill="#111" font-weight="normal"  stroke="#111" stroke-width="0.3">0.2</text>
<g filter="url(#bl)"><path d="M247.1 413.8h.7m-4.3-.5h.7m9.9-3.5h.7m-10.9 6.4h.7m6.6 1.9h.7m-6.9-5.5h.7m1.9-.7h.7m-.1 6.4h.7m-.2-5.4h.7m-3.0 8.9h.7m-3.9 1.1h.7m5.4-9.4h.7m-5.3 8.6h.7m5.4-4.5h.7m2.0-13.3h.7m-6.9 7.3h.7m-3.3 1.9h.7m3.3 2.2h.7m-2.8-9.1h.7m1.5 9.5h.7m4.2 1.6h.7m-7.3-10.3h.7m7.8 2.3h.7m-8.6 7.0h.7m.3 2.9h.7m-5.5-10.0h.7m3.1-2.7h.7m-3.2 12.9h.7m2.2-7.3h.7m-3.4 .7h.7m1.0-5.6h.7m1.9-1.0h.7m.9 4.6h.7m-11.9-6.0h.7m7.4 3.4h.7m4.1 11.1h.7m.2-2.4h.7m-3.1-7.4h.7m-.9 .8h.7m-5.0-4.6h.7m-.4 8.7h.7m-1.1-7.5h.7m2.4 10.0h.7m-3.8-.6h.7m2.7-8.8h.7m-3.9-4.3h.7m-3.9 11.3h.7m-.2-.2h.7m3.2-12.2h.7m-3.4 17.7h.7m.9-6.9h.7m-3.0-8.6h.7m.9 3.6h.7m.2-5.3h.7m3.4 18.1h.7m-7.5-6.9h.7m-1.2 2.7h.7m-.5-5.0h.7m6.1 3.3h.7m-5.9-10.2h.7m-4.7 13.5h.7m6.0-5.7h.7m1.7 .4h.7m-7.0-1.2h.7m1.3 .5h.7m7.6 3.0h.7m-7.8-4.1h.7m-3.7-3.7h.7m-4.5 2.7h.7m.4-6.9h.7m1.1-.9h.7m6.7 16.3h.7m-3.0-18.8h.7m-2.7 7.6h.7m-6.3 3.7h.7m8.6 3.5h.7m-9.1-5.5h.7m1.5 9.0h.7m1.4-10.6h.7m-3.3-4.9h.7m-.5 14.3h.7m-4.1-3.5h.7m5.1 3.1h.7m-4.0 .5h.7m-2.3-4.7h.7m3.8 .8h.7m-3.2 3.7h.7m10.0 3.2h.7m-11.3-10.4h.7m4.7 3.6h.7m-5.5 5.5h.7m3.4-1.1h.7m-2.9 1.3h.7m-1.6-12.0h.7m.8-1.4h.7m3.3 10.6h.7m-10.1-2.8h.7m7.4-2.6h.7m-2.1-1.1h.7m-2.3 2.5h.7m1.1-4.4h.7m-5.9 6.5h.7m1.3 .9h.7m-.7-9.2h.7m3.3 7.9h.7m-.7-3.0h.7m-4.2 8.0h.7m-5.0 2.4h.7m6.4-9.0h.7m-2.1 3.3h.7m-3.5-1.6h.7m-1.3-10.6h.7m3.0 9.8h.7m.7 2.3h.7m-.5 1.2h.7m-6.3 2.1h.7m11.3-8.9h.7m-13.4 6.3h.7m6.3 1.6h.7m1.3-12.0h.7m-4.4 9.3h.7m2.1-6.8h.7m-4.6 2.6h.7m-1.3 1.1h.7m-.7-8.1h.7m-.3 9.2h.7m-1.8-18.1h.7m-1.7 14.5h.7m-1.3 11.3h.7m5.1-9.0h.7m-6.8 3.3h.7m.5 5.1h.7m4.8-8.1h.7m-2.3-3.4h.7m-7.8 8.2h.7m9.7-5.8h.7m-7.7-7.5h.7m7.9 3.0h.7m-10.7 5.0h.7m6.3 1.2h.7m-4.7-.2h.7m2.1-.3h.7m-2.9-.2h.7m-4.8 7.1h.7m.6-13.4h.7m.1 6.8h.7m3.3-7.5h.7m-7.4 8.3h.7m4.6-6.4h.7m-5.6 6.4h.7m2.5-9.0h.7m-3.1 15.6h.7m-1.3-2.2h.7m-2.2 2.2h.7m9.4-10.6h.7m-8.0 6.3h.7m-2.5-.4h.7m7.2-1.4h.7m-3.6-2.1h.7m1.5-3.3h.7m1.2 4.0h.7m-6.9-8.1h.7m-1.1 9.4h.7m4.7-9.3h.7m-5.1 4.7h.7m-4.1 3.5h.7m.7 4.3h.7m-6.9-.7h.7m1.8-13.5h.7m7.1 8.1h.7m-2.0-3.2h.7m-4.5 1.2h.7m2.5-.5h.7m-1.9-.1h.7m1.4-1.4h.7m-8.1-7.5h.7m5.9 13.7h.7m2.5-4.2h.7m-7.5-3.8h.7m5.4 4.3h.7m.0 2.7h.7m-4.8-8.9h.7m-2.0 13.3h.7m-.5-.6h.7m-4.0 1.7h.7m13.5 .5h.7m-8.6-11.8h.7m-3.4 2.9h.7m1.6-6.8h.7m-4.1 14.1h.7m2.5-.2h.7m1.6-9.5h.7m-7.8 8.1h.7m3.7-1.9h.7m-3.4 4.7h.7m3.5 .6h.7m-3.4-2.3h.7m.2-8.2h.7m-.8-3.6h.7m-1.0 9.2h.7m2.1-6.2h.7m-7.2 1.6h.7m-3.1 .4h.7m14.4 4.0h.7m-11.5-4.1h.7m7.4-2.4h.7m-6.7 5.5h.7m-2.7-3.2h.7m-3.7-.6h.7m8.9 11.3h.7m-5.8-3.6h.7m1.7-3.0h.7m-2.6 5.5h.7m1.6-7.2h.7m-3.3 5.8h.7m-1.9-8.3h.7m.3 1.1h.7m4.2 4.3h.7m-5.0-4.4h.7m4.1 4.9h.7m1.4 2.4h.7m-8.1-7.3h.7m-.9 3.7h.7m2.8 1.5h.7m1.8-10.1h.7m-5.6 .5h.7" fill="none" stroke="#333" stroke-width="0.7"/>
<path d="M245.8 409.1h.8m-.3-1.2h.8m-1.3 6.5h.8m1.4-.9h.8m-4.0-9.5h.8m1.8 9.3h.8m-1.0-1.4h.8m-1.3 3.1h.8m1.9-1.5h.8m-2.0 .9h.8m-1.1-5.4h.8m-1.9 1.8h.8m-2.0-3.6h.8m2.1 5.3h.8m-1.5 .5h.8m1.6-6.9h.8m-3.1 1.3h.8m-1.9 3.7h.8m-3.8 1.8h.8m5.2-1.3h.8m-.5 3.8h.8m-3.1-1.8h.8m2.3-2.4h.8m-7.2-.9h.8m1.2-4.8h.8m.9 7.0h.8m-1.7-2.7h.8m2.2-1.9h.8m-5.0 2.7h.8m3.4 1.0h.8m-3.3-2.9h.8m2.1 3.7h.8m-6.7-.7h.8m-1.5 3.7h.8m3.8-7.3h.8m-4.2 1.6h.8m-1.2 2.7h.8m.3-7.3h.8m1.7 8.6h.8m-3.9-4.1h.8m5.3 .6h.8m-5.2 .8h.8m1.1-4.0h.8m-2.8-1.6h.8m-3.5 .8h.8m4.7 4.7h.8m-.5 2.7h.8m-2.6-2.7h.8m-.0 .6h.8m-3.9-1.7h.8m1.1 .6h.8m-2.0-.3h.8m1.3 .6h.8m.1 1.8h.8m-.8 .4h.8m-.0 1.2h.8m-2.2-5.9h.8m3.3 4.6h.8m-3.0-.8h.8m-4.0-5.2h.8m.3 2.2h.8m-3.3-5.0h.8m3.4 2.2h.8m-4.9 5.7h.8m1.7-4.3h.8m-1.3 3.3h.8m-.3 .8h.8m-.1-2.9h.8m-4.0 8.3h.8m-.1-9.8h.8m2.2 4.3h.8m-2.4 5.7h.8m-4.6-2.6h.8m3.0-3.6h.8m-.4-1.7h.8m-1.4-3.2h.8m-.5 9.6h.8m-5.2-1.1h.8m-1.2-6.3h.8m5.3 .3h.8m-4.1-2.8h.8m.8 3.8h.8m-2.5-3.9h.8m1.7 5.6h.8m1.1-.0h.8m.3 1.9h.8m-8.7 2.8h.8m2.9-8.9h.8m1.3 5.8h.8m-5.7-5.8h.8m3.8 1.3h.8m1.0 2.0h.8m-5.4-3.9h.8m1.2-1.5h.8m-4.2 1.8h.8m6.4 7.9h.8m-5.5-5.6h.8m1.8 4.5h.8m-3.1 3.3h.8m-.2-3.4h.8m-5.5-2.8h.8m3.4 5.5h.8m-1.6-9.8h.8m3.6 1.0h.8m-4.8-1.0h.8m1.2 4.1h.8m-2.9-1.4h.8m-1.5-.8h.8m-1.4 6.0h.8m2.2-8.5h.8m-3.7 6.0h.8m5.3-3.0h.8m-5.7 .7h.8m.3 .0h.8m1.4 3.2h.8m-1.5 1.9h.8m-3.4-6.0h.8m4.5-5.2h.8m-9.5 .2h.8m3.5 3.2h.8m-.0-3.3h.8m-2.2 5.5h.8m-1.8 4.8h.8m.1-2.2h.8m-1.2-.8h.8m-.7-.3h.8m-.5-2.4h.8m.5 1.3h.8m-3.9-2.1h.8m3.1 6.6h.8m-5.0-4.6h.8m3.3 3.7h.8m-1.5-6.7h.8m-1.0 6.4h.8m-1.0-3.4h.8m-3.3 1.6h.8m1.2-.8h.8m2.7 2.9h.8m-5.6-2.1h.8m.0-.6h.8m3.3 1.8h.8m-4.6-4.1h.8m-.6 3.1h.8m-1.0 2.3h.8m-1.0-6.9h.8m2.1-5.8h.8m-3.7 9.0h.8m2.2 3.2h.8m.3 1.2h.8m-3.7-3.9h.8m.4-.6h.8m-5.3-.5h.8m3.4 2.5h.8m-3.8 2.3h.8m.4-8.5h.8m.8 7.4h.8m-1.4-3.9h.8m-2.6 4.7h.8m.5-3.7h.8m-2.5-2.8h.8m-3.2 2.5h.8m5.4 2.3h.8m-3.8 2.9h.8m-1.3-7.7h.8m2.7 6.7h.8m-4.7-7.3h.8m-.8-3.7h.8m1.5 11.7h.8m-1.6-6.8h.8m.1 .6h.8m.3 .2h.8m.7-.2h.8m-4.6-1.1h.8m-2.9 4.3h.8m1.6-4.4h.8m-.1 1.6h.8m-2.7 1.4h.8m1.4 2.1h.8m.6-1.3h.8m-5.0-2.5h.8m1.0-1.9h.8m-1.4 2.6h.8m-.4 1.7h.8m2.1 3.9h.8m-1.4-1.8h.8m-4.5 .7h.8m2.4-7.9h.8m1.9 1.9h.8m-8.8 8.5h.8m2.5-8.4h.8m-1.0 5.8h.8m.0-4.6h.8m.6-2.0h.8m-4.4 1.8h.8m.0 3.7h.8m-.7-5.3h.8m-1.7-2.7h.8m1.5 6.0h.8m-.1-1.1h.8m-1.6-2.0h.8m-.9 3.4h.8m-2.9 1.7h.8m1.5-2.0h.8m-.9 6.0h.8m-1.3-8.4h.8m-1.7 4.3h.8m-.3-4.3h.8m-.9 5.3h.8m.8 .1h.8m-2.2-6.6h.8m1.6 4.2h.8m-4.0-1.4h.8m-.8 3.5h.8m.1-1.2h.8m.1-2.4h.8m-.6-.0h.8m-3.8 .0h.8m-.2 3.5h.8m1.9-4.6h.8m-.4 2.5h.8m-.8-3.6h.8m-2.6 .1h.8m-.9 7.2h.8m-4.5-6.3h.8m4.8 4.2h.8m-4.6-7.9h.8m-1.3 7.4h.8m4.8 .7h.8m-4.0 1.9h.8m-.2-2.4h.8m-.3 2.9h.8m-3.4-10.9h.8m.8 6.8h.8m-.2-2.9h.8m-2.0-1.1h.8m-.2 3.6h.8m.9 4.4h.8m-5.6-2.6h.8m2.9-5.7h.8m-.9 3.5h.8m-2.4 2.5h.8m4.6-1.1h.8m-2.7 1.5h.8m-2.5 .0h.8m-2.5-2.1h.8m2.6 2.8h.8m-3.5-4.4h.8m.7 .4h.8m-1.0 2.7h.8m-2.4 .5h.8m.7-3.7h.8m-4.0-.5h.8m2.3 4.2h.8m-4.5-.0h.8m2.3-6.1h.8m1.2 4.3h.8m-2.3-3.9h.8m-2.7 6.1h.8m3.6-2.4h.8m-4.2-1.9h.8m-2.9 4.7h.8m2.3 .2h.8m-2.1-.3h.8m-1.0-1.4h.8m2.4-4.5h.8m-1.3 2.2h.8m-4.1 1.2h.8m1.7-3.2h.8m-2.4 .7h.8m-1.5 1.2h.8m2.0-1.4h.8m.0 .2h.8m-3.6 4.9h.8m2.2-5.7h.8m-2.6-1.2h.8m-2.2 2.6h.8m.8-2.9h.8m-2.8 2.1h.8m.1-1.8h.8m-1.4 12.4h.8m-.2-13.2h.8m.4 .4h.8m-4.3 9.6h.8m3.7-8.4h.8m-4.5 4.6h.8m5.1-.7h.8m-4.3-4.8h.8m-4.5 5.4h.8m4.2-1.6h.8m-2.0 4.0h.8m-2.5-.6h.8m1.4-5.6h.8m-1.7 2.4h.8m-.5-3.3h.8m-1.8 3.4h.8m-.4-.3h.8m-.5-.7h.8m-1.6 3.8h.8m-1.8-3.9h.8m-1.7-2.3h.8m2.2 2.8h.8m-1.6 1.6h.8m-.8 .7h.8m2.7-1.6h.8m-4.0 4.5h.8m-.7-10.0h.8m1.3 5.3h.8m-2.4-3.8h.8m-3.7 2.0h.8m1.5-1.8h.8m-2.1 6.5h.8m-1.1-2.5h.8m-2.2-5.2h.8m1.5 4.3h.8m-2.7 3.6h.8m3.3-1.0h.8m-4.3-5.5h.8m.6 3.7h.8m-1.3-2.2h.8m-2.4-.2h.8m1.0 .4h.8m2.5 .0h.8m-3.1-.2h.8m-2.2-1.3h.8m-1.6-1.4h.8m-2.3 8.8h.8m.6-3.0h.8m.4-3.2h.8m.8-.2h.8m-1.2 .6h.8m.9 3.7h.8m-2.4 .7h.8m.2 1.2h.8m-3.5-8.8h.8m.7 5.1h.8m-2.1-1.1h.8m-1.2-3.1h.8m3.1 .7h.8m-6.3-1.4h.8m.4 4.4h.8m3.8 1.1h.8m-5.8-4.6h.8m-.9 3.5h.8m2.6-1.8h.8m1.8 6.8h.8m-5.5-11.4h.8m2.0 5.7h.8m-1.0 3.3h.8m-4.3-2.1h.8m1.0-2.7h.8m.5 1.6h.8m-1.8 6.2h.8m.1-.9h.8m-1.7-1.6h.8m-2.4-2.4h.8m1.4-7.3h.8m-.8 5.7h.8m.4 1.1h.8m-3.7-3.8h.8m5.0 .6h.8m-6.8 1.1h.8m-.3 2.7h.8m-2.3 2.8h.8m.9-1.7h.8m-4.8-2.6h.8m2.6-.2h.8m-1.1 2.1h.8m.5-4.1h.8m-4.3 5.7h.8m2.4 .5h.8m.8-3.8h.8m-5.1 .0h.8m1.3 4.4h.8m-2.7-.6h.8m-1.3-4.4h.8m-.6-.4h.8m1.5 2.8h.8m-.9 1.0h.8m3.2-2.3h.8m-6.3-.0h.8" fill="none" stroke="#000" stroke-width="0.8"/></g>
<rect x="183.9" y="350.6" width="78.6" height="73.2" fill="none" stroke="#111" stroke-width="1.1"/>
<line x1="179.60" y1="423.80" x2="183.90" y2="423.80" stroke="#222" stroke-width="0.9" />
<line x1="181.70" y1="418.29" x2="183.90" y2="418.29" stroke="#333" stroke-width="0.7" />
<line x1="181.70" y1="415.07" x2="183.90" y2="415.07" stroke="#333" stroke-width="0.7" />
<line x1="181.70" y1="412.78" x2="183.90" y2="412.78" stroke="#333" stroke-width="0.7" />
<line x1="181.70" y1="411.01" x2="183.90" y2="411.01" stroke="#333" stroke-width="0.7" />
<line x1="181.70" y1="409.56" x2="183.90" y2="409.56" stroke="#333" stroke-width="0.7" />
<line x1="181.70" y1="408.33" x2="183.90" y2="408.33" stroke="#333" stroke-width="0.7" />
<line x1="181.70" y1="407.27" x2="183.90" y2="407.27" stroke="#333" stroke-width="0.7" />
<line x1="181.70" y1="406.34" x2="183.90" y2="406.34" stroke="#333" stroke-width="0.7" />
<line x1="179.60" y1="405.50" x2="183.90" y2="405.50" stroke="#222" stroke-width="0.9" />
<line x1="181.70" y1="399.99" x2="183.90" y2="399.99" stroke="#333" stroke-width="0.7" />
<line x1="181.70" y1="396.77" x2="183.90" y2="396.77" stroke="#333" stroke-width="0.7" />
<line x1="181.70" y1="394.48" x2="183.90" y2="394.48" stroke="#333" stroke-width="0.7" />
<line x1="181.70" y1="392.71" x2="183.90" y2="392.71" stroke="#333" stroke-width="0.7" />
<line x1="181.70" y1="391.26" x2="183.90" y2="391.26" stroke="#333" stroke-width="0.7" />
<line x1="181.70" y1="390.03" x2="183.90" y2="390.03" stroke="#333" stroke-width="0.7" />
<line x1="181.70" y1="388.97" x2="183.90" y2="388.97" stroke="#333" stroke-width="0.7" />
<line x1="181.70" y1="388.04" x2="183.90" y2="388.04" stroke="#333" stroke-width="0.7" />
<line x1="179.60" y1="387.20" x2="183.90" y2="387.20" stroke="#222" stroke-width="0.9" />
<line x1="181.70" y1="381.69" x2="183.90" y2="381.69" stroke="#333" stroke-width="0.7" />
<line x1="181.70" y1="378.47" x2="183.90" y2="378.47" stroke="#333" stroke-width="0.7" />
<line x1="181.70" y1="376.18" x2="183.90" y2="376.18" stroke="#333" stroke-width="0.7" />
<line x1="181.70" y1="374.41" x2="183.90" y2="374.41" stroke="#333" stroke-width="0.7" />
<line x1="181.70" y1="372.96" x2="183.90" y2="372.96" stroke="#333" stroke-width="0.7" />
<line x1="181.70" y1="371.73" x2="183.90" y2="371.73" stroke="#333" stroke-width="0.7" />
<line x1="181.70" y1="370.67" x2="183.90" y2="370.67" stroke="#333" stroke-width="0.7" />
<line x1="181.70" y1="369.74" x2="183.90" y2="369.74" stroke="#333" stroke-width="0.7" />
<line x1="179.60" y1="368.90" x2="183.90" y2="368.90" stroke="#222" stroke-width="0.9" />
<line x1="181.70" y1="363.39" x2="183.90" y2="363.39" stroke="#333" stroke-width="0.7" />
<line x1="181.70" y1="360.17" x2="183.90" y2="360.17" stroke="#333" stroke-width="0.7" />
<line x1="181.70" y1="357.88" x2="183.90" y2="357.88" stroke="#333" stroke-width="0.7" />
<line x1="181.70" y1="356.11" x2="183.90" y2="356.11" stroke="#333" stroke-width="0.7" />
<line x1="181.70" y1="354.66" x2="183.90" y2="354.66" stroke="#333" stroke-width="0.7" />
<line x1="181.70" y1="353.43" x2="183.90" y2="353.43" stroke="#333" stroke-width="0.7" />
<line x1="181.70" y1="352.37" x2="183.90" y2="352.37" stroke="#333" stroke-width="0.7" />
<line x1="181.70" y1="351.44" x2="183.90" y2="351.44" stroke="#333" stroke-width="0.7" />
<line x1="179.60" y1="350.60" x2="183.90" y2="350.60" stroke="#222" stroke-width="0.9" />
<line x1="183.90" y1="423.80" x2="183.90" y2="428.10" stroke="#222" stroke-width="0.9" />
<line x1="189.82" y1="423.80" x2="189.82" y2="426.00" stroke="#333" stroke-width="0.7" />
<line x1="193.28" y1="423.80" x2="193.28" y2="426.00" stroke="#333" stroke-width="0.7" />
<line x1="195.73" y1="423.80" x2="195.73" y2="426.00" stroke="#333" stroke-width="0.7" />
<line x1="197.63" y1="423.80" x2="197.63" y2="426.00" stroke="#333" stroke-width="0.7" />
<line x1="199.19" y1="423.80" x2="199.19" y2="426.00" stroke="#333" stroke-width="0.7" />
<line x1="200.51" y1="423.80" x2="200.51" y2="426.00" stroke="#333" stroke-width="0.7" />
<line x1="201.65" y1="423.80" x2="201.65" y2="426.00" stroke="#333" stroke-width="0.7" />
<line x1="202.65" y1="423.80" x2="202.65" y2="426.00" stroke="#333" stroke-width="0.7" />
<line x1="203.55" y1="423.80" x2="203.55" y2="428.10" stroke="#222" stroke-width="0.9" />
<line x1="209.47" y1="423.80" x2="209.47" y2="426.00" stroke="#333" stroke-width="0.7" />
<line x1="212.93" y1="423.80" x2="212.93" y2="426.00" stroke="#333" stroke-width="0.7" />
<line x1="215.38" y1="423.80" x2="215.38" y2="426.00" stroke="#333" stroke-width="0.7" />
<line x1="217.28" y1="423.80" x2="217.28" y2="426.00" stroke="#333" stroke-width="0.7" />
<line x1="218.84" y1="423.80" x2="218.84" y2="426.00" stroke="#333" stroke-width="0.7" />
<line x1="220.16" y1="423.80" x2="220.16" y2="426.00" stroke="#333" stroke-width="0.7" />
<line x1="221.30" y1="423.80" x2="221.30" y2="426.00" stroke="#333" stroke-width="0.7" />
<line x1="222.30" y1="423.80" x2="222.30" y2="426.00" stroke="#333" stroke-width="0.7" />
<line x1="223.20" y1="423.80" x2="223.20" y2="428.10" stroke="#222" stroke-width="0.9" />
<line x1="229.12" y1="423.80" x2="229.12" y2="426.00" stroke="#333" stroke-width="0.7" />
<line x1="232.58" y1="423.80" x2="232.58" y2="426.00" stroke="#333" stroke-width="0.7" />
<line x1="235.03" y1="423.80" x2="235.03" y2="426.00" stroke="#333" stroke-width="0.7" />
<line x1="236.93" y1="423.80" x2="236.93" y2="426.00" stroke="#333" stroke-width="0.7" />
<line x1="238.49" y1="423.80" x2="238.49" y2="426.00" stroke="#333" stroke-width="0.7" />
<line x1="239.81" y1="423.80" x2="239.81" y2="426.00" stroke="#333" stroke-width="0.7" />
<line x1="240.95" y1="423.80" x2="240.95" y2="426.00" stroke="#333" stroke-width="0.7" />
<line x1="241.95" y1="423.80" x2="241.95" y2="426.00" stroke="#333" stroke-width="0.7" />
<line x1="242.85" y1="423.80" x2="242.85" y2="428.10" stroke="#222" stroke-width="0.9" />
<line x1="248.77" y1="423.80" x2="248.77" y2="426.00" stroke="#333" stroke-width="0.7" />
<line x1="252.23" y1="423.80" x2="252.23" y2="426.00" stroke="#333" stroke-width="0.7" />
<line x1="254.68" y1="423.80" x2="254.68" y2="426.00" stroke="#333" stroke-width="0.7" />
<line x1="256.58" y1="423.80" x2="256.58" y2="426.00" stroke="#333" stroke-width="0.7" />
<line x1="258.14" y1="423.80" x2="258.14" y2="426.00" stroke="#333" stroke-width="0.7" />
<line x1="259.46" y1="423.80" x2="259.46" y2="426.00" stroke="#333" stroke-width="0.7" />
<line x1="260.60" y1="423.80" x2="260.60" y2="426.00" stroke="#333" stroke-width="0.7" />
<line x1="261.60" y1="423.80" x2="261.60" y2="426.00" stroke="#333" stroke-width="0.7" />
<line x1="262.50" y1="423.80" x2="262.50" y2="428.10" stroke="#222" stroke-width="0.9" />
<rect x="236.4" y="363.1" width="23.1" height="34.4" fill="none" stroke="#7878b4" stroke-width="0.95"/>
<text x="233.0" y="382.9" font-size="10.6" text-anchor="end" fill="#111" font-weight="normal"  stroke="#111" stroke-width="0.3">0.0</text>
<path d="M356.0 394.8h.7m1.9-23.9h.7m-4.5 24.3h.7m-2.1-10.9h.7m.3 15.5h.7m-3.8-23.3h.7" fill="none" stroke="#aaa" stroke-width="0.7"/>
<g filter="url(#bl)"><path d="M349.2 410.1h.7m3.3 7.7h.7m2.0-3.2h.7m-15.7-3.3h.7m10.0-3.4h.7m-4.8 8.7h.7m1.7-10.4h.7m-3.0-10.0h.7m1.2 9.5h.7m-.9 .2h.7m-3.5 3.4h.7m11.3-3.4h.7m-13.5 3.3h.7m6.5 6.8h.7m-1.9-5.7h.7m-2.5-2.3h.7m-1.7-.2h.7m-4.8-1.0h.7m10.2 7.1h.7m-9.3-2.6h.7m.3 6.8h.7m.7-9.4h.7m1.6 4.9h.7m-5.1-5.6h.7m2.0-4.4h.7m-4.1 13.5h.7m5.0 .5h.7m-4.9-8.7h.7m-.1 .6h.7m4.3 1.3h.7m-.5-2.5h.7m-3.8 11.9h.7m-4.3-11.6h.7m-.2-4.9h.7m.3 4.9h.7m7.4 .8h.7m-14.7 7.2h.7m9.2-5.0h.7m-2.8 3.8h.7m-3.4-3.4h.7m1.6 8.2h.7m3.4-7.6h.7m-9.6 3.6h.7m3.4 1.4h.7m-.4-5.0h.7m1.2-4.6h.7m-5.6 8.5h.7m4.3-.6h.7m1.5-11.0h.7m-2.0-3.7h.7m-3.6 12.2h.7m2.4 3.8h.7m-7.0-6.9h.7m1.8-2.1h.7m-2.8 .2h.7m5.6 10.3h.7m-2.0 1.6h.7m-2.8-14.1h.7m-3.1 6.6h.7m4.7 5.2h.7m-6.9-1.3h.7m.5-1.8h.7m4.0 4.5h.7m-5.3-6.3h.7m2.4-3.4h.7m-1.8 5.2h.7m-6.3-6.3h.7m12.0 5.6h.7m-9.9-11.7h.7m-2.0 12.0h.7m4.6-.4h.7m-1.0-5.3h.7m2.5-2.7h.7m-4.2 4.4h.7m-7.8 6.0h.7m3.9-1.0h.7m4.3-2.8h.7m-6.9-1.9h.7m1.2 8.5h.7m2.3 .7h.7m-1.0-12.0h.7m-.2 8.8h.7m-4.1-2.6h.7m-1.3-8.8h.7m.0 10.3h.7m-1.6-15.3h.7m-2.1 17.0h.7m2.6 .2h.7m-3.8-7.9h.7m-1.5-1.8h.7m4.2 4.7h.7m-3.9 .8h.7m-3.3-3.5h.7m-1.3-5.7h.7m-.3 2.0h.7m8.7 12.6h.7m-1.7-10.0h.7m-2.7-2.8h.7m-4.4 7.0h.7m-4.1-.2h.7m6.4-11.6h.7m-10.5 9.2h.7m6.8 2.2h.7m-3.9 2.2h.7m3.3-6.7h.7m4.2 5.1h.7m-3.6 8.2h.7m-4.7-10.6h.7m-4.7-.0h.7m6.7 2.2h.7m-6.6-5.4h.7m-2.6-2.7h.7m5.6 8.6h.7m-4.0-2.6h.7m-.3 4.3h.7m3.9-6.0h.7m-4.2-3.4h.7m.7 10.7h.7m1.2 3.2h.7m-3.6-12.2h.7m3.7 9.4h.7m-6.2 .9h.7m1.4-5.8h.7m5.2 2.9h.7m-5.6-4.4h.7m-1.1 7.0h.7m.1-9.3h.7m-.7 3.3h.7m-1.2-.4h.7m-8.7-7.3h.7m5.1-3.0h.7m-4.3 21.7h.7m6.4-12.8h.7m-1.9-9.1h.7m-1.0 16.6h.7m-.9-11.8h.7m1.8 4.0h.7m-5.7 3.7h.7m.2 9.5h.7m-.2 .6h.7m1.2-17.4h.7m-2.2 6.7h.7m3.9 6.3h.7m2.9-10.0h.7m-11.8 5.2h.7m7.4-7.0h.7m-7.0 1.4h.7m2.1 5.9h.7m-2.5 1.3h.7m-3.1-5.3h.7m3.3 12.3h.7m-2.3-10.1h.7m3.6 .1h.7m-.7 .8h.7m-1.2-.3h.7m-7.4-5.3h.7m3.6 14.1h.7m3.9-11.3h.7m1.4-4.1h.7m-11.5 10.6h.7m-2.9-.1h.7m5.4-1.5h.7m-5.8-1.3h.7m6.2-2.2h.7m-.4 .4h.7m-2.9-1.8h.7m-6.2 .8h.7m5.3-3.1h.7m-8.6-4.1h.7m9.9 6.9h.7m-7.4 7.6h.7m1.2-14.2h.7m-1.6 3.2h.7m.1-.2h.7m.1 7.1h.7m-2.8-3.4h.7m.6 5.3h.7m-2.5-.4h.7m5.7-4.9h.7m-7.9-.6h.7m-3.3-1.2h.7m1.2 1.9h.7m2.0 3.6h.7m.9-.5h.7m-1.2-.7h.7m-4.2 2.0h.7m7.2 2.3h.7m-9.3-3.6h.7m-1.6 1.8h.7m3.9-6.3h.7m-2.5 1.2h.7m1.7-3.8h.7m-.5 6.3h.7m.8-1.6h.7m.9 1.9h.7m-8.5 1.5h.7m5.7-17.0h.7m-3.1 15.8h.7m-.0-1.5h.7m-1.3 6.7h.7m1.0-8.7h.7m-2.7 12.3h.7m-2.8-13.6h.7m3.2 3.5h.7m-.8 6.3h.7m2.0-4.9h.7m-4.3-2.5h.7m-1.6 5.5h.7m-4.1-10.6h.7m1.9 .4h.7m-1.6 11.2h.7m-5.6-3.2h.7m2.3-4.3h.7m1.7-3.9h.7m-3.7 5.5h.7m-5.5-11.4h.7m7.7 16.7h.7m6.6-7.2h.7m-9.3 .0h.7m3.4 6.3h.7m-5.3-2.4h.7m2.3 3.5h.7m-1.9-7.0h.7m-2.1-5.8h.7m3.0 10.6h.7m2.1-2.3h.7m-5.9-6.2h.7m-3.0 1.0h.7m4.2 4.2h.7m-9.3-1.0h.7m5.8-4.9h.7m.2 8.2h.7m-4.0-9.8h.7m1.6 8.4h.7m-.5 6.7h.7m.6-13.2h.7m1.4 1.9h.7m-1.0 3.9h.7m1.1-5.7h.7m-2.4 7.4h.7m-6.0 1.4h.7m9.6-1.8h.7m-10.6-2.6h.7m6.0 2.1h.7m-.1-4.7h.7m-1.3-4.8h.7m-5.5 6.7h.7m-1.8 7.9h.7m-1.1-4.5h.7m7.3 2.5h.7m-8.1-8.1h.7m-5.9 5.8h.7m8.7 3.8h.7m-1.1-17.8h.7m-6.1 16.2h.7m.9 .2h.7m9.0-8.3h.7m-1.8 3.5h.7m-12.7 .9h.7m7.1-3.5h.7m1.5-1.5h.7m-6.5 9.3h.7m-.8-7.7h.7m-.1 6.3h.7m5.0 3.7h.7m-.2-7.2h.7m-12.3-.1h.7m3.4-5.0h.7m-1.0 4.8h.7m1.2 5.1h.7m-3.9 1.2h.7m2.4-2.1h.7m3.2-10.3h.7m.5 2.7h.7" fill="none" stroke="#333" stroke-width="0.7"/>
<path d="M350.9 411.7h.8m.8 3.9h.8m-.5-9.1h.8m-3.6 10.6h.8m3.6-9.0h.8m-.4-4.7h.8m1.8 13.3h.8m-8.3-.3h.8m2.3-4.3h.8m-1.4 1.0h.8m-.3-3.0h.8m-1.7 6.4h.8m1.3-8.3h.8m-2.7 12.8h.8m1.5 .4h.8m-4.7-11.8h.8m-2.4-4.0h.8m2.6 3.9h.8m-2.2 1.6h.8m.9 6.7h.8m.6-11.4h.8m1.0 6.3h.8m-5.5 1.3h.8m.3-6.0h.8m2.9 3.6h.8m-4.9 4.9h.8m3.5-.2h.8m-5.7-.2h.8m3.0-.3h.8m-1.7-3.8h.8m-2.2-5.3h.8m-2.0 2.4h.8m.6 11.6h.8m-5.1-12.4h.8m1.7 5.4h.8m3.2-3.0h.8m-4.5 8.8h.8m1.4-3.0h.8m.1-5.6h.8m-2.0 .4h.8m-2.6 3.5h.8m1.4-6.2h.8m-3.1 8.3h.8m1.0 .2h.8m-1.7-6.5h.8m1.3 6.2h.8m-7.7 1.2h.8m3.2-.9h.8m3.6-4.2h.8m-5.6 2.4h.8m1.2 1.4h.8m-3.6-1.4h.8m3.6 2.0h.8m-1.3 2.2h.8m-3.6 .1h.8m1.2-9.8h.8m-1.8 5.6h.8m.4 4.8h.8m-1.1-8.2h.8m3.0 .8h.8m-6.5 5.5h.8m-.0-7.6h.8m-2.0 8.7h.8m-.8-4.8h.8m.4-1.3h.8m-1.5 1.5h.8m1.9 4.0h.8m-2.6-9.8h.8m-2.9 5.2h.8m-2.7 5.8h.8m4.0-5.3h.8m-3.5-3.4h.8m.4 5.8h.8m-.2-.2h.8m1.0-11.2h.8m-2.2 14.1h.8m-1.3-5.0h.8m-.1-6.0h.8m3.6 4.8h.8m-3.7-1.4h.8m.7 7.1h.8m-1.2-.9h.8m-1.7 1.9h.8m-1.4-5.5h.8m-.0-4.5h.8m-7.2 7.5h.8m4.3-6.7h.8m-1.6-1.1h.8m-1.9 5.0h.8m1.0 2.8h.8m-1.2-.9h.8m.7-5.9h.8m-5.3 .1h.8m1.9 .7h.8m3.9-.7h.8m-4.1-.4h.8m-.4-2.2h.8m-.3 6.4h.8m-3.4-6.1h.8m3.1 2.7h.8m-1.2-8.1h.8m-5.8 18.6h.8m4.9-7.9h.8m-2.3 2.6h.8m-3.4-2.1h.8m-2.3-6.5h.8m1.6 9.1h.8m-.7-8.6h.8m.5 5.8h.8m-1.0-1.7h.8m-2.7 5.9h.8m2.3-9.9h.8m-5.5 9.6h.8m2.0-4.0h.8m-3.4 4.2h.8m1.4-3.5h.8m-.4-3.3h.8m-.8 2.9h.8m-.2 1.1h.8m-4.6-4.8h.8m1.1 8.2h.8m-1.5-.1h.8m2.5-1.1h.8m1.4-3.9h.8m-4.5 5.4h.8m-.6-1.0h.8m-1.8 1.9h.8m.1-14.6h.8m.6 7.6h.8m-4.6-.5h.8m.3 6.3h.8m.4-5.3h.8m-1.5-3.6h.8m-2.0 1.9h.8m-.0-3.1h.8m-1.1 9.5h.8m.8-4.4h.8m-1.0-1.1h.8m-3.7 4.9h.8m5.7-1.6h.8m-7.4 .1h.8m.9-3.5h.8m-3.3 .9h.8m3.1-6.7h.8m-2.0 4.9h.8m-2.3 4.9h.8m4.2-.9h.8m-2.0 1.5h.8m-2.9-.8h.8m1.8-4.4h.8m-3.6-4.2h.8m-4.1 2.5h.8m4.5 5.2h.8m-2.0 4.2h.8m-4.7 .3h.8m2.7-2.6h.8m1.7-7.0h.8m-5.1 5.3h.8m.7-4.3h.8m-.9-.6h.8m-.3 1.5h.8m2.2-2.9h.8m-2.9 4.9h.8m1.1-4.6h.8m-4.7 11.8h.8m-1.2-9.2h.8m-.3-2.6h.8m2.3 10.9h.8m-3.4-9.9h.8m-3.1 6.2h.8m.8-.5h.8m-4.4-4.2h.8m5.0 3.7h.8m-7.5-.5h.8m4.9-1.4h.8m-1.7-1.8h.8m.1 4.2h.8m-7.1-2.3h.8m7.0-.9h.8m-.2-3.1h.8m.5 8.3h.8m-1.7 2.7h.8m-5.8-7.4h.8m2.4 5.1h.8m-1.6-10.2h.8m1.4 4.9h.8m-2.3-.7h.8m-1.9-4.6h.8m.7 3.3h.8m-5.5 4.5h.8m2.5 2.4h.8m.8-9.5h.8m-2.7 5.3h.8m-.3-4.6h.8m-.8 8.9h.8m1.4 2.1h.8m-1.7-17.3h.8m-2.8 8.6h.8m-5.8 9.1h.8m6.5-6.7h.8m-1.9 2.1h.8m-1.9 3.9h.8m3.1-2.4h.8m-5.3-2.5h.8m2.1 2.0h.8m-4.0 1.0h.8m1.9-1.6h.8m-3.0-2.6h.8m-3.6-.0h.8m2.0-1.2h.8m-.5-.1h.8m-.1 1.8h.8m-2.1-1.0h.8m.2 2.7h.8m.2-3.7h.8m-3.2-5.6h.8m-1.6 8.9h.8m-.2 5.2h.8m.7-8.7h.8m-.8-.7h.8m-1.7 2.7h.8m-2.4 .3h.8m1.8-4.5h.8m1.3 5.5h.8m-.7-4.5h.8m-5.2-2.3h.8m-1.4-3.1h.8m5.2 6.2h.8m-3.4-.3h.8m-1.4 9.2h.8m-3.8-11.1h.8m2.8 .3h.8m.3 9.6h.8m-.4-2.4h.8m-2.8 1.1h.8m-2.0-9.5h.8m.2 4.1h.8m2.0-3.2h.8m-1.0 .9h.8m-5.4-4.0h.8m1.5 1.1h.8m-.3 6.5h.8m-2.0-8.6h.8m-1.0 10.3h.8m-3.2 1.1h.8m2.6-5.4h.8m-.4 5.2h.8m-1.2-6.2h.8m.7 .4h.8m-1.6 7.2h.8m1.0 2.7h.8m-1.3-6.3h.8m-3.1 .2h.8m.8-4.4h.8m.8-3.3h.8m-1.8 1.4h.8m-4.8 3.4h.8m.7-3.7h.8m.9 5.4h.8m.6-3.9h.8m-6.8 7.4h.8m2.2 1.3h.8m-4.8-9.7h.8m3.8 13.9h.8m-3.3-16.8h.8m.7 14.4h.8m3.1-12.1h.8m-5.0-2.1h.8m-1.2 3.8h.8m1.6 9.1h.8m2.9-6.5h.8m-3.8 2.5h.8m-2.1 7.5h.8m.3-1.6h.8m-1.6-3.0h.8m-.4-4.2h.8m-3.1-1.3h.8m.6 .1h.8m-1.5-1.4h.8m1.5 2.0h.8m-2.7 .1h.8m1.9-1.4h.8m-.6-1.4h.8m-.6 6.4h.8m-4.6-.7h.8m2.3-6.1h.8m-3.4 5.5h.8m-.8-2.6h.8m-.4 2.6h.8m.6 5.1h.8m-2.9 1.3h.8m-.4-14.0h.8m-1.4 4.8h.8m2.1-7.3h.8m-4.0 8.2h.8m1.7 2.3h.8m-.4-2.4h.8m-2.9 5.9h.8m2.9-3.6h.8m-3.8-5.4h.8m2.9 5.5h.8m-3.6-8.7h.8m-2.3 6.1h.8m2.4 .1h.8m-2.1 9.3h.8m-4.6-12.1h.8m2.7 4.1h.8m-2.0-1.2h.8m-.6 2.3h.8m-1.9-2.8h.8m.5-3.5h.8m-.4-4.8h.8m-.4 9.0h.8m-4.2 6.4h.8m-.8 3.1h.8m.0-3.7h.8m.5 1.8h.8m-1.1-2.5h.8m-1.0-12.6h.8m.5 10.2h.8m-.8 5.2h.8m-3.0-13.5h.8m1.1 3.2h.8m-1.5 3.0h.8m-2.2 4.8h.8m.5 3.0h.8m-.1-3.2h.8m-1.8-7.5h.8m-1.2-1.0h.8m1.0 4.4h.8m-3.7-7.3h.8m-.4-1.2h.8m-.9 1.3h.8m2.2 1.6h.8m-3.2 4.5h.8m.4 2.4h.8m.6 1.0h.8m-2.9 2.6h.8m.6-8.5h.8m1.3-2.1h.8m-2.7 10.6h.8m-1.5-4.0h.8m-.8 1.4h.8m-.6-2.9h.8m.1-8.3h.8m-1.7 6.9h.8m2.4 2.6h.8m-5.7 1.6h.8m-.3-8.0h.8m-.6 7.4h.8m2.0 2.4h.8m-2.6-5.3h.8m-.9 6.0h.8m-1.4-.2h.8m-2.1-5.1h.8m2.2 3.1h.8m-1.9-5.3h.8m-4.6 .3h.8m1.0 .2h.8m3.8-1.6h.8m-2.2 3.3h.8m-4.5 .6h.8m2.7-5.6h.8m-4.4 3.5h.8m2.7-1.0h.8m-1.4 4.6h.8m-1.6-.0h.8m1.6-2.8h.8m-2.6-3.8h.8m-2.8 4.2h.8m2.1-2.5h.8m-4.9 7.0h.8m6.3-15.2h.8m-7.2 11.7h.8m2.1-4.7h.8m-1.1 8.9h.8m-1.9-1.6h.8m-.0-7.2h.8m-2.2 1.4h.8m2.8 7.7h.8m-2.8-11.8h.8m-2.2 5.1h.8m-3.5 1.7h.8m3.3-5.7h.8m-2.1 3.8h.8m3.4 4.9h.8m-2.8-2.5h.8m-4.6 3.6h.8m.3-12.4h.8m1.8 6.9h.8m-2.2 3.7h.8m-1.2-.5h.8m2.0-3.2h.8m-3.9 1.5h.8m1.1-1.8h.8m-1.9-1.2h.8m-1.1 5.3h.8m-2.2-3.2h.8m-2.0-2.2h.8m2.1 5.3h.8m-2.9-2.7h.8m-.6 1.8h.8m1.4 .6h.8m-1.7-8.1h.8m-1.4 .4h.8m-1.0 5.6h.8m2.5-2.5h.8m-4.2 3.7h.8m-3.2 7.8h.8m.2-4.2h.8m3.9-.2h.8m-2.8-1.0h.8m-1.2 1.0h.8m-1.4-7.7h.8m1.1 1.6h.8m-.3-1.8h.8m-1.5-.5h.8m-3.3-1.1h.8m-1.8 4.4h.8m5.2-1.0h.8m-2.1 1.2h.8m-3.7 9.5h.8m2.4-16.7h.8m-4.6 9.8h.8m2.2-2.8h.8m-1.4 3.3h.8m-2.0 2.0h.8m-1.7-1.1h.8m2.5-2.4h.8m-3.1-1.0h.8m-4.3 1.2h.8m.7-9.8h.8m3.2 4.8h.8m-1.6 4.2h.8m-4.7-4.1h.8m1.9 5.9h.8m-.2-7.5h.8m-1.9 5.9h.8m-2.2-2.4h.8m.5-7.3h.8m3.4 13.0h.8m-4.8 .3h.8m-1.9 2.5h.8m.4-6.0h.8m-1.2-.2h.8m.9-.3h.8m-2.9 3.1h.8m1.8-3.3h.8m.1-3.2h.8m-.4 2.5h.8m-.4-1.2h.8m-4.1 2.8h.8m1.7 5.3h.8m-3.7-9.4h.8m1.4 8.5h.8m-.9-6.8h.8m.2 1.3h.8m-2.8 2.8h.8m-2.2-12.5h.8m.6 12.9h.8m-.4-.8h.8m-1.3 2.2h.8m-.9 1.9h.8m-.9-3.0h.8m-1.9-2.1h.8m1.0-.7h.8m1.3-.4h.8m-1.6 1.3h.8m-.9-5.4h.8m-3.5 8.1h.8m-1.6-2.5h.8m1.7-.9h.8m-1.0 1.5h.8m-2.0-.6h.8m-1.3-3.7h.8m-2.8 1.5h.8m-1.0 .6h.8m2.7-4.8h.8m-1.1 6.0h.8m-1.6-5.2h.8m-.4 5.7h.8m1.1 6.6h.8m-6.1-6.9h.8m3.6-4.2h.8m-1.0 11.8h.8m-1.2-3.2h.8m.9-7.8h.8m-7.0 7.0h.8m6.3-12.7h.8m-4.0 4.6h.8m-.1 3.3h.8m.9-2.8h.8m.6-4.9h.8m-4.5 10.1h.8m1.0-4.3h.8m-6.0 2.4h.8m4.1-9.8h.8m-3.0 11.3h.8m-4.3-3.3h.8m.7-5.0h.8m2.9 10.8h.8m.6-7.8h.8m-2.0-4.8h.8m-4.5 10.1h.8m1.2-6.8h.8m-3.5 3.4h.8m6.7-7.7h.8m-6.8 13.6h.8m-2.4-7.6h.8m2.9 7.6h.8m-1.1 3.0h.8m-.7-8.4h.8m.1 2.0h.8m-4.4-5.7h.8m1.5 5.6h.8m-2.6-4.6h.8m.1 4.6h.8m-.2 1.1h.8m.7-6.6h.8m-2.1-1.4h.8m-.1 8.9h.8m-2.8-11.2h.8m2.0 6.4h.8m-1.8 3.3h.8m-.0 2.0h.8m-2.3-13.6h.8m-.9 8.3h.8m-.7 3.1h.8m-.5 3.9h.8m-1.5-5.7h.8m-1.4-4.3h.8m.3 7.7h.8m-.1-4.1h.8m-3.5-8.3h.8m1.5 8.0h.8m2.9 2.7h.8m-3.3 2.6h.8m-3.2-9.6h.8m.2 11.8h.8m1.7-9.0h.8m-4.9 6.6h.8m3.5-8.9h.8m.2 1.4h.8m-2.4 2.5h.8m-2.8-1.8h.8m1.1 5.4h.8m-.6-3.9h.8m.9 .4h.8m-6.1 7.4h.8m1.6-6.3h.8m.5 1.3h.8m-2.2 7.2h.8m-4.5-5.9h.8m.9-2.5h.8m.7 .8h.8m-5.0 1.9h.8m8.0-4.8h.8m-3.5 4.5h.8m-1.9-4.9h.8m-.2 3.4h.8m.7 2.5h.8m-4.8-16.4h.8m3.3 14.9h.8m-3.3-4.8h.8m3.5 8.5h.8m-5.3-7.5h.8m.1 7.6h.8m-.9-1.8h.8m-1.3-2.6h.8m-3.7-1.0h.8m1.7-.9h.8m-1.3 1.7h.8m-1.4-2.2h.8m-1.4-4.4h.8m-.1 3.5h.8m-1.8-8.9h.8m4.3 15.2h.8m-4.6-2.0h.8m-2.2-9.6h.8m1.9 9.6h.8m-2.7-2.5h.8m-5.3-.6h.8m6.9 1.3h.8m-2.4 1.8h.8m-5.1-8.2h.8m.7 6.7h.8m.4-9.3h.8m2.1 7.5h.8m-.6 9.6h.8m-5.8-14.4h.8m4.3 11.8h.8m-2.1-4.6h.8m-.2 1.3h.8m-4.5 .4h.8m3.5-5.0h.8m-4.4-.4h.8m-.2 4.5h.8m1.8-2.2h.8m-2.8-7.9h.8m-1.0 3.4h.8m-1.0 5.9h.8m-1.4-3.9h.8m-1.3 1.2h.8m.8 5.5h.8m-3.9-.4h.8m4.1-6.3h.8m-3.3 3.2h.8m1.5-1.6h.8m-2.1 .8h.8m-2.6 1.1h.8m2.3-1.0h.8m-4.0-.2h.8m1.1 1.4h.8m-1.4 2.2h.8m2.0-.0h.8m-2.4 1.7h.8m-1.3-6.0h.8m-3.4 .8h.8m4.2-4.2h.8m-1.6-1.4h.8m-1.7 13.5h.8m-1.3-13.0h.8m-.3 4.5h.8m.2-1.6h.8m-5.6 .2h.8m3.6 6.5h.8m-1.4-4.4h.8m-.0-1.0h.8m-2.9 1.8h.8m2.1-3.2h.8m-1.9-.6h.8m-3.1 3.5h.8m-1.9-4.4h.8m-.5 1.1h.8m2.6 2.9h.8m-4.5-10.6h.8m2.6 7.6h.8" fill="none" stroke="#000" stroke-width="0.8"/></g>
<rect x="289.7" y="350.6" width="78.6" height="73.2" fill="none" stroke="#111" stroke-width="1.1"/>
<line x1="285.40" y1="423.80" x2="289.70" y2="423.80" stroke="#222" stroke-width="0.9" />
<line x1="287.50" y1="418.29" x2="289.70" y2="418.29" stroke="#333" stroke-width="0.7" />
<line x1="287.50" y1="415.07" x2="289.70" y2="415.07" stroke="#333" stroke-width="0.7" />
<line x1="287.50" y1="412.78" x2="289.70" y2="412.78" stroke="#333" stroke-width="0.7" />
<line x1="287.50" y1="411.01" x2="289.70" y2="411.01" stroke="#333" stroke-width="0.7" />
<line x1="287.50" y1="409.56" x2="289.70" y2="409.56" stroke="#333" stroke-width="0.7" />
<line x1="287.50" y1="408.33" x2="289.70" y2="408.33" stroke="#333" stroke-width="0.7" />
<line x1="287.50" y1="407.27" x2="289.70" y2="407.27" stroke="#333" stroke-width="0.7" />
<line x1="287.50" y1="406.34" x2="289.70" y2="406.34" stroke="#333" stroke-width="0.7" />
<line x1="285.40" y1="405.50" x2="289.70" y2="405.50" stroke="#222" stroke-width="0.9" />
<line x1="287.50" y1="399.99" x2="289.70" y2="399.99" stroke="#333" stroke-width="0.7" />
<line x1="287.50" y1="396.77" x2="289.70" y2="396.77" stroke="#333" stroke-width="0.7" />
<line x1="287.50" y1="394.48" x2="289.70" y2="394.48" stroke="#333" stroke-width="0.7" />
<line x1="287.50" y1="392.71" x2="289.70" y2="392.71" stroke="#333" stroke-width="0.7" />
<line x1="287.50" y1="391.26" x2="289.70" y2="391.26" stroke="#333" stroke-width="0.7" />
<line x1="287.50" y1="390.03" x2="289.70" y2="390.03" stroke="#333" stroke-width="0.7" />
<line x1="287.50" y1="388.97" x2="289.70" y2="388.97" stroke="#333" stroke-width="0.7" />
<line x1="287.50" y1="388.04" x2="289.70" y2="388.04" stroke="#333" stroke-width="0.7" />
<line x1="285.40" y1="387.20" x2="289.70" y2="387.20" stroke="#222" stroke-width="0.9" />
<line x1="287.50" y1="381.69" x2="289.70" y2="381.69" stroke="#333" stroke-width="0.7" />
<line x1="287.50" y1="378.47" x2="289.70" y2="378.47" stroke="#333" stroke-width="0.7" />
<line x1="287.50" y1="376.18" x2="289.70" y2="376.18" stroke="#333" stroke-width="0.7" />
<line x1="287.50" y1="374.41" x2="289.70" y2="374.41" stroke="#333" stroke-width="0.7" />
<line x1="287.50" y1="372.96" x2="289.70" y2="372.96" stroke="#333" stroke-width="0.7" />
<line x1="287.50" y1="371.73" x2="289.70" y2="371.73" stroke="#333" stroke-width="0.7" />
<line x1="287.50" y1="370.67" x2="289.70" y2="370.67" stroke="#333" stroke-width="0.7" />
<line x1="287.50" y1="369.74" x2="289.70" y2="369.74" stroke="#333" stroke-width="0.7" />
<line x1="285.40" y1="368.90" x2="289.70" y2="368.90" stroke="#222" stroke-width="0.9" />
<line x1="287.50" y1="363.39" x2="289.70" y2="363.39" stroke="#333" stroke-width="0.7" />
<line x1="287.50" y1="360.17" x2="289.70" y2="360.17" stroke="#333" stroke-width="0.7" />
<line x1="287.50" y1="357.88" x2="289.70" y2="357.88" stroke="#333" stroke-width="0.7" />
<line x1="287.50" y1="356.11" x2="289.70" y2="356.11" stroke="#333" stroke-width="0.7" />
<line x1="287.50" y1="354.66" x2="289.70" y2="354.66" stroke="#333" stroke-width="0.7" />
<line x1="287.50" y1="353.43" x2="289.70" y2="353.43" stroke="#333" stroke-width="0.7" />
<line x1="287.50" y1="352.37" x2="289.70" y2="352.37" stroke="#333" stroke-width="0.7" />
<line x1="287.50" y1="351.44" x2="289.70" y2="351.44" stroke="#333" stroke-width="0.7" />
<line x1="285.40" y1="350.60" x2="289.70" y2="350.60" stroke="#222" stroke-width="0.9" />
<line x1="289.70" y1="423.80" x2="289.70" y2="428.10" stroke="#222" stroke-width="0.9" />
<line x1="295.62" y1="423.80" x2="295.62" y2="426.00" stroke="#333" stroke-width="0.7" />
<line x1="299.08" y1="423.80" x2="299.08" y2="426.00" stroke="#333" stroke-width="0.7" />
<line x1="301.53" y1="423.80" x2="301.53" y2="426.00" stroke="#333" stroke-width="0.7" />
<line x1="303.43" y1="423.80" x2="303.43" y2="426.00" stroke="#333" stroke-width="0.7" />
<line x1="304.99" y1="423.80" x2="304.99" y2="426.00" stroke="#333" stroke-width="0.7" />
<line x1="306.31" y1="423.80" x2="306.31" y2="426.00" stroke="#333" stroke-width="0.7" />
<line x1="307.45" y1="423.80" x2="307.45" y2="426.00" stroke="#333" stroke-width="0.7" />
<line x1="308.45" y1="423.80" x2="308.45" y2="426.00" stroke="#333" stroke-width="0.7" />
<line x1="309.35" y1="423.80" x2="309.35" y2="428.10" stroke="#222" stroke-width="0.9" />
<line x1="315.27" y1="423.80" x2="315.27" y2="426.00" stroke="#333" stroke-width="0.7" />
<line x1="318.73" y1="423.80" x2="318.73" y2="426.00" stroke="#333" stroke-width="0.7" />
<line x1="321.18" y1="423.80" x2="321.18" y2="426.00" stroke="#333" stroke-width="0.7" />
<line x1="323.08" y1="423.80" x2="323.08" y2="426.00" stroke="#333" stroke-width="0.7" />
<line x1="324.64" y1="423.80" x2="324.64" y2="426.00" stroke="#333" stroke-width="0.7" />
<line x1="325.96" y1="423.80" x2="325.96" y2="426.00" stroke="#333" stroke-width="0.7" />
<line x1="327.10" y1="423.80" x2="327.10" y2="426.00" stroke="#333" stroke-width="0.7" />
<line x1="328.10" y1="423.80" x2="328.10" y2="426.00" stroke="#333" stroke-width="0.7" />
<line x1="329.00" y1="423.80" x2="329.00" y2="428.10" stroke="#222" stroke-width="0.9" />
<line x1="334.92" y1="423.80" x2="334.92" y2="426.00" stroke="#333" stroke-width="0.7" />
<line x1="338.38" y1="423.80" x2="338.38" y2="426.00" stroke="#333" stroke-width="0.7" />
<line x1="340.83" y1="423.80" x2="340.83" y2="426.00" stroke="#333" stroke-width="0.7" />
<line x1="342.73" y1="423.80" x2="342.73" y2="426.00" stroke="#333" stroke-width="0.7" />
<line x1="344.29" y1="423.80" x2="344.29" y2="426.00" stroke="#333" stroke-width="0.7" />
<line x1="345.61" y1="423.80" x2="345.61" y2="426.00" stroke="#333" stroke-width="0.7" />
<line x1="346.75" y1="423.80" x2="346.75" y2="426.00" stroke="#333" stroke-width="0.7" />
<line x1="347.75" y1="423.80" x2="347.75" y2="426.00" stroke="#333" stroke-width="0.7" />
<line x1="348.65" y1="423.80" x2="348.65" y2="428.10" stroke="#222" stroke-width="0.9" />
<line x1="354.57" y1="423.80" x2="354.57" y2="426.00" stroke="#333" stroke-width="0.7" />
<line x1="358.03" y1="423.80" x2="358.03" y2="426.00" stroke="#333" stroke-width="0.7" />
<line x1="360.48" y1="423.80" x2="360.48" y2="426.00" stroke="#333" stroke-width="0.7" />
<line x1="362.38" y1="423.80" x2="362.38" y2="426.00" stroke="#333" stroke-width="0.7" />
<line x1="363.94" y1="423.80" x2="363.94" y2="426.00" stroke="#333" stroke-width="0.7" />
<line x1="365.26" y1="423.80" x2="365.26" y2="426.00" stroke="#333" stroke-width="0.7" />
<line x1="366.40" y1="423.80" x2="366.40" y2="426.00" stroke="#333" stroke-width="0.7" />
<line x1="367.40" y1="423.80" x2="367.40" y2="426.00" stroke="#333" stroke-width="0.7" />
<line x1="368.30" y1="423.80" x2="368.30" y2="428.10" stroke="#222" stroke-width="0.9" />
<rect x="342.5" y="363.1" width="23.1" height="34.4" fill="none" stroke="#7878b4" stroke-width="0.95"/>
<text x="340.6" y="382.9" font-size="10.6" text-anchor="end" fill="#111" font-weight="normal"  stroke="#111" stroke-width="0.3">0.1</text>
<path d="M442.3 377.6h.7m8.1 10.5h.7m10.8-2.6h.7m-6.5 15.9h.7m.3-.1h.7m-6.9-3.8h.7" fill="none" stroke="#aaa" stroke-width="0.7"/>
<g filter="url(#bl)"><path d="M458.1 408.6h.7m-7.7-.9h.7m-1.4-2.7h.7m6.0 3.1h.7m-.8-.1h.7m-3.4 .0h.7m-1.6-.4h.7m5.4 2.1h.7m-11.0 6.2h.7m8.8-2.0h.7m-4.8-4.5h.7m-1.8 1.0h.7m2.1-.4h.7m-4.5-3.4h.7m6.7 9.3h.7m-9.4-8.2h.7m2.9 4.3h.7m-.9-1.2h.7m.7 3.2h.7m-5.7-.2h.7m4.5-2.0h.7m-6.5-2.7h.7m3.0 3.0h.7m2.1 .2h.7m-6.6 2.0h.7m3.4-1.1h.7m-.9-5.7h.7m7.2 4.8h.7m-6.3-3.9h.7m-3.6 5.5h.7m1.3 2.2h.7m1.6-9.9h.7m-8.9 7.8h.7m5.7-5.0h.7m-3.4-1.0h.7m5.5 1.4h.7m-10.2 3.7h.7m3.2-1.9h.7m-1.6-1.4h.7m-5.2 2.0h.7m2.9-3.2h.7m2.3 5.8h.7m-8.1-4.9h.7m7.4 4.0h.7m-5.1-2.4h.7m3.2 2.1h.7m-3.8-3.9h.7m-.4 4.6h.7m4.1-5.5h.7m-4.4 2.3h.7m-3.0-1.2h.7m4.6 3.1h.7m-5.3-4.9h.7m1.0-2.8h.7m.6 5.5h.7m-5.6-1.2h.7m1.3-.1h.7m-1.3 5.7h.7m-1.0-2.1h.7m2.8 2.4h.7m-1.5-5.0h.7m-.3-6.5h.7m6.3 5.8h.7m-8.8-3.2h.7m-.2 9.4h.7m-2.6-4.0h.7m4.6 1.7h.7m-5.0-9.3h.7m1.7 8.0h.7m-2.9-3.4h.7m5.5-4.0h.7m-7.5 3.3h.7m-3.8-.3h.7m1.6 6.7h.7m-3.5-9.0h.7m5.3-.6h.7m-7.5 3.2h.7m1.7-1.2h.7m2.4 4.9h.7m-2.2-2.5h.7m3.4 .4h.7m-.6-1.5h.7m-1.4 6.4h.7m-6.3 5.9h.7m2.5-11.4h.7m-.2 2.7h.7m-3.8-1.5h.7m1.2 4.7h.7m-4.1-2.7h.7m3.5-4.8h.7m.7 1.7h.7m-1.0 1.6h.7m2.8-2.2h.7m.7-7.8h.7m-.2 13.4h.7m-1.5-3.5h.7m-4.5-4.1h.7m2.5-.5h.7m-7.1 4.0h.7m2.4 1.2h.7m-4.9-2.3h.7m4.2 5.2h.7m.1-2.6h.7m-3.8-3.3h.7m-1.5 1.5h.7m2.4-1.4h.7m3.9-1.7h.7m-4.4 2.7h.7m-3.6-.6h.7m4.3 .3h.7m-3.6 1.4h.7m-.1 1.6h.7m2.0-4.5h.7m-8.1 8.3h.7m5.6-5.5h.7m-5.4 .6h.7m4.1-3.5h.7m-.3 2.4h.7m-6.1-1.2h.7m-5.9 2.4h.7m1.6-3.0h.7m.6 2.7h.7m4.1-.7h.7m-2.3 1.3h.7m3.5 .6h.7m-.8-2.2h.7m-4.3-2.0h.7m.0-.7h.7m-1.1 .8h.7m-3.2 6.3h.7m.8-1.4h.7m-1.9-9.0h.7m4.4 5.7h.7m-7.0 3.8h.7m-2.2-5.7h.7m6.1 .2h.7m-.8 1.3h.7m-4.7 1.3h.7m-1.6 3.4h.7m4.1-3.4h.7m-2.2 1.6h.7m2.5-7.2h.7m-2.7 8.5h.7m-4.7-3.1h.7m-.8 4.2h.7m-3.1-2.1h.7m6.6-.1h.7m-6.0-3.5h.7m-5.6-1.9h.7m8.9 .3h.7m-8.9 2.4h.7m-.3 2.4h.7m1.1 1.7h.7m1.6-8.0h.7m-2.7 2.6h.7m-.9 6.4h.7m-1.2-3.0h.7m.6 .8h.7m-3.2-7.3h.7m5.1 10.2h.7m-6.4-5.9h.7m1.9-2.1h.7m3.7 3.3h.7m-7.7-.9h.7m7.4-1.7h.7m-6.2-.4h.7m1.3 .9h.7m1.5-.9h.7m-7.7 4.3h.7m-5.8-4.8h.7m9.6 4.1h.7m-3.3-2.3h.7m2.6 14.1h.7m-4.7-13.2h.7m.3 2.5h.7m.7 .0h.7m4.2-2.8h.7m-6.5 2.2h.7m6.4-2.5h.7m-1.9 5.2h.7" fill="none" stroke="#333" stroke-width="0.7"/>
<path d="M453.4 401.4h.8m-.6 3.7h.8m2.5 1.2h.8m1.4-1.2h.8m-4.6 3.8h.8m4.3-5.2h.8m-6.5 1.9h.8m-.1-1.5h.8m-.1-.2h.8m1.3-.7h.8m-.7 1.8h.8m-1.7 .7h.8m-3.3 4.8h.8m-.9-3.5h.8m.8-2.8h.8m5.6 .6h.8m-7.6 1.4h.8m2.9 .6h.8m-.8-3.3h.8m-5.4-.2h.8m2.1 2.8h.8m-3.0 .4h.8m.2-2.5h.8m-4.1 4.2h.8m10.8-5.3h.8m-13.3 1.5h.8m4.5 1.3h.8m1.4-6.6h.8m1.8 4.0h.8m-6.1 2.4h.8m-2.8-.6h.8m2.8-4.1h.8m-3.1 5.2h.8m-6.1 .6h.8m9.7-2.8h.8m-3.2 1.5h.8m-2.6-.0h.8m-4.4 .2h.8m7.1-4.8h.8m-7.3 2.3h.8m-1.7 1.3h.8m-2.4 2.5h.8m.3 .2h.8m6.1-8.4h.8m-6.8 3.1h.8m.9 4.1h.8m.8 1.0h.8m-2.8-4.9h.8m4.0-.3h.8m-5.1 4.0h.8m-3.5 .5h.8m5.7-5.8h.8m-10.1 5.8h.8m3.5-3.2h.8m-6.3 6.2h.8m6.4-6.9h.8m.6 1.9h.8m-2.9-1.7h.8m-.9 3.5h.8m-6.6-.8h.8m9.8 2.0h.8m-3.1-3.1h.8m-6.6 1.5h.8m2.4 .5h.8m.5 3.5h.8m1.4-9.8h.8m-7.4 6.6h.8m6.3-1.8h.8m-14.0 .9h.8m13.7-1.0h.8m3.2-1.1h.8m-7.1 3.7h.8m-5.0-2.5h.8m-2.1 2.0h.8m4.3-.5h.8m2.2-1.7h.8m-2.0-1.2h.8m-7.2 4.2h.8m5.9-1.3h.8m-5.7-1.7h.8m-.9 1.6h.8m-.1-1.3h.8m.1-.5h.8m-.7-.6h.8m-6.6 2.7h.8m9.9-4.9h.8m-2.6 4.8h.8m-6.1-.2h.8m-6.2 2.6h.8m11.2-5.1h.8m-12.6 2.8h.8m3.6-.3h.8m2.2-2.1h.8m-3.0 .0h.8m2.7 .7h.8m-2.0-.9h.8m-.2 .2h.8m-1.3 .5h.8m-4.5-.5h.8m-4.8 .9h.8m9.5 5.2h.8m-10.1-4.5h.8m7.2 5.6h.8m-4.4-7.9h.8m3.2 4.8h.8m-13.1-1.8h.8m12.1-4.7h.8m-4.8 2.5h.8m1.5-2.4h.8m-1.2 3.4h.8m.1 .1h.8m-3.5-3.3h.8m-1.8 2.0h.8m2.4 .2h.8m-1.2 2.7h.8m-1.3 1.3h.8m.2-6.5h.8m-3.7 6.3h.8m-.5-.1h.8m-1.8-2.2h.8m3.4-4.4h.8m-3.1 3.0h.8m.9 3.6h.8m-1.7-5.6h.8m1.3 1.0h.8m-2.3 3.7h.8m-2.4 .2h.8m-.4-3.8h.8m-2.6-.2h.8m4.9 .9h.8m-2.3-2.0h.8m-1.2 .0h.8m-1.9 2.7h.8m-3.4 1.6h.8m.5-2.8h.8m-3.6 .2h.8m6.9 .0h.8m-6.0 3.0h.8m-3.6-2.6h.8m4.8 3.3h.8m-1.9-2.4h.8m2.8-4.6h.8m3.7-.8h.8m-11.0 3.2h.8m-3.8 3.2h.8m10.5-5.5h.8m-9.8 5.7h.8m-2.4-.4h.8m3.9-5.5h.8m-3.2 4.6h.8m-1.4 .5h.8m-5.1 .9h.8m2.9-2.5h.8m6.8 3.2h.8m-4.1-4.4h.8m2.0 1.6h.8m-7.9 2.8h.8m-.1-.3h.8m4.4-.7h.8m-7.9 .1h.8m1.9-3.1h.8m1.7 2.8h.8m-7.3-.1h.8m-.4-1.6h.8m1.0 4.5h.8m-.6-3.5h.8m5.4 .5h.8m-1.4-5.8h.8m-2.7 1.3h.8m-4.4 3.9h.8m.9 4.0h.8m-.0-1.8h.8m-1.6-2.1h.8m1.7 .1h.8m-2.2-3.8h.8m.5 3.5h.8m-.7-.8h.8m-2.2-1.9h.8m1.6-.7h.8m1.5 3.5h.8m-6.3-.6h.8m1.9-1.0h.8m-6.7 3.3h.8m-1.4-1.2h.8m9.6-1.3h.8m-8.5 1.1h.8m-1.4 .3h.8m-2.9 2.1h.8m3.1-3.9h.8m-.8 6.4h.8m-2.2-5.6h.8m-1.3 .1h.8m6.0-.2h.8m-3.8 .5h.8m-7.5-3.0h.8m9.6 2.4h.8m-5.2 .7h.8m-1.0-.4h.8m-3.7-3.4h.8m3.3 3.0h.8m.7-.0h.8m-4.7 2.0h.8m.1-2.4h.8m-2.6 .7h.8m-.6-.1h.8m5.4 4.4h.8m-5.4-1.8h.8m-9.5-5.4h.8m5.9 3.6h.8m-2.4-1.8h.8m-.6 1.6h.8m2.5-.9h.8m-5.1 1.5h.8m7.5-4.0h.8m-4.2 5.0h.8m-4.6-1.7h.8m12.2-1.2h.8m-12.4 2.1h.8m1.2-.8h.8m.1-1.2h.8m-9.8 2.0h.8m6.5-3.5h.8m-.5 5.5h.8m-.4-4.4h.8m-.0 3.1h.8m-8.2-1.8h.8m3.1 .2h.8m.9-.9h.8m.2 .9h.8m-5.3 .2h.8m-.5 1.7h.8m4.2-1.1h.8m-5.2-.7h.8m-4.7 2.5h.8m1.3-.1h.8m7.9-3.0h.8m-2.4 .1h.8m-1.2 1.5h.8m2.7 .8h.8m-6.4-.3h.8m2.6-2.0h.8m-3.8-2.2h.8m2.1-.3h.8m-6.3 2.1h.8m3.0-1.6h.8m-.2 2.8h.8m-2.5-1.2h.8m1.8 2.3h.8m-5.7-2.9h.8m-1.1 .5h.8m.8 .8h.8m-6.4 5.2h.8m2.8-5.0h.8m-5.4-1.3h.8m3.6 2.7h.8m3.9-5.7h.8m-.7 6.5h.8m-2.8-.4h.8m-.1-3.9h.8m1.6-.2h.8m-2.7 1.1h.8m-2.3 1.6h.8m2.9-5.0h.8m-7.4 5.9h.8m5.7-2.9h.8m-4.1 2.6h.8m3.9-4.5h.8m-10.5 4.8h.8m6.1-4.5h.8m1.8 3.5h.8m-3.0-2.7h.8m-6.5 5.0h.8m4.2-1.7h.8m-8.2-4.4h.8m9.6 4.0h.8m-5.9-.1h.8m2.0 .5h.8m-3.6-1.4h.8m-2.3 3.6h.8m-.2-8.9h.8m1.8 4.6h.8m-5.9 2.0h.8m-.8 .1h.8m2.1 .8h.8m-3.8-3.5h.8m.8 .3h.8m4.2 .5h.8m-8.9 1.6h.8m5.0-.5h.8m-6.6 2.0h.8m6.7-.5h.8m1.1-2.9h.8m-8.6 2.4h.8m5.1-3.2h.8m1.1-.8h.8m-7.3 5.9h.8m2.1-2.1h.8m-1.6-.3h.8m-.5 3.5h.8m1.9-4.9h.8m-.8 1.9h.8m-4.4 .0h.8m1.1-2.1h.8m-3.7 1.8h.8m.6-.9h.8m-5.7 2.7h.8m7.5-3.0h.8m3.1 .1h.8m-8.4-.3h.8m2.1-.5h.8m-7.2 3.3h.8m3.2-2.1h.8m2.4-.3h.8m3.1-3.2h.8m-6.9 4.3h.8m-2.4-1.0h.8m5.6-4.2h.8m-5.5 1.1h.8m-.9-.3h.8m-3.7 7.0h.8m7.2-4.9h.8m-13.8 6.5h.8m7.3-7.1h.8m-2.8 .3h.8m.8 1.8h.8m.4 1.3h.8m-5.1-4.3h.8m-1.9 2.2h.8m2.3 .5h.8m1.4 2.7h.8m-2.1-4.3h.8m-1.7 .7h.8m.3 2.4h.8m-3.6 1.2h.8m9.0-2.0h.8m-2.2-2.3h.8m-9.1 6.8h.8m2.2-4.6h.8m-2.5-1.7h.8m2.0-1.9h.8m-5.9 5.7h.8m1.5-3.6h.8m3.4 2.9h.8m-4.3-1.8h.8m2.6 .9h.8m.5-1.0h.8m-6.3 1.7h.8m-.1-4.6h.8m4.5 2.5h.8m-.8-1.3h.8m-2.8 .7h.8m-2.0 2.3h.8m-1.3-.4h.8m-.7 1.2h.8m-.4-5.7h.8m3.7 2.4h.8m-8.4 .7h.8m7.6-1.7h.8m-5.2 2.6h.8m-3.6 3.3h.8m6.2-7.5h.8m-4.4-.3h.8m-4.4 4.6h.8m.8 .4h.8m.2-.7h.8m-2.6 .5h.8m-1.1 3.3h.8m.7-2.0h.8m-1.5-2.4h.8m-2.4-1.6h.8m7.4 .3h.8m-7.5 .7h.8m2.9-1.1h.8m-6.5 1.6h.8m6.1-.9h.8m-6.8 .3h.8m4.3-.1h.8m-5.5 2.9h.8m1.9-4.6h.8m1.4 3.3h.8m-6.7-2.5h.8m4.1 .1h.8m-4.9 1.6h.8m-.3 2.0h.8m-3.6 .4h.8m6.7-1.7h.8m-2.7-.8h.8m-3.9 .4h.8m-1.8 3.8h.8m-.1-5.5h.8m3.8 3.2h.8m-3.7-2.5h.8m-4.6 3.2h.8m1.1-3.2h.8m1.5-2.0h.8m-1.1-2.1h.8m-4.5 3.3h.8m1.8 3.4h.8m-3.8 2.2h.8m.0-3.9h.8m4.3-2.3h.8m1.0 .4h.8m-6.2 .5h.8m3.7 .1h.8m-6.5 .4h.8m-.7 1.6h.8m-.5 1.6h.8m.5-3.2h.8m2.0 2.9h.8m-9.5 1.1h.8m9.0-4.0h.8m-2.6-2.6h.8m-4.2 6.1h.8m.7-2.4h.8m1.7-.3h.8m-1.9-1.3h.8m-2.0 3.9h.8m-3.1-4.4h.8m1.1 3.8h.8m5.5-3.7h.8m-8.1 3.5h.8m2.4-.1h.8m-.4-1.0h.8m-1.0-.6h.8m-5.6 .6h.8m8.0-.3h.8m-3.4-.9h.8m-4.2 1.1h.8m-1.0 1.5h.8m-1.9-3.1h.8m-3.4 5.4h.8m.4-5.1h.8m4.5 3.2h.8m-1.3-3.9h.8m-1.4-.7h.8m-2.8 2.4h.8m.5 1.0h.8m1.5 1.3h.8m-1.2-4.0h.8m-2.9-.3h.8m-3.2 1.8h.8m4.1-2.4h.8m-9.0 2.4h.8m.8 1.0h.8m1.4-2.7h.8m-1.9 1.8h.8m3.5 .4h.8m1.6-2.5h.8m-2.8 1.3h.8m-6.6 .8h.8m9.7-2.9h.8m-1.9 2.3h.8m-1.4-1.7h.8m-3.1 .6h.8m-7.7 .8h.8m3.7-2.5h.8m-.6 1.3h.8m-1.1-.8h.8m1.4 1.4h.8m-8.9 .6h.8m4.0-2.1h.8m1.3 3.3h.8m-3.3 2.6h.8m5.1-4.2h.8m-3.8 1.4h.8m-2.5 2.2h.8m-4.0-6.1h.8m2.7 4.4h.8m.7-3.5h.8m1.1-.2h.8m-2.2 3.5h.8m-2.0 1.2h.8m-2.3 2.3h.8m.7-5.3h.8m6.0-1.7h.8m-13.0 7.2h.8m7.8-6.9h.8m-7.6 5.7h.8m1.2-4.7h.8m-1.8 2.3h.8m4.6 .9h.8m-5.8 1.8h.8m-4.1-.4h.8m3.3-2.0h.8m-2.4-1.6h.8m2.6 2.3h.8m-9.2 1.0h.8m4.1-3.9h.8m-2.7 3.7h.8m5.2-1.9h.8m-10.0-.8h.8m4.1 .3h.8m6.6-2.6h.8m-5.0 4.2h.8m3.6-2.8h.8m-3.9 4.1h.8m-5.4-5.5h.8m-1.0 2.9h.8m6.0-1.3h.8m-1.3-.2h.8m-4.8 .2h.8m-4.1 3.3h.8m4.2-1.7h.8m-4.2-.7h.8m2.6 .7h.8m3.3-4.3h.8m-2.8 4.1h.8m-5.1 .1h.8m.7 2.1h.8m6.5-5.0h.8m-9.1 4.2h.8m.8-2.8h.8m.7 1.5h.8m-4.4 1.3h.8m-7.8-1.5h.8m6.1 .3h.8m-3.5 3.5h.8m1.7-3.5h.8m.6 .6h.8m-2.5 .6h.8m-2.9-3.5h.8m4.4 1.3h.8m-1.0-4.0h.8m-2.4 3.1h.8m-1.6 .8h.8m-1.5-.3h.8m2.9-3.3h.8m-7.8 6.5h.8m9.9-6.0h.8m-10.1 2.6h.8m.3 4.2h.8m4.2-2.5h.8m-2.2-.8h.8m-4.4-1.0h.8m5.0 4.5h.8m-4.6-.9h.8m-2.6-1.7h.8m6.5-2.9h.8m-4.4 .4h.8m2.6-2.5h.8m-4.3 3.2h.8m-1.6 1.4h.8m3.0-.4h.8m-1.9-.6h.8m-6.8 4.0h.8m6.7-4.4h.8m-3.5-.4h.8m-7.0 4.6h.8m2.0 .8h.8m2.4-4.9h.8m-4.8 1.7h.8m-2.3-.4h.8m7.3-2.8h.8m.1 .1h.8m-5.7 .2h.8m-2.7 1.6h.8m-2.7 5.3h.8m4.1-5.7h.8m-5.9 2.1h.8m-1.3-1.7h.8" fill="none" stroke="#000" stroke-width="0.8"/></g>
<rect x="394.5" y="350.6" width="75.9" height="73.2" fill="none" stroke="#111" stroke-width="1.1"/>
<line x1="390.20" y1="423.80" x2="394.50" y2="423.80" stroke="#222" stroke-width="0.9" />
<line x1="392.30" y1="418.29" x2="394.50" y2="418.29" stroke="#333" stroke-width="0.7" />
<line x1="392.30" y1="415.07" x2="394.50" y2="415.07" stroke="#333" stroke-width="0.7" />
<line x1="392.30" y1="412.78" x2="394.50" y2="412.78" stroke="#333" stroke-width="0.7" />
<line x1="392.30" y1="411.01" x2="394.50" y2="411.01" stroke="#333" stroke-width="0.7" />
<line x1="392.30" y1="409.56" x2="394.50" y2="409.56" stroke="#333" stroke-width="0.7" />
<line x1="392.30" y1="408.33" x2="394.50" y2="408.33" stroke="#333" stroke-width="0.7" />
<line x1="392.30" y1="407.27" x2="394.50" y2="407.27" stroke="#333" stroke-width="0.7" />
<line x1="392.30" y1="406.34" x2="394.50" y2="406.34" stroke="#333" stroke-width="0.7" />
<line x1="390.20" y1="405.50" x2="394.50" y2="405.50" stroke="#222" stroke-width="0.9" />
<line x1="392.30" y1="399.99" x2="394.50" y2="399.99" stroke="#333" stroke-width="0.7" />
<line x1="392.30" y1="396.77" x2="394.50" y2="396.77" stroke="#333" stroke-width="0.7" />
<line x1="392.30" y1="394.48" x2="394.50" y2="394.48" stroke="#333" stroke-width="0.7" />
<line x1="392.30" y1="392.71" x2="394.50" y2="392.71" stroke="#333" stroke-width="0.7" />
<line x1="392.30" y1="391.26" x2="394.50" y2="391.26" stroke="#333" stroke-width="0.7" />
<line x1="392.30" y1="390.03" x2="394.50" y2="390.03" stroke="#333" stroke-width="0.7" />
<line x1="392.30" y1="388.97" x2="394.50" y2="388.97" stroke="#333" stroke-width="0.7" />
<line x1="392.30" y1="388.04" x2="394.50" y2="388.04" stroke="#333" stroke-width="0.7" />
<line x1="390.20" y1="387.20" x2="394.50" y2="387.20" stroke="#222" stroke-width="0.9" />
<line x1="392.30" y1="381.69" x2="394.50" y2="381.69" stroke="#333" stroke-width="0.7" />
<line x1="392.30" y1="378.47" x2="394.50" y2="378.47" stroke="#333" stroke-width="0.7" />
<line x1="392.30" y1="376.18" x2="394.50" y2="376.18" stroke="#333" stroke-width="0.7" />
<line x1="392.30" y1="374.41" x2="394.50" y2="374.41" stroke="#333" stroke-width="0.7" />
<line x1="392.30" y1="372.96" x2="394.50" y2="372.96" stroke="#333" stroke-width="0.7" />
<line x1="392.30" y1="371.73" x2="394.50" y2="371.73" stroke="#333" stroke-width="0.7" />
<line x1="392.30" y1="370.67" x2="394.50" y2="370.67" stroke="#333" stroke-width="0.7" />
<line x1="392.30" y1="369.74" x2="394.50" y2="369.74" stroke="#333" stroke-width="0.7" />
<line x1="390.20" y1="368.90" x2="394.50" y2="368.90" stroke="#222" stroke-width="0.9" />
<line x1="392.30" y1="363.39" x2="394.50" y2="363.39" stroke="#333" stroke-width="0.7" />
<line x1="392.30" y1="360.17" x2="394.50" y2="360.17" stroke="#333" stroke-width="0.7" />
<line x1="392.30" y1="357.88" x2="394.50" y2="357.88" stroke="#333" stroke-width="0.7" />
<line x1="392.30" y1="356.11" x2="394.50" y2="356.11" stroke="#333" stroke-width="0.7" />
<line x1="392.30" y1="354.66" x2="394.50" y2="354.66" stroke="#333" stroke-width="0.7" />
<line x1="392.30" y1="353.43" x2="394.50" y2="353.43" stroke="#333" stroke-width="0.7" />
<line x1="392.30" y1="352.37" x2="394.50" y2="352.37" stroke="#333" stroke-width="0.7" />
<line x1="392.30" y1="351.44" x2="394.50" y2="351.44" stroke="#333" stroke-width="0.7" />
<line x1="390.20" y1="350.60" x2="394.50" y2="350.60" stroke="#222" stroke-width="0.9" />
<line x1="394.50" y1="423.80" x2="394.50" y2="428.10" stroke="#222" stroke-width="0.9" />
<line x1="400.21" y1="423.80" x2="400.21" y2="426.00" stroke="#333" stroke-width="0.7" />
<line x1="403.55" y1="423.80" x2="403.55" y2="426.00" stroke="#333" stroke-width="0.7" />
<line x1="405.92" y1="423.80" x2="405.92" y2="426.00" stroke="#333" stroke-width="0.7" />
<line x1="407.76" y1="423.80" x2="407.76" y2="426.00" stroke="#333" stroke-width="0.7" />
<line x1="409.27" y1="423.80" x2="409.27" y2="426.00" stroke="#333" stroke-width="0.7" />
<line x1="410.54" y1="423.80" x2="410.54" y2="426.00" stroke="#333" stroke-width="0.7" />
<line x1="411.64" y1="423.80" x2="411.64" y2="426.00" stroke="#333" stroke-width="0.7" />
<line x1="412.61" y1="423.80" x2="412.61" y2="426.00" stroke="#333" stroke-width="0.7" />
<line x1="413.48" y1="423.80" x2="413.48" y2="428.10" stroke="#222" stroke-width="0.9" />
<line x1="419.19" y1="423.80" x2="419.19" y2="426.00" stroke="#333" stroke-width="0.7" />
<line x1="422.53" y1="423.80" x2="422.53" y2="426.00" stroke="#333" stroke-width="0.7" />
<line x1="424.90" y1="423.80" x2="424.90" y2="426.00" stroke="#333" stroke-width="0.7" />
<line x1="426.74" y1="423.80" x2="426.74" y2="426.00" stroke="#333" stroke-width="0.7" />
<line x1="428.24" y1="423.80" x2="428.24" y2="426.00" stroke="#333" stroke-width="0.7" />
<line x1="429.51" y1="423.80" x2="429.51" y2="426.00" stroke="#333" stroke-width="0.7" />
<line x1="430.61" y1="423.80" x2="430.61" y2="426.00" stroke="#333" stroke-width="0.7" />
<line x1="431.58" y1="423.80" x2="431.58" y2="426.00" stroke="#333" stroke-width="0.7" />
<line x1="432.45" y1="423.80" x2="432.45" y2="428.10" stroke="#222" stroke-width="0.9" />
<line x1="438.16" y1="423.80" x2="438.16" y2="426.00" stroke="#333" stroke-width="0.7" />
<line x1="441.50" y1="423.80" x2="441.50" y2="426.00" stroke="#333" stroke-width="0.7" />
<line x1="443.87" y1="423.80" x2="443.87" y2="426.00" stroke="#333" stroke-width="0.7" />
<line x1="445.71" y1="423.80" x2="445.71" y2="426.00" stroke="#333" stroke-width="0.7" />
<line x1="447.22" y1="423.80" x2="447.22" y2="426.00" stroke="#333" stroke-width="0.7" />
<line x1="448.49" y1="423.80" x2="448.49" y2="426.00" stroke="#333" stroke-width="0.7" />
<line x1="449.59" y1="423.80" x2="449.59" y2="426.00" stroke="#333" stroke-width="0.7" />
<line x1="450.56" y1="423.80" x2="450.56" y2="426.00" stroke="#333" stroke-width="0.7" />
<line x1="451.42" y1="423.80" x2="451.42" y2="428.10" stroke="#222" stroke-width="0.9" />
<line x1="457.14" y1="423.80" x2="457.14" y2="426.00" stroke="#333" stroke-width="0.7" />
<line x1="460.48" y1="423.80" x2="460.48" y2="426.00" stroke="#333" stroke-width="0.7" />
<line x1="462.85" y1="423.80" x2="462.85" y2="426.00" stroke="#333" stroke-width="0.7" />
<line x1="464.69" y1="423.80" x2="464.69" y2="426.00" stroke="#333" stroke-width="0.7" />
<line x1="466.19" y1="423.80" x2="466.19" y2="426.00" stroke="#333" stroke-width="0.7" />
<line x1="467.46" y1="423.80" x2="467.46" y2="426.00" stroke="#333" stroke-width="0.7" />
<line x1="468.56" y1="423.80" x2="468.56" y2="426.00" stroke="#333" stroke-width="0.7" />
<line x1="469.53" y1="423.80" x2="469.53" y2="426.00" stroke="#333" stroke-width="0.7" />
<line x1="470.40" y1="423.80" x2="470.40" y2="428.10" stroke="#222" stroke-width="0.9" />
<rect x="445.4" y="363.1" width="22.2" height="34.4" fill="none" stroke="#7878b4" stroke-width="0.95"/>
<text x="443.3" y="382.9" font-size="10.6" text-anchor="end" fill="#111" font-weight="normal"  stroke="#111" stroke-width="0.3">0.1</text>
<line x1="68.10" y1="258.80" x2="68.10" y2="330.50" stroke="#111" stroke-width="1.25" />
<path d="M64.6 264.1 L68.1 258.9 L71.6 264.1" fill="none" stroke="#111" stroke-width="1.1"/>
<line x1="68.10" y1="350.90" x2="68.10" y2="422.30" stroke="#111" stroke-width="1.25" />
<path d="M64.6 356.20000000000005 L68.1 351.0 L71.6 356.20000000000005" fill="none" stroke="#111" stroke-width="1.1"/>
<text transform="translate(61.3,320.9) rotate(-90)" font-size="11.8" fill="#111" textLength="46.6" lengthAdjust="spacingAndGlyphs" stroke="#111" stroke-width="0.3">SIINF-dX</text>
<text transform="translate(61.5,411.4) rotate(-90)" font-size="11.8" fill="#111" stroke="#111" stroke-width="0.3">SIYR-dX</text>
<line x1="78.30" y1="434.90" x2="480.50" y2="434.90" stroke="#111" stroke-width="1.2" />
<path d="M475 431.4 L480.8 434.9 L475 438.4" fill="none" stroke="#111" stroke-width="1"/>
<text x="268.3" y="449.9" font-size="11.6" text-anchor="start" fill="#111" font-weight="normal"  stroke="#111" stroke-width="0.3">CD8</text>
</g>
<rect x="0" y="0" width="520" height="1" fill="#777"/>
<rect x="0" y="1" width="520" height="0.6" fill="#aaa"/>
<rect x="0" y="0" width="1" height="469" fill="#777"/>
<rect x="1" y="0" width="0.6" height="469" fill="#aaa"/>
<rect x="518" y="0" width="2" height="469" fill="#9a9a9a"/>
<rect x="0" y="467" width="520" height="2" fill="#9a9a9a"/>
</svg>
</body></html>
